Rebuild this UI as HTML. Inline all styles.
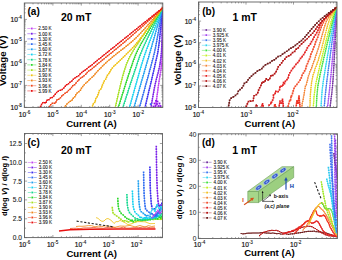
<!DOCTYPE html>
<html><head><meta charset="utf-8"><style>html,body{margin:0;padding:0;background:#fff;width:342px;height:260px;overflow:hidden}text{font-family:"Liberation Sans",sans-serif}</style></head>
<body><svg width="342" height="260" viewBox="0 0 342 260" style="display:block;font-family:'Liberation Sans',sans-serif">
<rect width="342" height="260" fill="#fff"/>
<clipPath id="ca"><rect x="24.3" y="3.0" width="138.5" height="104.4"/></clipPath>
<path d="M24.5,107.4v-2.6M24.5,3.0v2.6M52.9,107.4v-2.6M52.9,3.0v2.6M81.3,107.4v-2.6M81.3,3.0v2.6M109.7,107.4v-2.6M109.7,3.0v2.6M138.1,107.4v-2.6M138.1,3.0v2.6M33,107.4v-1.4M33,3.0v1.4M38.1,107.4v-1.4M38.1,3.0v1.4M41.6,107.4v-1.4M41.6,3.0v1.4M44.4,107.4v-1.4M44.4,3.0v1.4M46.6,107.4v-1.4M46.6,3.0v1.4M48.5,107.4v-1.4M48.5,3.0v1.4M50.1,107.4v-1.4M50.1,3.0v1.4M51.6,107.4v-1.4M51.6,3.0v1.4M61.4,107.4v-1.4M61.4,3.0v1.4M66.5,107.4v-1.4M66.5,3.0v1.4M70,107.4v-1.4M70,3.0v1.4M72.8,107.4v-1.4M72.8,3.0v1.4M75,107.4v-1.4M75,3.0v1.4M76.9,107.4v-1.4M76.9,3.0v1.4M78.5,107.4v-1.4M78.5,3.0v1.4M80,107.4v-1.4M80,3.0v1.4M89.8,107.4v-1.4M89.8,3.0v1.4M94.9,107.4v-1.4M94.9,3.0v1.4M98.4,107.4v-1.4M98.4,3.0v1.4M101.2,107.4v-1.4M101.2,3.0v1.4M103.4,107.4v-1.4M103.4,3.0v1.4M105.3,107.4v-1.4M105.3,3.0v1.4M106.9,107.4v-1.4M106.9,3.0v1.4M108.4,107.4v-1.4M108.4,3.0v1.4M118.2,107.4v-1.4M118.2,3.0v1.4M123.3,107.4v-1.4M123.3,3.0v1.4M126.8,107.4v-1.4M126.8,3.0v1.4M129.6,107.4v-1.4M129.6,3.0v1.4M131.8,107.4v-1.4M131.8,3.0v1.4M133.7,107.4v-1.4M133.7,3.0v1.4M135.3,107.4v-1.4M135.3,3.0v1.4M136.8,107.4v-1.4M136.8,3.0v1.4M146.6,107.4v-1.4M146.6,3.0v1.4M151.7,107.4v-1.4M151.7,3.0v1.4M155.2,107.4v-1.4M155.2,3.0v1.4M158,107.4v-1.4M158,3.0v1.4M160.2,107.4v-1.4M160.2,3.0v1.4M162.1,107.4v-1.4M162.1,3.0v1.4M24.3,107.4h2.6M162.8,107.4h-2.6M24.3,85.4h2.6M162.8,85.4h-2.6M24.3,63.4h2.6M162.8,63.4h-2.6M24.3,41.4h2.6M162.8,41.4h-2.6M24.3,19.4h2.6M162.8,19.4h-2.6M24.3,100.8h1.4M162.8,100.8h-1.4M24.3,96.9h1.4M162.8,96.9h-1.4M24.3,94.2h1.4M162.8,94.2h-1.4M24.3,92h1.4M162.8,92h-1.4M24.3,90.3h1.4M162.8,90.3h-1.4M24.3,88.8h1.4M162.8,88.8h-1.4M24.3,87.5h1.4M162.8,87.5h-1.4M24.3,86.4h1.4M162.8,86.4h-1.4M24.3,78.8h1.4M162.8,78.8h-1.4M24.3,74.9h1.4M162.8,74.9h-1.4M24.3,72.2h1.4M162.8,72.2h-1.4M24.3,70h1.4M162.8,70h-1.4M24.3,68.3h1.4M162.8,68.3h-1.4M24.3,66.8h1.4M162.8,66.8h-1.4M24.3,65.5h1.4M162.8,65.5h-1.4M24.3,64.4h1.4M162.8,64.4h-1.4M24.3,56.8h1.4M162.8,56.8h-1.4M24.3,52.9h1.4M162.8,52.9h-1.4M24.3,50.2h1.4M162.8,50.2h-1.4M24.3,48h1.4M162.8,48h-1.4M24.3,46.3h1.4M162.8,46.3h-1.4M24.3,44.8h1.4M162.8,44.8h-1.4M24.3,43.5h1.4M162.8,43.5h-1.4M24.3,42.4h1.4M162.8,42.4h-1.4M24.3,34.8h1.4M162.8,34.8h-1.4M24.3,30.9h1.4M162.8,30.9h-1.4M24.3,28.2h1.4M162.8,28.2h-1.4M24.3,26h1.4M162.8,26h-1.4M24.3,24.3h1.4M162.8,24.3h-1.4M24.3,22.8h1.4M162.8,22.8h-1.4M24.3,21.5h1.4M162.8,21.5h-1.4M24.3,20.4h1.4M162.8,20.4h-1.4M24.3,12.8h1.4M162.8,12.8h-1.4M24.3,8.9h1.4M162.8,8.9h-1.4M24.3,6.2h1.4M162.8,6.2h-1.4M24.3,4h1.4M162.8,4h-1.4" stroke="#606060" stroke-width="0.6" fill="none"/>
<path d="M155.5,107.4 L155.6,106.6 L155.7,105.7 L155.9,104.6 L156,103.3 L156.2,102 L156.4,100.5 L156.6,99 L156.8,97.5 L157,95.8 L157.2,94.2 L157.5,92.6 L157.7,91 L157.9,89.4 L158.1,87.8 L158.3,86.4 L158.5,85 L158.7,83.7 L158.9,82.4 L159.1,81.1 L159.3,79.8 L159.5,78.6 L159.7,77.3 L159.9,76.1 L160.1,74.8 L160.3,73.6 L160.5,72.4 L160.7,71.2 L160.9,69.9 L161,68.7 L161.2,67.5 L161.4,66.2 L161.5,65 L161.6,63.8 L161.8,62.5 L161.9,61.3 L162,60.1 L162.1,58.9 L162.2,57.7 L162.2,56.5 L162.3,55.3 L162.4,54.1 L162.5,52.9 L162.5,51.6 L162.6,50.4 L162.6,49.1 L162.7,47.7 L162.8,46.4 L162.8,45 L162.8,43.5 L162.9,41.9 L162.9,40.3 L162.9,38.5 L163,36.7 L163,34.9 L163,33.1 L163,31.2 L163,29.5 L163,27.8 L163,26.1 L163,24.6 L163,23.2 L163,22 L163,20.9 L163,20" fill="none" stroke="#c040f0" stroke-width="0.75" stroke-opacity="1.0" clip-path="url(#ca)"/>
<path d="M154.8,106.7h1.5v1.5h-1.5zM155,104.5h1.5v1.5h-1.5zM155.3,102.3h1.5v1.5h-1.5zM155.6,100.1h1.5v1.5h-1.5zM155.9,97.9h1.5v1.5h-1.5zM156.2,95.7h1.5v1.5h-1.5zM156.5,93.6h1.5v1.5h-1.5zM156.8,91.4h1.5v1.5h-1.5zM157.1,89.2h1.5v1.5h-1.5zM157.4,87h1.5v1.5h-1.5zM157.7,84.8h1.5v1.5h-1.5zM158,82.7h1.5v1.5h-1.5zM158.3,80.5h1.5v1.5h-1.5zM158.7,78.3h1.5v1.5h-1.5zM159,76.1h1.5v1.5h-1.5zM159.4,74h1.5v1.5h-1.5zM159.7,71.8h1.5v1.5h-1.5zM160.1,69.6h1.5v1.5h-1.5zM160.4,67.5h1.5v1.5h-1.5zM160.6,65.3h1.5v1.5h-1.5zM160.9,63.1h1.5v1.5h-1.5zM161.1,60.9h1.5v1.5h-1.5zM161.3,58.7h1.5v1.5h-1.5zM161.4,56.5h1.5v1.5h-1.5zM161.6,54.3h1.5v1.5h-1.5zM161.7,52.1h1.5v1.5h-1.5zM161.8,49.9h1.5v1.5h-1.5zM161.9,47.7h1.5v1.5h-1.5zM162,45.5h1.5v1.5h-1.5zM162.1,43.3h1.5v1.5h-1.5zM162.1,41.1h1.5v1.5h-1.5zM162.2,38.9h1.5v1.5h-1.5zM162.2,36.7h1.5v1.5h-1.5zM162.2,34.5h1.5v1.5h-1.5zM162.2,32.3h1.5v1.5h-1.5zM162.2,30.1h1.5v1.5h-1.5zM162.2,27.9h1.5v1.5h-1.5zM162.2,25.7h1.5v1.5h-1.5zM162.2,23.5h1.5v1.5h-1.5zM162.2,21.3h1.5v1.5h-1.5z" fill="#c040f0" clip-path="url(#ca)"/>
<path d="M151,107.4 L151.1,106.6 L151.3,105.7 L151.5,104.6 L151.7,103.3 L151.9,102 L152.2,100.5 L152.4,99 L152.7,97.5 L153,95.8 L153.3,94.2 L153.6,92.6 L153.8,91 L154.1,89.4 L154.4,87.8 L154.7,86.4 L155,85 L155.3,83.7 L155.6,82.4 L155.9,81.1 L156.2,79.8 L156.5,78.6 L156.9,77.3 L157.2,76.1 L157.5,74.8 L157.9,73.6 L158.2,72.4 L158.5,71.2 L158.8,69.9 L159.1,68.7 L159.3,67.5 L159.6,66.2 L159.8,65 L160,63.8 L160.2,62.6 L160.4,61.5 L160.5,60.4 L160.7,59.3 L160.8,58.2 L160.9,57.2 L161.1,56.1 L161.2,54.9 L161.3,53.7 L161.4,52.5 L161.5,51.2 L161.5,49.8 L161.6,48.3 L161.7,46.7 L161.8,45 L161.9,43.1 L162,40.9 L162,38.6 L162.1,36.1 L162.1,33.5 L162.2,30.7 L162.2,28 L162.3,25.2 L162.3,22.5 L162.3,19.9 L162.4,17.4 L162.4,15 L162.4,12.9 L162.5,11 L162.5,9.3 L162.5,8" fill="none" stroke="#7a20e8" stroke-width="0.75" stroke-opacity="1.0" clip-path="url(#ca)"/>
<path d="M150.2,106.7h1.5v1.5h-1.5zM150.6,104.5h1.5v1.5h-1.5zM151,102.3h1.5v1.5h-1.5zM151.4,100.1h1.5v1.5h-1.5zM151.7,98h1.5v1.5h-1.5zM152.1,95.8h1.5v1.5h-1.5zM152.5,93.6h1.5v1.5h-1.5zM152.9,91.5h1.5v1.5h-1.5zM153.3,89.3h1.5v1.5h-1.5zM153.7,87.1h1.5v1.5h-1.5zM154.1,85h1.5v1.5h-1.5zM154.6,82.8h1.5v1.5h-1.5zM155.1,80.7h1.5v1.5h-1.5zM155.6,78.6h1.5v1.5h-1.5zM156.2,76.4h1.5v1.5h-1.5zM156.7,74.3h1.5v1.5h-1.5zM157.3,72.2h1.5v1.5h-1.5zM157.8,70h1.5v1.5h-1.5zM158.3,67.9h1.5v1.5h-1.5zM158.8,65.8h1.5v1.5h-1.5zM159.2,63.6h1.5v1.5h-1.5zM159.5,61.4h1.5v1.5h-1.5zM159.8,59.2h1.5v1.5h-1.5zM160.1,57.1h1.5v1.5h-1.5zM160.3,54.9h1.5v1.5h-1.5zM160.5,52.7h1.5v1.5h-1.5zM160.7,50.5h1.5v1.5h-1.5zM160.8,48.3h1.5v1.5h-1.5zM161,46.1h1.5v1.5h-1.5zM161.1,43.9h1.5v1.5h-1.5zM161.2,41.7h1.5v1.5h-1.5zM161.2,39.5h1.5v1.5h-1.5zM161.3,37.3h1.5v1.5h-1.5zM161.3,35.1h1.5v1.5h-1.5zM161.4,32.9h1.5v1.5h-1.5zM161.4,30.7h1.5v1.5h-1.5zM161.5,28.5h1.5v1.5h-1.5zM161.5,26.3h1.5v1.5h-1.5zM161.5,24.1h1.5v1.5h-1.5zM161.6,21.9h1.5v1.5h-1.5zM161.6,19.7h1.5v1.5h-1.5zM161.6,17.5h1.5v1.5h-1.5zM161.6,15.3h1.5v1.5h-1.5zM161.7,13.1h1.5v1.5h-1.5zM161.7,10.9h1.5v1.5h-1.5zM161.7,8.7h1.5v1.5h-1.5z" fill="#7a20e8" clip-path="url(#ca)"/>
<path d="M145,107.4 L145.4,105.9 L145.8,104 L146.3,101.8 L146.9,99.3 L147.6,96.5 L148.3,93.6 L149,90.6 L149.8,87.5 L150.5,84.3 L151.3,81.1 L152,78 L152.7,75 L153.4,72.2 L154,69.5 L154.5,67.1 L155,65 L155.4,63.2 L155.8,61.5 L156.1,60.1 L156.4,58.8 L156.7,57.7 L156.9,56.6 L157.1,55.6 L157.4,54.7 L157.5,53.7 L157.7,52.8 L157.9,51.8 L158.1,50.7 L158.3,49.5 L158.5,48.2 L158.7,46.7 L158.9,45 L159.1,43.1 L159.4,40.9 L159.6,38.6 L159.9,36.1 L160.2,33.5 L160.4,30.7 L160.7,28 L160.9,25.2 L161.2,22.5 L161.4,19.9 L161.7,17.4 L161.9,15 L162.1,12.9 L162.2,11 L162.4,9.3 L162.5,8" fill="none" stroke="#3a2cf0" stroke-width="0.75" stroke-opacity="1.0" clip-path="url(#ca)"/>
<path d="M144.2,106.7h1.5v1.5h-1.5zM144.8,104.5h1.5v1.5h-1.5zM145.3,102.4h1.5v1.5h-1.5zM145.8,100.2h1.5v1.5h-1.5zM146.3,98.1h1.5v1.5h-1.5zM146.8,95.9h1.5v1.5h-1.5zM147.3,93.8h1.5v1.5h-1.5zM147.8,91.7h1.5v1.5h-1.5zM148.3,89.5h1.5v1.5h-1.5zM148.8,87.4h1.5v1.5h-1.5zM149.4,85.2h1.5v1.5h-1.5zM149.9,83.1h1.5v1.5h-1.5zM150.4,81h1.5v1.5h-1.5zM150.9,78.8h1.5v1.5h-1.5zM151.4,76.7h1.5v1.5h-1.5zM151.9,74.5h1.5v1.5h-1.5zM152.4,72.4h1.5v1.5h-1.5zM152.9,70.3h1.5v1.5h-1.5zM153.4,68.1h1.5v1.5h-1.5zM153.9,66h1.5v1.5h-1.5zM154.3,63.8h1.5v1.5h-1.5zM154.8,61.7h1.5v1.5h-1.5zM155.3,59.5h1.5v1.5h-1.5zM155.8,57.4h1.5v1.5h-1.5zM156.3,55.2h1.5v1.5h-1.5zM156.8,53.1h1.5v1.5h-1.5zM157.2,50.9h1.5v1.5h-1.5zM157.5,48.8h1.5v1.5h-1.5zM157.8,46.6h1.5v1.5h-1.5zM158.1,44.4h1.5v1.5h-1.5zM158.4,42.2h1.5v1.5h-1.5zM158.7,40h1.5v1.5h-1.5zM158.9,37.8h1.5v1.5h-1.5zM159.1,35.7h1.5v1.5h-1.5zM159.3,33.5h1.5v1.5h-1.5zM159.6,31.3h1.5v1.5h-1.5zM159.8,29.1h1.5v1.5h-1.5zM160,26.9h1.5v1.5h-1.5zM160.2,24.7h1.5v1.5h-1.5zM160.4,22.5h1.5v1.5h-1.5zM160.6,20.3h1.5v1.5h-1.5zM160.8,18.1h1.5v1.5h-1.5zM161,15.9h1.5v1.5h-1.5zM161.2,13.8h1.5v1.5h-1.5zM161.4,11.6h1.5v1.5h-1.5zM161.6,9.4h1.5v1.5h-1.5z" fill="#3a2cf0" clip-path="url(#ca)"/>
<path d="M139.5,107.4 L139.9,105.9 L140.4,104 L141.1,101.8 L141.8,99.3 L142.5,96.5 L143.3,93.6 L144.2,90.6 L145.1,87.5 L145.9,84.3 L146.8,81.1 L147.7,78 L148.5,75 L149.3,72.2 L150,69.5 L150.6,67.1 L151.2,65 L151.7,63.2 L152.1,61.5 L152.5,60.1 L152.8,58.8 L153.2,57.7 L153.4,56.6 L153.7,55.6 L153.9,54.7 L154.2,53.7 L154.4,52.8 L154.6,51.8 L154.8,50.7 L155.1,49.5 L155.4,48.2 L155.7,46.7 L156,45 L156.4,43.1 L156.8,40.9 L157.2,38.6 L157.7,36.1 L158.1,33.5 L158.6,30.7 L159.1,28 L159.6,25.2 L160,22.5 L160.5,19.9 L160.9,17.4 L161.3,15 L161.7,12.9 L162,11 L162.3,9.3 L162.5,8" fill="none" stroke="#2f6cf0" stroke-width="0.75" stroke-opacity="1.0" clip-path="url(#ca)"/>
<path d="M138.8,106.7h1.5v1.5h-1.5zM139.3,104.5h1.5v1.5h-1.5zM139.9,102.4h1.5v1.5h-1.5zM140.5,100.3h1.5v1.5h-1.5zM141.1,98.2h1.5v1.5h-1.5zM141.7,96.1h1.5v1.5h-1.5zM142.3,93.9h1.5v1.5h-1.5zM142.9,91.8h1.5v1.5h-1.5zM143.5,89.7h1.5v1.5h-1.5zM144.1,87.6h1.5v1.5h-1.5zM144.6,85.5h1.5v1.5h-1.5zM145.2,83.3h1.5v1.5h-1.5zM145.8,81.2h1.5v1.5h-1.5zM146.4,79.1h1.5v1.5h-1.5zM147,77h1.5v1.5h-1.5zM147.6,74.9h1.5v1.5h-1.5zM148.2,72.7h1.5v1.5h-1.5zM148.7,70.6h1.5v1.5h-1.5zM149.3,68.5h1.5v1.5h-1.5zM149.9,66.4h1.5v1.5h-1.5zM150.5,64.2h1.5v1.5h-1.5zM151,62.1h1.5v1.5h-1.5zM151.6,60h1.5v1.5h-1.5zM152.2,57.9h1.5v1.5h-1.5zM152.7,55.7h1.5v1.5h-1.5zM153.3,53.6h1.5v1.5h-1.5zM153.8,51.5h1.5v1.5h-1.5zM154.2,49.3h1.5v1.5h-1.5zM154.7,47.2h1.5v1.5h-1.5zM155.1,45h1.5v1.5h-1.5zM155.5,42.8h1.5v1.5h-1.5zM155.9,40.7h1.5v1.5h-1.5zM156.3,38.5h1.5v1.5h-1.5zM156.7,36.3h1.5v1.5h-1.5zM157.1,34.2h1.5v1.5h-1.5zM157.5,32h1.5v1.5h-1.5zM157.9,29.8h1.5v1.5h-1.5zM158.3,27.7h1.5v1.5h-1.5zM158.6,25.5h1.5v1.5h-1.5zM159,23.3h1.5v1.5h-1.5zM159.4,21.2h1.5v1.5h-1.5zM159.7,19h1.5v1.5h-1.5zM160.1,16.8h1.5v1.5h-1.5zM160.5,14.7h1.5v1.5h-1.5zM160.8,12.5h1.5v1.5h-1.5zM161.2,10.3h1.5v1.5h-1.5zM161.6,8.2h1.5v1.5h-1.5z" fill="#2f6cf0" clip-path="url(#ca)"/>
<path d="M134,107.4 L134.4,105.9 L135,104 L135.6,101.8 L136.4,99.3 L137.2,96.5 L138,93.6 L138.9,90.6 L139.8,87.5 L140.7,84.3 L141.6,81.1 L142.5,78 L143.4,75 L144.2,72.2 L145,69.5 L145.7,67.1 L146.3,65 L146.8,63.2 L147.3,61.5 L147.7,60.1 L148.1,58.8 L148.4,57.7 L148.7,56.6 L149,55.6 L149.3,54.7 L149.6,53.7 L149.9,52.8 L150.2,51.8 L150.5,50.7 L150.8,49.5 L151.2,48.2 L151.6,46.7 L152.1,45 L152.6,43.1 L153.3,40.9 L153.9,38.6 L154.6,36.1 L155.4,33.5 L156.1,30.7 L156.9,28 L157.7,25.2 L158.4,22.5 L159.2,19.9 L159.9,17.4 L160.5,15 L161.1,12.9 L161.7,11 L162.1,9.3 L162.5,8" fill="none" stroke="#1ea0f0" stroke-width="0.75" stroke-opacity="1.0" clip-path="url(#ca)"/>
<path d="M133.2,106.7h1.5v1.5h-1.5zM133.9,104.5h1.5v1.5h-1.5zM134.5,102.4h1.5v1.5h-1.5zM135.1,100.3h1.5v1.5h-1.5zM135.7,98.2h1.5v1.5h-1.5zM136.3,96.1h1.5v1.5h-1.5zM136.9,94h1.5v1.5h-1.5zM137.5,91.9h1.5v1.5h-1.5zM138.2,89.7h1.5v1.5h-1.5zM138.8,87.6h1.5v1.5h-1.5zM139.4,85.5h1.5v1.5h-1.5zM140,83.4h1.5v1.5h-1.5zM140.6,81.3h1.5v1.5h-1.5zM141.2,79.2h1.5v1.5h-1.5zM141.8,77.1h1.5v1.5h-1.5zM142.4,75h1.5v1.5h-1.5zM143.1,72.8h1.5v1.5h-1.5zM143.7,70.7h1.5v1.5h-1.5zM144.3,68.6h1.5v1.5h-1.5zM144.9,66.5h1.5v1.5h-1.5zM145.5,64.4h1.5v1.5h-1.5zM146.1,62.3h1.5v1.5h-1.5zM146.7,60.2h1.5v1.5h-1.5zM147.4,58.1h1.5v1.5h-1.5zM148,55.9h1.5v1.5h-1.5zM148.6,53.8h1.5v1.5h-1.5zM149.2,51.7h1.5v1.5h-1.5zM149.8,49.6h1.5v1.5h-1.5zM150.4,47.5h1.5v1.5h-1.5zM151,45.4h1.5v1.5h-1.5zM151.6,43.3h1.5v1.5h-1.5zM152.2,41.1h1.5v1.5h-1.5zM152.8,39h1.5v1.5h-1.5zM153.4,36.9h1.5v1.5h-1.5zM154,34.8h1.5v1.5h-1.5zM154.6,32.7h1.5v1.5h-1.5zM155.2,30.6h1.5v1.5h-1.5zM155.8,28.4h1.5v1.5h-1.5zM156.4,26.3h1.5v1.5h-1.5zM157,24.2h1.5v1.5h-1.5zM157.6,22.1h1.5v1.5h-1.5zM158.2,20h1.5v1.5h-1.5zM158.8,17.8h1.5v1.5h-1.5zM159.4,15.7h1.5v1.5h-1.5zM160,13.6h1.5v1.5h-1.5zM160.6,11.5h1.5v1.5h-1.5zM161.2,9.4h1.5v1.5h-1.5zM161.7,7.3h1.5v1.5h-1.5z" fill="#1ea0f0" clip-path="url(#ca)"/>
<path d="M129.5,107.4 L129.9,105.9 L130.5,104 L131.1,101.8 L131.8,99.3 L132.5,96.5 L133.3,93.6 L134.2,90.6 L135.1,87.5 L136,84.3 L136.9,81.1 L137.7,78 L138.6,75 L139.4,72.2 L140.2,69.5 L140.9,67.1 L141.5,65 L142.1,63.2 L142.5,61.5 L143,60.1 L143.4,58.8 L143.8,57.7 L144.1,56.6 L144.4,55.6 L144.8,54.7 L145.1,53.7 L145.4,52.8 L145.8,51.8 L146.2,50.7 L146.6,49.5 L147.1,48.2 L147.7,46.7 L148.3,45 L149,43.1 L149.8,40.9 L150.7,38.6 L151.7,36.1 L152.7,33.5 L153.7,30.7 L154.8,28 L155.8,25.2 L156.9,22.5 L157.9,19.9 L158.9,17.4 L159.8,15 L160.6,12.9 L161.4,11 L162,9.3 L162.5,8" fill="none" stroke="#16d2f0" stroke-width="0.75" stroke-opacity="1.0" clip-path="url(#ca)"/>
<path d="M128.8,106.7h1.5v1.5h-1.5zM129.3,104.5h1.5v1.5h-1.5zM129.9,102.4h1.5v1.5h-1.5zM130.5,100.3h1.5v1.5h-1.5zM131.1,98.2h1.5v1.5h-1.5zM131.7,96.1h1.5v1.5h-1.5zM132.3,93.9h1.5v1.5h-1.5zM132.9,91.8h1.5v1.5h-1.5zM133.5,89.7h1.5v1.5h-1.5zM134.1,87.6h1.5v1.5h-1.5zM134.7,85.5h1.5v1.5h-1.5zM135.3,83.3h1.5v1.5h-1.5zM135.9,81.2h1.5v1.5h-1.5zM136.5,79.1h1.5v1.5h-1.5zM137.1,77h1.5v1.5h-1.5zM137.7,74.9h1.5v1.5h-1.5zM138.3,72.8h1.5v1.5h-1.5zM138.9,70.6h1.5v1.5h-1.5zM139.5,68.5h1.5v1.5h-1.5zM140.1,66.4h1.5v1.5h-1.5zM140.7,64.3h1.5v1.5h-1.5zM141.4,62.2h1.5v1.5h-1.5zM142,60.1h1.5v1.5h-1.5zM142.7,58h1.5v1.5h-1.5zM143.3,55.9h1.5v1.5h-1.5zM144,53.8h1.5v1.5h-1.5zM144.8,51.8h1.5v1.5h-1.5zM145.5,49.7h1.5v1.5h-1.5zM146.3,47.6h1.5v1.5h-1.5zM147.1,45.6h1.5v1.5h-1.5zM147.8,43.5h1.5v1.5h-1.5zM148.6,41.4h1.5v1.5h-1.5zM149.4,39.4h1.5v1.5h-1.5zM150.2,37.3h1.5v1.5h-1.5zM150.9,35.3h1.5v1.5h-1.5zM151.7,33.2h1.5v1.5h-1.5zM152.5,31.2h1.5v1.5h-1.5zM153.3,29.1h1.5v1.5h-1.5zM154.1,27h1.5v1.5h-1.5zM154.9,25h1.5v1.5h-1.5zM155.7,22.9h1.5v1.5h-1.5zM156.5,20.9h1.5v1.5h-1.5zM157.3,18.8h1.5v1.5h-1.5zM158.1,16.8h1.5v1.5h-1.5zM158.9,14.7h1.5v1.5h-1.5zM159.6,12.7h1.5v1.5h-1.5zM160.4,10.6h1.5v1.5h-1.5zM161.2,8.6h1.5v1.5h-1.5z" fill="#16d2f0" clip-path="url(#ca)"/>
<path d="M122.9,107.4 L123.4,105.9 L124,104 L124.7,101.8 L125.5,99.3 L126.4,96.5 L127.3,93.6 L128.3,90.6 L129.3,87.5 L130.3,84.3 L131.4,81.1 L132.4,78 L133.4,75 L134.3,72.2 L135.2,69.5 L136,67.1 L136.7,65 L137.3,63.2 L137.9,61.5 L138.4,60.1 L138.8,58.8 L139.2,57.7 L139.6,56.6 L139.9,55.6 L140.3,54.7 L140.6,53.7 L141,52.8 L141.4,51.8 L141.9,50.7 L142.4,49.5 L143,48.2 L143.6,46.7 L144.4,45 L145.3,43.1 L146.3,40.9 L147.4,38.6 L148.6,36.1 L149.9,33.5 L151.2,30.7 L152.6,28 L153.9,25.2 L155.3,22.5 L156.6,19.9 L157.8,17.4 L159,15 L160.1,12.9 L161,11 L161.8,9.3 L162.5,8" fill="none" stroke="#14d890" stroke-width="0.75" stroke-opacity="1.0" clip-path="url(#ca)"/>
<path d="M122.2,106.7h1.5v1.5h-1.5zM122.8,104.6h1.5v1.5h-1.5zM123.5,102.5h1.5v1.5h-1.5zM124.2,100.4h1.5v1.5h-1.5zM124.8,98.3h1.5v1.5h-1.5zM125.5,96.2h1.5v1.5h-1.5zM126.2,94.1h1.5v1.5h-1.5zM126.9,92h1.5v1.5h-1.5zM127.5,89.9h1.5v1.5h-1.5zM128.2,87.8h1.5v1.5h-1.5zM128.9,85.7h1.5v1.5h-1.5zM129.6,83.6h1.5v1.5h-1.5zM130.2,81.5h1.5v1.5h-1.5zM130.9,79.4h1.5v1.5h-1.5zM131.6,77.3h1.5v1.5h-1.5zM132.3,75.2h1.5v1.5h-1.5zM133,73.2h1.5v1.5h-1.5zM133.7,71.1h1.5v1.5h-1.5zM134.4,69h1.5v1.5h-1.5zM135.1,66.9h1.5v1.5h-1.5zM135.8,64.8h1.5v1.5h-1.5zM136.5,62.7h1.5v1.5h-1.5zM137.2,60.6h1.5v1.5h-1.5zM137.9,58.6h1.5v1.5h-1.5zM138.6,56.5h1.5v1.5h-1.5zM139.3,54.4h1.5v1.5h-1.5zM140.1,52.4h1.5v1.5h-1.5zM141,50.3h1.5v1.5h-1.5zM141.8,48.3h1.5v1.5h-1.5zM142.7,46.3h1.5v1.5h-1.5zM143.6,44.3h1.5v1.5h-1.5zM144.6,42.3h1.5v1.5h-1.5zM145.5,40.3h1.5v1.5h-1.5zM146.4,38.3h1.5v1.5h-1.5zM147.4,36.3h1.5v1.5h-1.5zM148.3,34.3h1.5v1.5h-1.5zM149.3,32.4h1.5v1.5h-1.5zM150.3,30.4h1.5v1.5h-1.5zM151.2,28.4h1.5v1.5h-1.5zM152.2,26.4h1.5v1.5h-1.5zM153.2,24.5h1.5v1.5h-1.5zM154.2,22.5h1.5v1.5h-1.5zM155.2,20.5h1.5v1.5h-1.5zM156.1,18.6h1.5v1.5h-1.5zM157.1,16.6h1.5v1.5h-1.5zM158.1,14.6h1.5v1.5h-1.5zM159.1,12.7h1.5v1.5h-1.5zM160.1,10.7h1.5v1.5h-1.5zM161,8.7h1.5v1.5h-1.5z" fill="#14d890" clip-path="url(#ca)"/>
<path d="M118.3,107.4 L118.8,105.9 L119.4,104 L120.1,101.8 L120.9,99.3 L121.7,96.5 L122.6,93.6 L123.6,90.6 L124.6,87.5 L125.6,84.3 L126.6,81.1 L127.6,78 L128.5,75 L129.5,72.2 L130.3,69.5 L131.2,67.1 L131.9,65 L132.6,63.2 L133.1,61.5 L133.6,60.1 L134.1,58.8 L134.5,57.7 L134.9,56.6 L135.3,55.6 L135.7,54.7 L136.1,53.7 L136.5,52.8 L137,51.8 L137.5,50.7 L138.1,49.5 L138.8,48.2 L139.6,46.7 L140.5,45 L141.5,43.1 L142.8,40.9 L144.1,38.6 L145.6,36.1 L147.1,33.5 L148.7,30.7 L150.4,28 L152,25.2 L153.7,22.5 L155.3,19.9 L156.8,17.4 L158.2,15 L159.5,12.9 L160.7,11 L161.7,9.3 L162.5,8" fill="none" stroke="#2ad82a" stroke-width="0.75" stroke-opacity="1.0" clip-path="url(#ca)"/>
<path d="M117.5,106.7h1.5v1.5h-1.5zM118.2,104.6h1.5v1.5h-1.5zM118.9,102.5h1.5v1.5h-1.5zM119.5,100.4h1.5v1.5h-1.5zM120.2,98.3h1.5v1.5h-1.5zM120.8,96.2h1.5v1.5h-1.5zM121.5,94.1h1.5v1.5h-1.5zM122.2,92h1.5v1.5h-1.5zM122.8,89.9h1.5v1.5h-1.5zM123.5,87.8h1.5v1.5h-1.5zM124.1,85.7h1.5v1.5h-1.5zM124.8,83.6h1.5v1.5h-1.5zM125.5,81.5h1.5v1.5h-1.5zM126.1,79.4h1.5v1.5h-1.5zM126.8,77.3h1.5v1.5h-1.5zM127.5,75.2h1.5v1.5h-1.5zM128.2,73.1h1.5v1.5h-1.5zM128.9,71h1.5v1.5h-1.5zM129.5,68.9h1.5v1.5h-1.5zM130.3,66.8h1.5v1.5h-1.5zM131,64.7h1.5v1.5h-1.5zM131.7,62.7h1.5v1.5h-1.5zM132.4,60.6h1.5v1.5h-1.5zM133.2,58.5h1.5v1.5h-1.5zM133.9,56.5h1.5v1.5h-1.5zM134.7,54.4h1.5v1.5h-1.5zM135.6,52.4h1.5v1.5h-1.5zM136.5,50.4h1.5v1.5h-1.5zM137.5,48.4h1.5v1.5h-1.5zM138.6,46.5h1.5v1.5h-1.5zM139.6,44.6h1.5v1.5h-1.5zM140.6,42.6h1.5v1.5h-1.5zM141.7,40.7h1.5v1.5h-1.5zM142.8,38.8h1.5v1.5h-1.5zM143.9,36.9h1.5v1.5h-1.5zM145,35h1.5v1.5h-1.5zM146.1,33.1h1.5v1.5h-1.5zM147.3,31.2h1.5v1.5h-1.5zM148.4,29.3h1.5v1.5h-1.5zM149.5,27.4h1.5v1.5h-1.5zM150.7,25.5h1.5v1.5h-1.5zM151.8,23.7h1.5v1.5h-1.5zM152.9,21.8h1.5v1.5h-1.5zM154.1,19.9h1.5v1.5h-1.5zM155.2,18h1.5v1.5h-1.5zM156.4,16.1h1.5v1.5h-1.5zM157.5,14.3h1.5v1.5h-1.5zM158.7,12.4h1.5v1.5h-1.5zM159.8,10.5h1.5v1.5h-1.5zM160.9,8.6h1.5v1.5h-1.5z" fill="#2ad82a" clip-path="url(#ca)"/>
<path d="M115.2,107.4 L115.6,106 L116,104.2 L116.5,102.1 L117,99.7 L117.6,97.2 L118.2,94.4 L118.9,91.6 L119.6,88.6 L120.3,85.6 L121.1,82.7 L121.8,79.7 L122.6,76.8 L123.3,74.1 L124.1,71.5 L124.8,69.1 L125.5,67 L126.2,65.1 L126.8,63.4 L127.5,61.8 L128.1,60.3 L128.7,59 L129.3,57.7 L129.9,56.4 L130.6,55.2 L131.3,54 L132,52.8 L132.7,51.6 L133.5,50.3 L134.4,48.9 L135.4,47.4 L136.4,45.8 L137.5,44 L138.8,42 L140.2,39.9 L141.7,37.5 L143.4,35.1 L145.2,32.5 L147,29.9 L148.9,27.2 L150.8,24.6 L152.6,22 L154.4,19.4 L156.1,17 L157.7,14.8 L159.2,12.7 L160.5,10.9 L161.6,9.3 L162.5,8" fill="none" stroke="#a6e020" stroke-width="0.75" stroke-opacity="1.0" clip-path="url(#ca)"/>
<path d="M114.5,106.7h1.5v1.5h-1.5zM115,104.5h1.5v1.5h-1.5zM115.5,102.4h1.5v1.5h-1.5zM116,100.2h1.5v1.5h-1.5zM116.5,98.1h1.5v1.5h-1.5zM117,95.9h1.5v1.5h-1.5zM117.5,93.8h1.5v1.5h-1.5zM118,91.7h1.5v1.5h-1.5zM118.5,89.5h1.5v1.5h-1.5zM119,87.4h1.5v1.5h-1.5zM119.5,85.2h1.5v1.5h-1.5zM120,83.1h1.5v1.5h-1.5zM120.5,81h1.5v1.5h-1.5zM121.1,78.8h1.5v1.5h-1.5zM121.6,76.7h1.5v1.5h-1.5zM122.2,74.6h1.5v1.5h-1.5zM122.8,72.5h1.5v1.5h-1.5zM123.4,70.4h1.5v1.5h-1.5zM124.1,68.2h1.5v1.5h-1.5zM124.8,66.2h1.5v1.5h-1.5zM125.5,64.1h1.5v1.5h-1.5zM126.3,62h1.5v1.5h-1.5zM127.1,60h1.5v1.5h-1.5zM128,58h1.5v1.5h-1.5zM129,56h1.5v1.5h-1.5zM130.1,54.1h1.5v1.5h-1.5zM131.2,52.2h1.5v1.5h-1.5zM132.3,50.3h1.5v1.5h-1.5zM133.5,48.4h1.5v1.5h-1.5zM134.6,46.6h1.5v1.5h-1.5zM135.8,44.7h1.5v1.5h-1.5zM137,42.9h1.5v1.5h-1.5zM138.2,41h1.5v1.5h-1.5zM139.4,39.2h1.5v1.5h-1.5zM140.6,37.3h1.5v1.5h-1.5zM141.9,35.5h1.5v1.5h-1.5zM143.1,33.7h1.5v1.5h-1.5zM144.3,31.9h1.5v1.5h-1.5zM145.6,30.1h1.5v1.5h-1.5zM146.9,28.3h1.5v1.5h-1.5zM148.1,26.5h1.5v1.5h-1.5zM149.4,24.7h1.5v1.5h-1.5zM150.7,22.9h1.5v1.5h-1.5zM151.9,21.1h1.5v1.5h-1.5zM153.2,19.3h1.5v1.5h-1.5zM154.5,17.5h1.5v1.5h-1.5zM155.8,15.7h1.5v1.5h-1.5zM157,13.9h1.5v1.5h-1.5zM158.3,12.1h1.5v1.5h-1.5zM159.6,10.3h1.5v1.5h-1.5zM160.9,8.5h1.5v1.5h-1.5z" fill="#a6e020" clip-path="url(#ca)"/>
<path d="M92.5,106 L93.3,103.8 L94.2,102.4 L95,102.4 L95.8,98.5 L96.7,97.8 L97.6,95.9 L98.5,93.2 L99.4,90.5 L100.4,89.8 L101.4,88.2 L102.3,85.1 L103.3,83.4 L104.3,80.8 L105.4,79.7 L106.4,77.6 L107.5,75.1 L108.6,73.9 L109.8,71.9 L111,69.7 L112.3,68 L113.7,66.3 L115.2,65.1 L116.8,63.5 L118.4,62 L120.1,60.4 L121.6,58.9 L123.2,57.3 L124.7,55.8 L126.3,54.2 L127.9,52.7 L129.5,51.2 L131,49.6 L132.5,48 L134,46.4 L135.4,44.7 L136.8,43 L138.2,41.3 L139.6,39.6 L140.9,37.8 L142.2,36.1 L143.5,34.3 L144.8,32.5 L146.1,30.7 L147.4,29 L148.7,27.2 L150,25.4 L151.3,23.6 L152.6,21.8 L153.9,20 L155.1,18.3 L156.4,16.5 L157.7,14.7 L159,12.9 L160.3,11.1 L161.5,9.3 L162.5,8" fill="none" stroke="#f0c010" stroke-width="0.75" stroke-opacity="1.0" clip-path="url(#ca)"/>
<path d="M91.8,105.2h1.5v1.5h-1.5zM92.5,103.2h1.5v1.5h-1.5zM93.9,101.7h1.5v1.5h-1.5zM94.6,99.9h1.5v1.5h-1.5zM95.1,97.7h1.5v1.5h-1.5zM96.4,96h1.5v1.5h-1.5zM97.2,94h1.5v1.5h-1.5zM97.9,91.9h1.5v1.5h-1.5zM98.6,89.8h1.5v1.5h-1.5zM100.1,88.3h1.5v1.5h-1.5zM101,86.3h1.5v1.5h-1.5zM101.7,84.2h1.5v1.5h-1.5zM102.7,82.2h1.5v1.5h-1.5zM103.5,80.2h1.5v1.5h-1.5zM104.9,78.5h1.5v1.5h-1.5zM105.8,76.5h1.5v1.5h-1.5zM106.7,74.5h1.5v1.5h-1.5zM108.1,72.8h1.5v1.5h-1.5zM109.2,70.9h1.5v1.5h-1.5zM110.3,69h1.5v1.5h-1.5zM111.6,67.2h1.5v1.5h-1.5zM113,65.5h1.5v1.5h-1.5zM114.7,64.1h1.5v1.5h-1.5zM116.3,62.6h1.5v1.5h-1.5zM117.9,61.1h1.5v1.5h-1.5zM119.5,59.5h1.5v1.5h-1.5zM121,58h1.5v1.5h-1.5zM122.6,56.4h1.5v1.5h-1.5zM124.1,54.9h1.5v1.5h-1.5zM125.7,53.3h1.5v1.5h-1.5zM127.3,51.8h1.5v1.5h-1.5zM128.9,50.3h1.5v1.5h-1.5zM130.4,48.7h1.5v1.5h-1.5zM131.9,47.1h1.5v1.5h-1.5zM133.4,45.5h1.5v1.5h-1.5zM134.8,43.8h1.5v1.5h-1.5zM136.2,42.1h1.5v1.5h-1.5zM137.6,40.4h1.5v1.5h-1.5zM138.9,38.6h1.5v1.5h-1.5zM140.3,36.9h1.5v1.5h-1.5zM141.6,35.1h1.5v1.5h-1.5zM142.9,33.4h1.5v1.5h-1.5zM144.2,31.6h1.5v1.5h-1.5zM145.5,29.8h1.5v1.5h-1.5zM146.8,28h1.5v1.5h-1.5zM148.1,26.3h1.5v1.5h-1.5zM149.4,24.5h1.5v1.5h-1.5zM150.7,22.7h1.5v1.5h-1.5zM151.9,20.9h1.5v1.5h-1.5zM153.2,19.1h1.5v1.5h-1.5zM154.5,17.3h1.5v1.5h-1.5zM155.8,15.5h1.5v1.5h-1.5zM157.1,13.8h1.5v1.5h-1.5zM158.4,12h1.5v1.5h-1.5zM159.6,10.2h1.5v1.5h-1.5zM160.9,8.4h1.5v1.5h-1.5z" fill="#f0c010" clip-path="url(#ca)"/>
<path d="M64.5,107.6 L66,104.8 L67.5,103.5 L69,102 L70.5,101.2 L72,100.3 L73.4,97.7 L74.9,96.7 L76.3,93.9 L77.7,92.5 L79.1,91.5 L80.6,90 L82.1,87.1 L83.5,85.7 L85,83.9 L86.5,82.4 L88,81.4 L89.5,79.2 L91.1,78.3 L92.6,76.8 L94.1,75.3 L95.6,73.4 L97.1,71.7 L98.7,70 L100.2,68.6 L101.8,66.9 L103.3,65.3 L104.9,63.9 L106.5,62.3 L108.1,60.9 L109.8,59.4 L111.4,58 L113.1,56.6 L114.8,55.2 L116.6,53.8 L118.3,52.5 L120,51.1 L121.8,49.8 L123.5,48.4 L125.2,47.1 L126.9,45.7 L128.6,44.3 L130.3,42.9 L132,41.4 L133.6,40 L135.3,38.5 L136.8,37 L138.4,35.4 L139.9,33.8 L141.4,32.2 L142.9,30.6 L144.4,29 L145.9,27.3 L147.3,25.7 L148.8,24 L150.2,22.4 L151.7,20.7 L153.1,19 L154.5,17.4 L155.9,15.7 L157.4,14 L158.8,12.3 L160.2,10.6 L161.6,9 L162.5,8" fill="none" stroke="#f08418" stroke-width="0.75" stroke-opacity="1.0" clip-path="url(#ca)"/>
<path d="M63.8,106.8h1.5v1.5h-1.5zM64.8,104.9h1.5v1.5h-1.5zM66.2,103.2h1.5v1.5h-1.5zM67.8,101.7h1.5v1.5h-1.5zM69.6,100.5h1.5v1.5h-1.5zM71.4,99.3h1.5v1.5h-1.5zM72.5,97.4h1.5v1.5h-1.5zM74.1,96h1.5v1.5h-1.5zM75.1,94h1.5v1.5h-1.5zM76.4,92.3h1.5v1.5h-1.5zM78.2,90.9h1.5v1.5h-1.5zM79.7,89.4h1.5v1.5h-1.5zM80.7,87.4h1.5v1.5h-1.5zM82,85.7h1.5v1.5h-1.5zM83.5,84.1h1.5v1.5h-1.5zM85,82.5h1.5v1.5h-1.5zM86.7,81.1h1.5v1.5h-1.5zM88.1,79.5h1.5v1.5h-1.5zM89.6,77.9h1.5v1.5h-1.5zM91.3,76.6h1.5v1.5h-1.5zM92.9,75h1.5v1.5h-1.5zM94.3,73.3h1.5v1.5h-1.5zM95.7,71.7h1.5v1.5h-1.5zM97.2,70h1.5v1.5h-1.5zM98.7,68.5h1.5v1.5h-1.5zM100.3,66.9h1.5v1.5h-1.5zM101.8,65.3h1.5v1.5h-1.5zM103.4,63.8h1.5v1.5h-1.5zM105,62.3h1.5v1.5h-1.5zM106.6,60.8h1.5v1.5h-1.5zM108.3,59.3h1.5v1.5h-1.5zM109.9,57.9h1.5v1.5h-1.5zM111.6,56.5h1.5v1.5h-1.5zM113.3,55.1h1.5v1.5h-1.5zM115,53.7h1.5v1.5h-1.5zM116.7,52.3h1.5v1.5h-1.5zM118.5,51h1.5v1.5h-1.5zM120.2,49.6h1.5v1.5h-1.5zM122,48.3h1.5v1.5h-1.5zM123.7,46.9h1.5v1.5h-1.5zM125.4,45.6h1.5v1.5h-1.5zM127.1,44.2h1.5v1.5h-1.5zM128.8,42.8h1.5v1.5h-1.5zM130.5,41.4h1.5v1.5h-1.5zM132.1,39.9h1.5v1.5h-1.5zM133.8,38.4h1.5v1.5h-1.5zM135.4,36.9h1.5v1.5h-1.5zM136.9,35.4h1.5v1.5h-1.5zM138.5,33.8h1.5v1.5h-1.5zM140,32.2h1.5v1.5h-1.5zM141.5,30.6h1.5v1.5h-1.5zM143,29h1.5v1.5h-1.5zM144.5,27.3h1.5v1.5h-1.5zM145.9,25.7h1.5v1.5h-1.5zM147.4,24h1.5v1.5h-1.5zM148.8,22.4h1.5v1.5h-1.5zM150.3,20.7h1.5v1.5h-1.5zM151.7,19.1h1.5v1.5h-1.5zM153.1,17.4h1.5v1.5h-1.5zM154.5,15.7h1.5v1.5h-1.5zM156,14h1.5v1.5h-1.5zM157.4,12.3h1.5v1.5h-1.5zM158.8,10.7h1.5v1.5h-1.5zM160.2,9h1.5v1.5h-1.5zM161.7,7.3h1.5v1.5h-1.5z" fill="#f08418" clip-path="url(#ca)"/>
<path d="M48.5,108.4 L50.2,105.3 L52,103.4 L53.7,103.1 L55.4,103.3 L57.1,99.6 L58.8,99.3 L60.5,97.8 L62.1,95.6 L63.8,94.4 L65.4,92.9 L66.9,92.3 L68.5,90.4 L70.1,89.1 L71.6,87.4 L73.2,85.2 L74.7,84.6 L76.3,82.6 L77.9,81.1 L79.5,79.1 L81.1,77.7 L82.8,76.9 L84.4,75.3 L86.1,74 L87.7,71.9 L89.4,70.5 L91.1,69.6 L92.8,68.2 L94.5,66.6 L96.2,65.1 L97.9,63.8 L99.6,62.3 L101.3,60.9 L103,59.6 L104.7,58.2 L106.5,56.8 L108.2,55.4 L109.9,54 L111.6,52.6 L113.3,51.3 L115,49.9 L116.7,48.5 L118.4,47.1 L120.1,45.7 L121.8,44.3 L123.5,42.9 L125.2,41.5 L126.8,40 L128.5,38.6 L130.2,37.2 L131.8,35.7 L133.5,34.3 L135.2,32.8 L136.8,31.4 L138.4,29.9 L140.1,28.4 L141.7,27 L143.4,25.5 L145,24 L146.6,22.5 L148.2,21 L149.9,19.6 L151.5,18.1 L153.1,16.6 L154.7,15.1 L156.3,13.6 L158,12.1 L159.6,10.6 L161.2,9.2 L162.5,8" fill="none" stroke="#f04418" stroke-width="0.75" stroke-opacity="1.0" clip-path="url(#ca)"/>
<path d="M47.8,107.7h1.5v1.5h-1.5zM48.8,105.8h1.5v1.5h-1.5zM50,103.9h1.5v1.5h-1.5zM51.6,102.6h1.5v1.5h-1.5zM53.8,102.5h1.5v1.5h-1.5zM55.2,101.3h1.5v1.5h-1.5zM56.1,99.3h1.5v1.5h-1.5zM58,98.5h1.5v1.5h-1.5zM59.7,97.1h1.5v1.5h-1.5zM61,95.3h1.5v1.5h-1.5zM62.6,93.9h1.5v1.5h-1.5zM64.3,92.4h1.5v1.5h-1.5zM66.2,91.5h1.5v1.5h-1.5zM67.7,89.8h1.5v1.5h-1.5zM69.3,88.4h1.5v1.5h-1.5zM70.8,86.8h1.5v1.5h-1.5zM72,84.9h1.5v1.5h-1.5zM73.9,83.9h1.5v1.5h-1.5zM75.3,82.2h1.5v1.5h-1.5zM76.8,80.6h1.5v1.5h-1.5zM78.3,79h1.5v1.5h-1.5zM79.8,77.4h1.5v1.5h-1.5zM81.7,76.3h1.5v1.5h-1.5zM83.3,74.9h1.5v1.5h-1.5zM85,73.5h1.5v1.5h-1.5zM86.5,71.8h1.5v1.5h-1.5zM88,70.3h1.5v1.5h-1.5zM89.9,69.1h1.5v1.5h-1.5zM91.6,67.8h1.5v1.5h-1.5zM93.3,66.3h1.5v1.5h-1.5zM94.9,64.9h1.5v1.5h-1.5zM96.6,63.5h1.5v1.5h-1.5zM98.3,62h1.5v1.5h-1.5zM100,60.7h1.5v1.5h-1.5zM101.7,59.3h1.5v1.5h-1.5zM103.4,57.9h1.5v1.5h-1.5zM105.1,56.5h1.5v1.5h-1.5zM106.8,55.1h1.5v1.5h-1.5zM108.6,53.7h1.5v1.5h-1.5zM110.3,52.4h1.5v1.5h-1.5zM112,51h1.5v1.5h-1.5zM113.7,49.6h1.5v1.5h-1.5zM115.4,48.2h1.5v1.5h-1.5zM117.1,46.8h1.5v1.5h-1.5zM118.8,45.4h1.5v1.5h-1.5zM120.5,44h1.5v1.5h-1.5zM122.2,42.6h1.5v1.5h-1.5zM123.9,41.2h1.5v1.5h-1.5zM125.5,39.8h1.5v1.5h-1.5zM127.2,38.3h1.5v1.5h-1.5zM128.9,36.9h1.5v1.5h-1.5zM130.5,35.5h1.5v1.5h-1.5zM132.2,34h1.5v1.5h-1.5zM133.9,32.6h1.5v1.5h-1.5zM135.5,31.1h1.5v1.5h-1.5zM137.1,29.6h1.5v1.5h-1.5zM138.8,28.2h1.5v1.5h-1.5zM140.4,26.7h1.5v1.5h-1.5zM142.1,25.2h1.5v1.5h-1.5zM143.7,23.8h1.5v1.5h-1.5zM145.3,22.3h1.5v1.5h-1.5zM146.9,20.8h1.5v1.5h-1.5zM148.6,19.3h1.5v1.5h-1.5zM150.2,17.8h1.5v1.5h-1.5zM151.8,16.3h1.5v1.5h-1.5zM153.4,14.9h1.5v1.5h-1.5zM155.1,13.4h1.5v1.5h-1.5zM156.7,11.9h1.5v1.5h-1.5zM158.3,10.4h1.5v1.5h-1.5zM159.9,8.9h1.5v1.5h-1.5zM161.6,7.4h1.5v1.5h-1.5z" fill="#f04418" clip-path="url(#ca)"/>
<path d="M38.8,107.9 L40.5,106.5 L42.2,103.2 L43.9,102.2 L45.7,103.2 L47.4,99.7 L49.1,99.6 L50.8,97.6 L52.5,97.5 L54.2,95.4 L55.9,93.2 L57.7,91.5 L59.4,90.5 L61.1,90.2 L62.8,89.1 L64.5,87.2 L66.2,84.8 L68,84.3 L69.7,82.2 L71.4,81.6 L73.1,79.5 L74.8,78.1 L76.5,76.7 L78.2,76.1 L80,74.1 L81.7,72.6 L83.4,71.3 L85.1,70.1 L86.8,68.8 L88.5,67.3 L90.2,66.1 L92,64.8 L93.7,63.4 L95.4,61.9 L97.1,60.5 L98.8,59.2 L100.5,57.8 L102.3,56.4 L104,55 L105.7,53.7 L107.4,52.3 L109.1,50.9 L110.8,49.5 L112.5,48.1 L114.3,46.8 L116,45.4 L117.7,44 L119.4,42.6 L121.1,41.3 L122.8,39.9 L124.5,38.5 L126.3,37.1 L128,35.7 L129.7,34.4 L131.4,33 L133.1,31.6 L134.8,30.2 L136.6,28.9 L138.3,27.5 L140,26.1 L141.7,24.7 L143.4,23.3 L145.1,22 L146.8,20.6 L148.6,19.2 L150.3,17.8 L152,16.4 L153.7,15.1 L155.4,13.7 L157.1,12.3 L158.8,10.9 L160.6,9.6 L162.3,8.2 L162.5,8" fill="none" stroke="#e81010" stroke-width="0.75" stroke-opacity="1.0" clip-path="url(#ca)"/>
<path d="M38,107.1h1.5v1.5h-1.5zM39.8,105.8h1.5v1.5h-1.5zM40.8,103.8h1.5v1.5h-1.5zM42.1,102.1h1.5v1.5h-1.5zM44,101.9h1.5v1.5h-1.5zM45.4,101.5h1.5v1.5h-1.5zM46.3,99.5h1.5v1.5h-1.5zM48.2,98.9h1.5v1.5h-1.5zM49.7,97.3h1.5v1.5h-1.5zM51.6,96.8h1.5v1.5h-1.5zM53.1,95.2h1.5v1.5h-1.5zM54.5,93.5h1.5v1.5h-1.5zM55.9,91.8h1.5v1.5h-1.5zM57.5,90.4h1.5v1.5h-1.5zM59.6,89.6h1.5v1.5h-1.5zM61.5,88.7h1.5v1.5h-1.5zM63.1,87.2h1.5v1.5h-1.5zM64.5,85.5h1.5v1.5h-1.5zM65.9,83.9h1.5v1.5h-1.5zM67.8,82.9h1.5v1.5h-1.5zM69.2,81.4h1.5v1.5h-1.5zM71.1,80.3h1.5v1.5h-1.5zM72.5,78.6h1.5v1.5h-1.5zM74.2,77.2h1.5v1.5h-1.5zM75.9,75.9h1.5v1.5h-1.5zM77.9,75h1.5v1.5h-1.5zM79.3,73.3h1.5v1.5h-1.5zM80.9,71.8h1.5v1.5h-1.5zM82.7,70.5h1.5v1.5h-1.5zM84.5,69.2h1.5v1.5h-1.5zM86.2,67.9h1.5v1.5h-1.5zM87.9,66.5h1.5v1.5h-1.5zM89.7,65.2h1.5v1.5h-1.5zM91.5,63.9h1.5v1.5h-1.5zM93.1,62.5h1.5v1.5h-1.5zM94.8,61h1.5v1.5h-1.5zM96.5,59.7h1.5v1.5h-1.5zM98.2,58.3h1.5v1.5h-1.5zM100,56.9h1.5v1.5h-1.5zM101.7,55.5h1.5v1.5h-1.5zM103.4,54.1h1.5v1.5h-1.5zM105.1,52.8h1.5v1.5h-1.5zM106.8,51.4h1.5v1.5h-1.5zM108.5,50h1.5v1.5h-1.5zM110.2,48.6h1.5v1.5h-1.5zM112,47.3h1.5v1.5h-1.5zM113.7,45.9h1.5v1.5h-1.5zM115.4,44.5h1.5v1.5h-1.5zM117.1,43.1h1.5v1.5h-1.5zM118.8,41.7h1.5v1.5h-1.5zM120.5,40.4h1.5v1.5h-1.5zM122.3,39h1.5v1.5h-1.5zM124,37.6h1.5v1.5h-1.5zM125.7,36.2h1.5v1.5h-1.5zM127.4,34.9h1.5v1.5h-1.5zM129.1,33.5h1.5v1.5h-1.5zM130.8,32.1h1.5v1.5h-1.5zM132.5,30.7h1.5v1.5h-1.5zM134.3,29.3h1.5v1.5h-1.5zM136,28h1.5v1.5h-1.5zM137.7,26.6h1.5v1.5h-1.5zM139.4,25.2h1.5v1.5h-1.5zM141.1,23.8h1.5v1.5h-1.5zM142.8,22.5h1.5v1.5h-1.5zM144.5,21.1h1.5v1.5h-1.5zM146.3,19.7h1.5v1.5h-1.5zM148,18.3h1.5v1.5h-1.5zM149.7,16.9h1.5v1.5h-1.5zM151.4,15.6h1.5v1.5h-1.5zM153.1,14.2h1.5v1.5h-1.5zM154.8,12.8h1.5v1.5h-1.5zM156.6,11.4h1.5v1.5h-1.5zM158.3,10h1.5v1.5h-1.5zM160,8.7h1.5v1.5h-1.5zM161.7,7.3h1.5v1.5h-1.5z" fill="#e81010" clip-path="url(#ca)"/>
<rect x="153.6" y="102.6" width="1.8" height="1.8" fill="#8a10e8"/>
<rect x="154.6" y="105.1" width="1.8" height="1.8" fill="#8a10e8"/>
<rect x="156.1" y="103.1" width="1.8" height="1.8" fill="#8a10e8"/>
<rect x="157.6" y="105.1" width="1.8" height="1.8" fill="#8a10e8"/>
<rect x="155.1" y="99.89999999999999" width="1.8" height="1.8" fill="#8a10e8"/>
<rect x="158.6" y="102.6" width="1.8" height="1.8" fill="#8a10e8"/>
<rect x="159.6" y="105.1" width="1.8" height="1.8" fill="#8a10e8"/>
<rect x="152.6" y="105.6" width="1.8" height="1.8" fill="#8a10e8"/>
<rect x="156.6" y="100.6" width="1.8" height="1.8" fill="#8a10e8"/>
<rect x="149.8" y="103.2" width="1.8" height="1.8" fill="#2f6cf0"/>
<rect x="24.3" y="3.0" width="138.5" height="104.4" fill="none" stroke="#606060" stroke-width="0.9"/>
<text x="18.8" y="116.8" font-size="6.6" text-anchor="start" fill="#111" stroke="#111" stroke-width="0.18">10<tspan font-size="4.6" dy="-2.4" stroke-width="0.1">-6</tspan></text>
<text x="47.2" y="116.8" font-size="6.6" text-anchor="start" fill="#111" stroke="#111" stroke-width="0.18">10<tspan font-size="4.6" dy="-2.4" stroke-width="0.1">-5</tspan></text>
<text x="75.7" y="116.8" font-size="6.6" text-anchor="start" fill="#111" stroke="#111" stroke-width="0.18">10<tspan font-size="4.6" dy="-2.4" stroke-width="0.1">-4</tspan></text>
<text x="104.1" y="116.8" font-size="6.6" text-anchor="start" fill="#111" stroke="#111" stroke-width="0.18">10<tspan font-size="4.6" dy="-2.4" stroke-width="0.1">-3</tspan></text>
<text x="132.6" y="116.8" font-size="6.6" text-anchor="start" fill="#111" stroke="#111" stroke-width="0.18">10<tspan font-size="4.6" dy="-2.4" stroke-width="0.1">-2</tspan></text>
<text x="10.5" y="109.8" font-size="6.6" text-anchor="start" fill="#111" stroke="#111" stroke-width="0.18">10<tspan font-size="4.6" dy="-2.4" stroke-width="0.1">-8</tspan></text>
<text x="10.5" y="87.8" font-size="6.6" text-anchor="start" fill="#111" stroke="#111" stroke-width="0.18">10<tspan font-size="4.6" dy="-2.4" stroke-width="0.1">-7</tspan></text>
<text x="10.5" y="65.8" font-size="6.6" text-anchor="start" fill="#111" stroke="#111" stroke-width="0.18">10<tspan font-size="4.6" dy="-2.4" stroke-width="0.1">-6</tspan></text>
<text x="10.5" y="43.8" font-size="6.6" text-anchor="start" fill="#111" stroke="#111" stroke-width="0.18">10<tspan font-size="4.6" dy="-2.4" stroke-width="0.1">-5</tspan></text>
<text x="10.5" y="21.8" font-size="6.6" text-anchor="start" fill="#111" stroke="#111" stroke-width="0.18">10<tspan font-size="4.6" dy="-2.4" stroke-width="0.1">-4</tspan></text>
<text x="91.5" y="126.7" font-size="9.6" text-anchor="middle" font-weight="bold" fill="#000"  >Current (A)</text>
<text transform="translate(5.8,60.8) rotate(-90)" font-size="9.8" font-weight="bold" text-anchor="middle">Voltage (V)</text>
<text x="27.5" y="15.3" font-size="10" text-anchor="start" font-weight="bold" fill="#000"  >(a)</text>
<text x="61" y="21" font-size="10.5" text-anchor="start" font-weight="bold" fill="#000"  >20 mT</text>
<path d="M27.3,28.5h3.2M33.1,28.5h3.2" stroke="#c040f0" stroke-width="0.9" stroke-opacity="0.5"/>
<rect x="30.9" y="27.6" width="1.8" height="1.8" fill="#c040f0"/>
<text x="38.3" y="30.4" font-size="4.6" fill="#111" stroke="#111" stroke-width="0.08">2.50 K</text>
<path d="M27.3,33.7h3.2M33.1,33.7h3.2" stroke="#7a20e8" stroke-width="0.9" stroke-opacity="0.5"/>
<rect x="30.9" y="32.8" width="1.8" height="1.8" fill="#7a20e8"/>
<text x="38.3" y="35.6" font-size="4.6" fill="#111" stroke="#111" stroke-width="0.08">3.00 K</text>
<path d="M27.3,38.9h3.2M33.1,38.9h3.2" stroke="#3a2cf0" stroke-width="0.9" stroke-opacity="0.5"/>
<rect x="30.9" y="38" width="1.8" height="1.8" fill="#3a2cf0"/>
<text x="38.3" y="40.8" font-size="4.6" fill="#111" stroke="#111" stroke-width="0.08">3.30 K</text>
<path d="M27.3,44.1h3.2M33.1,44.1h3.2" stroke="#2f6cf0" stroke-width="0.9" stroke-opacity="0.5"/>
<rect x="30.9" y="43.2" width="1.8" height="1.8" fill="#2f6cf0"/>
<text x="38.3" y="46" font-size="4.6" fill="#111" stroke="#111" stroke-width="0.08">3.45 K</text>
<path d="M27.3,49.3h3.2M33.1,49.3h3.2" stroke="#1ea0f0" stroke-width="0.9" stroke-opacity="0.5"/>
<rect x="30.9" y="48.4" width="1.8" height="1.8" fill="#1ea0f0"/>
<text x="38.3" y="51.2" font-size="4.6" fill="#111" stroke="#111" stroke-width="0.08">3.60 K</text>
<path d="M27.3,54.5h3.2M33.1,54.5h3.2" stroke="#16d2f0" stroke-width="0.9" stroke-opacity="0.5"/>
<rect x="30.9" y="53.6" width="1.8" height="1.8" fill="#16d2f0"/>
<text x="38.3" y="56.4" font-size="4.6" fill="#111" stroke="#111" stroke-width="0.08">3.72 K</text>
<path d="M27.3,59.7h3.2M33.1,59.7h3.2" stroke="#14d890" stroke-width="0.9" stroke-opacity="0.5"/>
<rect x="30.9" y="58.8" width="1.8" height="1.8" fill="#14d890"/>
<text x="38.3" y="61.6" font-size="4.6" fill="#111" stroke="#111" stroke-width="0.08">3.78 K</text>
<path d="M27.3,64.9h3.2M33.1,64.9h3.2" stroke="#2ad82a" stroke-width="0.9" stroke-opacity="0.5"/>
<rect x="30.9" y="64" width="1.8" height="1.8" fill="#2ad82a"/>
<text x="38.3" y="66.8" font-size="4.6" fill="#111" stroke="#111" stroke-width="0.08">3.84 K</text>
<path d="M27.3,70.1h3.2M33.1,70.1h3.2" stroke="#a6e020" stroke-width="0.9" stroke-opacity="0.5"/>
<rect x="30.9" y="69.2" width="1.8" height="1.8" fill="#a6e020"/>
<text x="38.3" y="72" font-size="4.6" fill="#111" stroke="#111" stroke-width="0.08">3.87 K</text>
<path d="M27.3,75.3h3.2M33.1,75.3h3.2" stroke="#f0c010" stroke-width="0.9" stroke-opacity="0.5"/>
<rect x="30.9" y="74.4" width="1.8" height="1.8" fill="#f0c010"/>
<text x="38.3" y="77.2" font-size="4.6" fill="#111" stroke="#111" stroke-width="0.08">3.90 K</text>
<path d="M27.3,80.5h3.2M33.1,80.5h3.2" stroke="#f08418" stroke-width="0.9" stroke-opacity="0.5"/>
<rect x="30.9" y="79.6" width="1.8" height="1.8" fill="#f08418"/>
<text x="38.3" y="82.4" font-size="4.6" fill="#111" stroke="#111" stroke-width="0.08">3.93 K</text>
<path d="M27.3,85.7h3.2M33.1,85.7h3.2" stroke="#f04418" stroke-width="0.9" stroke-opacity="0.5"/>
<rect x="30.9" y="84.8" width="1.8" height="1.8" fill="#f04418"/>
<text x="38.3" y="87.6" font-size="4.6" fill="#111" stroke="#111" stroke-width="0.08">3.96 K</text>
<path d="M27.3,90.9h3.2M33.1,90.9h3.2" stroke="#e81010" stroke-width="0.9" stroke-opacity="0.5"/>
<rect x="30.9" y="90" width="1.8" height="1.8" fill="#e81010"/>
<text x="38.3" y="92.8" font-size="4.6" fill="#111" stroke="#111" stroke-width="0.08">3.99 K</text>
<clipPath id="cb"><rect x="198.5" y="2.0" width="138.5" height="105.5"/></clipPath>
<path d="M198.5,107.5v-2.6M198.5,2.0v2.6M246,107.5v-2.6M246,2.0v2.6M293.5,107.5v-2.6M293.5,2.0v2.6M212.8,107.5v-1.4M212.8,2.0v1.4M221.2,107.5v-1.4M221.2,2.0v1.4M227.1,107.5v-1.4M227.1,2.0v1.4M231.7,107.5v-1.4M231.7,2.0v1.4M235.5,107.5v-1.4M235.5,2.0v1.4M238.6,107.5v-1.4M238.6,2.0v1.4M241.4,107.5v-1.4M241.4,2.0v1.4M243.8,107.5v-1.4M243.8,2.0v1.4M260.3,107.5v-1.4M260.3,2.0v1.4M268.7,107.5v-1.4M268.7,2.0v1.4M274.6,107.5v-1.4M274.6,2.0v1.4M279.2,107.5v-1.4M279.2,2.0v1.4M283,107.5v-1.4M283,2.0v1.4M286.1,107.5v-1.4M286.1,2.0v1.4M288.9,107.5v-1.4M288.9,2.0v1.4M291.3,107.5v-1.4M291.3,2.0v1.4M307.8,107.5v-1.4M307.8,2.0v1.4M316.2,107.5v-1.4M316.2,2.0v1.4M322.1,107.5v-1.4M322.1,2.0v1.4M326.7,107.5v-1.4M326.7,2.0v1.4M330.5,107.5v-1.4M330.5,2.0v1.4M333.6,107.5v-1.4M333.6,2.0v1.4M336.4,107.5v-1.4M336.4,2.0v1.4M198.5,107.5h2.6M337.0,107.5h-2.6M198.5,85.9h2.6M337.0,85.9h-2.6M198.5,64.3h2.6M337.0,64.3h-2.6M198.5,42.7h2.6M337.0,42.7h-2.6M198.5,21.1h2.6M337.0,21.1h-2.6M198.5,101h1.4M337.0,101h-1.4M198.5,97.2h1.4M337.0,97.2h-1.4M198.5,94.5h1.4M337.0,94.5h-1.4M198.5,92.4h1.4M337.0,92.4h-1.4M198.5,90.7h1.4M337.0,90.7h-1.4M198.5,89.2h1.4M337.0,89.2h-1.4M198.5,88h1.4M337.0,88h-1.4M198.5,86.9h1.4M337.0,86.9h-1.4M198.5,79.4h1.4M337.0,79.4h-1.4M198.5,75.6h1.4M337.0,75.6h-1.4M198.5,72.9h1.4M337.0,72.9h-1.4M198.5,70.8h1.4M337.0,70.8h-1.4M198.5,69.1h1.4M337.0,69.1h-1.4M198.5,67.6h1.4M337.0,67.6h-1.4M198.5,66.4h1.4M337.0,66.4h-1.4M198.5,65.3h1.4M337.0,65.3h-1.4M198.5,57.8h1.4M337.0,57.8h-1.4M198.5,54h1.4M337.0,54h-1.4M198.5,51.3h1.4M337.0,51.3h-1.4M198.5,49.2h1.4M337.0,49.2h-1.4M198.5,47.5h1.4M337.0,47.5h-1.4M198.5,46h1.4M337.0,46h-1.4M198.5,44.8h1.4M337.0,44.8h-1.4M198.5,43.7h1.4M337.0,43.7h-1.4M198.5,36.2h1.4M337.0,36.2h-1.4M198.5,32.4h1.4M337.0,32.4h-1.4M198.5,29.7h1.4M337.0,29.7h-1.4M198.5,27.6h1.4M337.0,27.6h-1.4M198.5,25.9h1.4M337.0,25.9h-1.4M198.5,24.4h1.4M337.0,24.4h-1.4M198.5,23.2h1.4M337.0,23.2h-1.4M198.5,22.1h1.4M337.0,22.1h-1.4M198.5,14.6h1.4M337.0,14.6h-1.4M198.5,10.8h1.4M337.0,10.8h-1.4M198.5,8.1h1.4M337.0,8.1h-1.4M198.5,6h1.4M337.0,6h-1.4M198.5,4.3h1.4M337.0,4.3h-1.4M198.5,2.8h1.4M337.0,2.8h-1.4" stroke="#606060" stroke-width="0.6" fill="none"/>
<path d="M329.9,107.4 L330.3,105.1 L330.6,102.8 L330.8,100.6 L331.1,98.2 L331.4,96.1 L331.7,94 L332,91.6 L332.2,89.1 L332.4,87 L332.6,84.7 L332.8,82.2 L333,80.1 L333.2,77.7 L333.3,75.3 L333.4,73.2 L333.6,71 L333.7,68.6 L333.8,66.4 L334,64 L334.1,61.8 L334.2,59.5 L334.3,57.2 L334.4,54.9 L334.6,52.5 L334.7,50.3 L334.8,48 L334.9,45.6 L335,43.3 L335.2,41 L335.3,38.7 L335.4,36.4 L335.5,34.2 L335.6,31.8 L335.7,29.5 L335.8,27.3 L336,24.9 L336.1,22.7 L336.2,20.4 L336.3,18.1 L336.4,15.8 L336.5,13.5 L336.6,11.2 L336.7,8.9 L336.7,7.2" fill="none" stroke="#70309c" stroke-width="0.6" stroke-opacity="1.0" clip-path="url(#cb)"/>
<path d="M329.2,106.7h1.4v1.4h-1.4zM329.6,104.5h1.4v1.4h-1.4zM329.9,102.3h1.4v1.4h-1.4zM330.1,100.1h1.4v1.4h-1.4zM330.4,98h1.4v1.4h-1.4zM330.7,95.8h1.4v1.4h-1.4zM331,93.6h1.4v1.4h-1.4zM331.2,91.4h1.4v1.4h-1.4zM331.4,89.2h1.4v1.4h-1.4zM331.7,87h1.4v1.4h-1.4zM331.9,84.8h1.4v1.4h-1.4zM332,82.6h1.4v1.4h-1.4zM332.2,80.5h1.4v1.4h-1.4zM332.4,78.3h1.4v1.4h-1.4zM332.5,76.1h1.4v1.4h-1.4zM332.7,73.9h1.4v1.4h-1.4zM332.8,71.7h1.4v1.4h-1.4zM332.9,69.5h1.4v1.4h-1.4zM333,67.3h1.4v1.4h-1.4zM333.2,65.1h1.4v1.4h-1.4zM333.3,62.9h1.4v1.4h-1.4zM333.4,60.7h1.4v1.4h-1.4zM333.5,58.5h1.4v1.4h-1.4zM333.6,56.3h1.4v1.4h-1.4zM333.7,54.1h1.4v1.4h-1.4zM333.9,51.9h1.4v1.4h-1.4zM334,49.7h1.4v1.4h-1.4zM334.1,47.5h1.4v1.4h-1.4zM334.2,45.3h1.4v1.4h-1.4zM334.3,43.1h1.4v1.4h-1.4zM334.4,40.9h1.4v1.4h-1.4zM334.5,38.7h1.4v1.4h-1.4zM334.6,36.5h1.4v1.4h-1.4zM334.8,34.3h1.4v1.4h-1.4zM334.9,32.1h1.4v1.4h-1.4zM335,29.9h1.4v1.4h-1.4zM335.1,27.7h1.4v1.4h-1.4zM335.2,25.5h1.4v1.4h-1.4zM335.3,23.3h1.4v1.4h-1.4zM335.4,21.1h1.4v1.4h-1.4zM335.5,19h1.4v1.4h-1.4zM335.6,16.8h1.4v1.4h-1.4zM335.7,14.6h1.4v1.4h-1.4zM335.8,12.4h1.4v1.4h-1.4zM335.9,10.2h1.4v1.4h-1.4zM336,8h1.4v1.4h-1.4z" fill="#70309c" clip-path="url(#cb)"/>
<path d="M327.4,107.4 L327.7,105.1 L328.1,103 L328.3,100.7 L328.6,98.5 L328.8,95.9 L329.1,93.8 L329.3,91.4 L329.6,89.1 L329.8,86.8 L330,84.5 L330.3,82.4 L330.4,80.1 L330.7,77.8 L330.9,75.5 L331.2,73.3 L331.4,70.8 L331.5,68.6 L331.8,66.4 L332,63.9 L332.2,61.8 L332.4,59.6 L332.5,57.1 L332.8,55 L333,52.5 L333.2,50.3 L333.4,48 L333.6,45.7 L333.8,43.4 L334,41.1 L334.2,38.8 L334.4,36.6 L334.6,34.3 L334.8,31.9 L335,29.7 L335.2,27.4 L335.4,25.1 L335.6,22.8 L335.8,20.5 L336,18.2 L336.1,15.9 L336.3,13.6 L336.5,11.3 L336.6,9 L336.7,7.2" fill="none" stroke="#a448f0" stroke-width="0.6" stroke-opacity="1.0" clip-path="url(#cb)"/>
<path d="M326.7,106.7h1.4v1.4h-1.4zM327,104.5h1.4v1.4h-1.4zM327.4,102.4h1.4v1.4h-1.4zM327.6,100.2h1.4v1.4h-1.4zM327.8,98h1.4v1.4h-1.4zM328.1,95.8h1.4v1.4h-1.4zM328.3,93.6h1.4v1.4h-1.4zM328.6,91.4h1.4v1.4h-1.4zM328.8,89.3h1.4v1.4h-1.4zM329,87.1h1.4v1.4h-1.4zM329.2,84.9h1.4v1.4h-1.4zM329.5,82.7h1.4v1.4h-1.4zM329.7,80.5h1.4v1.4h-1.4zM329.8,78.3h1.4v1.4h-1.4zM330.1,76.1h1.4v1.4h-1.4zM330.3,73.9h1.4v1.4h-1.4zM330.5,71.7h1.4v1.4h-1.4zM330.7,69.5h1.4v1.4h-1.4zM330.9,67.4h1.4v1.4h-1.4zM331.1,65.2h1.4v1.4h-1.4zM331.3,63h1.4v1.4h-1.4zM331.5,60.8h1.4v1.4h-1.4zM331.7,58.6h1.4v1.4h-1.4zM331.8,56.4h1.4v1.4h-1.4zM332.1,54.2h1.4v1.4h-1.4zM332.3,52h1.4v1.4h-1.4zM332.5,49.8h1.4v1.4h-1.4zM332.7,47.6h1.4v1.4h-1.4zM332.8,45.4h1.4v1.4h-1.4zM333,43.3h1.4v1.4h-1.4zM333.2,41.1h1.4v1.4h-1.4zM333.4,38.9h1.4v1.4h-1.4zM333.6,36.7h1.4v1.4h-1.4zM333.8,34.5h1.4v1.4h-1.4zM334,32.3h1.4v1.4h-1.4zM334.2,30.1h1.4v1.4h-1.4zM334.4,27.9h1.4v1.4h-1.4zM334.5,25.7h1.4v1.4h-1.4zM334.7,23.5h1.4v1.4h-1.4zM334.9,21.3h1.4v1.4h-1.4zM335.1,19.1h1.4v1.4h-1.4zM335.3,17h1.4v1.4h-1.4zM335.5,14.8h1.4v1.4h-1.4zM335.6,12.6h1.4v1.4h-1.4zM335.8,10.4h1.4v1.4h-1.4zM335.9,8.2h1.4v1.4h-1.4z" fill="#a448f0" clip-path="url(#cb)"/>
<path d="M324.1,107.6 L324.3,105.1 L324.6,103.1 L324.7,100.8 L324.9,98.4 L325.2,96 L325.4,93.9 L325.7,91.6 L325.9,89 L326.2,87 L326.5,84.4 L326.7,82.2 L327,80.2 L327.3,77.6 L327.6,75.6 L327.9,73.1 L328.1,70.8 L328.5,68.5 L328.7,66.3 L329.1,64 L329.4,61.8 L329.7,59.5 L330,57.3 L330.3,54.9 L330.6,52.6 L330.9,50.4 L331.2,48.1 L331.5,45.8 L331.8,43.6 L332.1,41.3 L332.4,39 L332.8,36.8 L333,34.5 L333.4,32.2 L333.7,29.9 L334,27.6 L334.3,25.3 L334.6,23.1 L334.9,20.8 L335.2,18.5 L335.5,16.2 L335.8,13.9 L336.1,11.7 L336.4,9.4 L336.7,7.2" fill="none" stroke="#3f78f0" stroke-width="0.6" stroke-opacity="1.0" clip-path="url(#cb)"/>
<path d="M323.4,106.9h1.4v1.4h-1.4zM323.6,104.7h1.4v1.4h-1.4zM323.9,102.5h1.4v1.4h-1.4zM324,100.3h1.4v1.4h-1.4zM324.2,98.1h1.4v1.4h-1.4zM324.4,95.9h1.4v1.4h-1.4zM324.7,93.7h1.4v1.4h-1.4zM324.9,91.5h1.4v1.4h-1.4zM325.1,89.3h1.4v1.4h-1.4zM325.4,87.2h1.4v1.4h-1.4zM325.6,85h1.4v1.4h-1.4zM325.9,82.8h1.4v1.4h-1.4zM326.1,80.6h1.4v1.4h-1.4zM326.4,78.4h1.4v1.4h-1.4zM326.7,76.2h1.4v1.4h-1.4zM327,74.1h1.4v1.4h-1.4zM327.2,71.9h1.4v1.4h-1.4zM327.5,69.7h1.4v1.4h-1.4zM327.8,67.5h1.4v1.4h-1.4zM328.1,65.3h1.4v1.4h-1.4zM328.4,63.2h1.4v1.4h-1.4zM328.7,61h1.4v1.4h-1.4zM329,58.8h1.4v1.4h-1.4zM329.3,56.6h1.4v1.4h-1.4zM329.6,54.4h1.4v1.4h-1.4zM329.8,52.3h1.4v1.4h-1.4zM330.1,50.1h1.4v1.4h-1.4zM330.4,47.9h1.4v1.4h-1.4zM330.7,45.7h1.4v1.4h-1.4zM331,43.5h1.4v1.4h-1.4zM331.3,41.4h1.4v1.4h-1.4zM331.6,39.2h1.4v1.4h-1.4zM331.9,37h1.4v1.4h-1.4zM332.2,34.8h1.4v1.4h-1.4zM332.5,32.6h1.4v1.4h-1.4zM332.8,30.5h1.4v1.4h-1.4zM333.1,28.3h1.4v1.4h-1.4zM333.4,26.1h1.4v1.4h-1.4zM333.7,23.9h1.4v1.4h-1.4zM334,21.7h1.4v1.4h-1.4zM334.3,19.6h1.4v1.4h-1.4zM334.6,17.4h1.4v1.4h-1.4zM334.8,15.2h1.4v1.4h-1.4zM335.1,13h1.4v1.4h-1.4zM335.4,10.8h1.4v1.4h-1.4zM335.7,8.6h1.4v1.4h-1.4z" fill="#3f78f0" clip-path="url(#cb)"/>
<path d="M321,107.6 L321.2,105.1 L321.3,102.9 L321.4,100.7 L321.6,98.4 L321.7,95.9 L321.9,93.6 L322.1,91.6 L322.3,89.1 L322.6,86.7 L322.9,84.5 L323.1,82.3 L323.5,79.9 L323.8,77.9 L324.2,75.5 L324.6,73.3 L324.9,71 L325.4,68.6 L325.7,66.4 L326.1,64.3 L326.5,61.9 L326.8,59.7 L327.3,57.4 L327.6,55 L328.1,52.8 L328.5,50.5 L328.9,48.2 L329.3,46 L329.7,43.7 L330.1,41.5 L330.5,39.3 L330.9,37 L331.3,34.7 L331.7,32.4 L332.2,30.2 L332.6,27.9 L333,25.6 L333.4,23.4 L333.8,21.1 L334.2,18.9 L334.6,16.6 L335.1,14.3 L335.5,12.1 L336,9.8 L336.6,7.6 L336.7,7.2" fill="none" stroke="#2ed4f0" stroke-width="0.6" stroke-opacity="1.0" clip-path="url(#cb)"/>
<path d="M320.3,106.9h1.4v1.4h-1.4zM320.4,104.7h1.4v1.4h-1.4zM320.6,102.6h1.4v1.4h-1.4zM320.7,100.4h1.4v1.4h-1.4zM320.8,98.2h1.4v1.4h-1.4zM320.9,96h1.4v1.4h-1.4zM321.1,93.8h1.4v1.4h-1.4zM321.3,91.6h1.4v1.4h-1.4zM321.5,89.4h1.4v1.4h-1.4zM321.7,87.2h1.4v1.4h-1.4zM322,85h1.4v1.4h-1.4zM322.3,82.8h1.4v1.4h-1.4zM322.6,80.7h1.4v1.4h-1.4zM322.9,78.5h1.4v1.4h-1.4zM323.2,76.3h1.4v1.4h-1.4zM323.6,74.1h1.4v1.4h-1.4zM324,72h1.4v1.4h-1.4zM324.3,69.8h1.4v1.4h-1.4zM324.7,67.6h1.4v1.4h-1.4zM325,65.5h1.4v1.4h-1.4zM325.4,63.3h1.4v1.4h-1.4zM325.8,61.1h1.4v1.4h-1.4zM326.2,58.9h1.4v1.4h-1.4zM326.5,56.8h1.4v1.4h-1.4zM326.9,54.6h1.4v1.4h-1.4zM327.3,52.4h1.4v1.4h-1.4zM327.7,50.3h1.4v1.4h-1.4zM328.1,48.1h1.4v1.4h-1.4zM328.5,46h1.4v1.4h-1.4zM328.9,43.8h1.4v1.4h-1.4zM329.3,41.6h1.4v1.4h-1.4zM329.7,39.5h1.4v1.4h-1.4zM330,37.3h1.4v1.4h-1.4zM330.4,35.1h1.4v1.4h-1.4zM330.8,33h1.4v1.4h-1.4zM331.2,30.8h1.4v1.4h-1.4zM331.6,28.6h1.4v1.4h-1.4zM332,26.5h1.4v1.4h-1.4zM332.4,24.3h1.4v1.4h-1.4zM332.8,22.1h1.4v1.4h-1.4zM333.2,20h1.4v1.4h-1.4zM333.6,17.8h1.4v1.4h-1.4zM334,15.6h1.4v1.4h-1.4zM334.4,13.5h1.4v1.4h-1.4zM334.8,11.3h1.4v1.4h-1.4zM335.3,9.2h1.4v1.4h-1.4zM335.9,7.1h1.4v1.4h-1.4z" fill="#2ed4f0" clip-path="url(#cb)"/>
<path d="M316.3,107.3 L316.5,105 L316.5,102.8 L316.7,100.4 L316.8,98.1 L316.8,96.1 L317.2,93.9 L317.3,91.2 L317.5,89 L317.8,86.7 L318.2,84.5 L318.6,82.5 L319,79.9 L319.4,77.9 L319.8,75.8 L320.4,73.3 L320.8,71.2 L321.4,68.8 L321.9,66.4 L322.4,64.5 L322.9,62.2 L323.4,59.7 L323.9,57.6 L324.5,55.5 L325,53.2 L325.5,50.9 L326.1,48.7 L326.6,46.3 L327.1,44.3 L327.7,42 L328.2,39.8 L328.7,37.5 L329.3,35.3 L329.8,33 L330.4,30.8 L330.9,28.5 L331.5,26.3 L332,24.1 L332.6,21.8 L333.1,19.6 L333.7,17.4 L334.2,15.1 L334.8,12.9 L335.5,10.7 L336.2,8.5 L336.7,7.2" fill="none" stroke="#3ee03e" stroke-width="0.6" stroke-opacity="1.0" clip-path="url(#cb)"/>
<path d="M315.6,106.6h1.4v1.4h-1.4zM315.8,104.4h1.4v1.4h-1.4zM315.8,102.2h1.4v1.4h-1.4zM315.9,100h1.4v1.4h-1.4zM316.1,97.8h1.4v1.4h-1.4zM316.1,95.6h1.4v1.4h-1.4zM316.4,93.4h1.4v1.4h-1.4zM316.6,91.2h1.4v1.4h-1.4zM316.8,89h1.4v1.4h-1.4zM317,86.8h1.4v1.4h-1.4zM317.3,84.6h1.4v1.4h-1.4zM317.7,82.5h1.4v1.4h-1.4zM318.1,80.3h1.4v1.4h-1.4zM318.6,78.2h1.4v1.4h-1.4zM319,76h1.4v1.4h-1.4zM319.4,73.8h1.4v1.4h-1.4zM319.9,71.7h1.4v1.4h-1.4zM320.4,69.6h1.4v1.4h-1.4zM320.8,67.4h1.4v1.4h-1.4zM321.3,65.3h1.4v1.4h-1.4zM321.8,63.1h1.4v1.4h-1.4zM322.3,61h1.4v1.4h-1.4zM322.8,58.8h1.4v1.4h-1.4zM323.3,56.7h1.4v1.4h-1.4zM323.8,54.6h1.4v1.4h-1.4zM324.3,52.4h1.4v1.4h-1.4zM324.8,50.3h1.4v1.4h-1.4zM325.3,48.1h1.4v1.4h-1.4zM325.8,46h1.4v1.4h-1.4zM326.3,43.8h1.4v1.4h-1.4zM326.8,41.7h1.4v1.4h-1.4zM327.4,39.6h1.4v1.4h-1.4zM327.9,37.4h1.4v1.4h-1.4zM328.4,35.3h1.4v1.4h-1.4zM328.9,33.1h1.4v1.4h-1.4zM329.4,31h1.4v1.4h-1.4zM330,28.9h1.4v1.4h-1.4zM330.5,26.7h1.4v1.4h-1.4zM331,24.6h1.4v1.4h-1.4zM331.5,22.5h1.4v1.4h-1.4zM332.1,20.3h1.4v1.4h-1.4zM332.6,18.2h1.4v1.4h-1.4zM333.1,16.1h1.4v1.4h-1.4zM333.7,13.9h1.4v1.4h-1.4zM334.2,11.8h1.4v1.4h-1.4zM334.9,9.7h1.4v1.4h-1.4zM335.6,7.6h1.4v1.4h-1.4z" fill="#3ee03e" clip-path="url(#cb)"/>
<path d="M313.2,107.6 L313.4,105.2 L313.6,102.8 L313.8,100.6 L313.8,98.5 L314.1,96.3 L314.4,93.6 L314.7,91.4 L315,88.9 L315.3,87 L315.7,84.6 L316.1,82.5 L316.6,80 L317.1,77.9 L317.6,75.9 L318.1,73.3 L318.6,71.3 L319.2,69.1 L319.6,66.5 L320.2,64.3 L320.8,62.1 L321.3,60.1 L321.9,57.7 L322.4,55.6 L322.9,53.2 L323.5,51 L324.1,48.9 L324.6,46.6 L325.2,44.4 L325.8,42.1 L326.3,40 L326.9,37.6 L327.5,35.4 L328.1,33.2 L328.7,31 L329.2,28.8 L329.8,26.5 L330.4,24.3 L331,22.1 L331.6,19.9 L332.3,17.7 L332.9,15.5 L333.7,13.3 L334.5,11.2 L335.5,9.1 L336.7,7.2" fill="none" stroke="#c4f020" stroke-width="0.6" stroke-opacity="1.0" clip-path="url(#cb)"/>
<path d="M312.5,106.9h1.4v1.4h-1.4zM312.7,104.7h1.4v1.4h-1.4zM312.9,102.6h1.4v1.4h-1.4zM313.1,100.4h1.4v1.4h-1.4zM313.1,98.2h1.4v1.4h-1.4zM313.3,96h1.4v1.4h-1.4zM313.6,93.8h1.4v1.4h-1.4zM313.9,91.6h1.4v1.4h-1.4zM314.2,89.4h1.4v1.4h-1.4zM314.4,87.2h1.4v1.4h-1.4zM314.8,85.1h1.4v1.4h-1.4zM315.1,82.9h1.4v1.4h-1.4zM315.6,80.7h1.4v1.4h-1.4zM316.1,78.6h1.4v1.4h-1.4zM316.6,76.5h1.4v1.4h-1.4zM317.1,74.3h1.4v1.4h-1.4zM317.5,72.2h1.4v1.4h-1.4zM318,70h1.4v1.4h-1.4zM318.6,67.9h1.4v1.4h-1.4zM318.9,65.7h1.4v1.4h-1.4zM319.5,63.6h1.4v1.4h-1.4zM320,61.5h1.4v1.4h-1.4zM320.6,59.3h1.4v1.4h-1.4zM321.1,57.2h1.4v1.4h-1.4zM321.6,55.1h1.4v1.4h-1.4zM322.1,52.9h1.4v1.4h-1.4zM322.7,50.8h1.4v1.4h-1.4zM323.2,48.7h1.4v1.4h-1.4zM323.8,46.5h1.4v1.4h-1.4zM324.3,44.4h1.4v1.4h-1.4zM324.9,42.3h1.4v1.4h-1.4zM325.4,40.1h1.4v1.4h-1.4zM325.9,38h1.4v1.4h-1.4zM326.5,35.9h1.4v1.4h-1.4zM327,33.7h1.4v1.4h-1.4zM327.6,31.6h1.4v1.4h-1.4zM328.2,29.5h1.4v1.4h-1.4zM328.7,27.4h1.4v1.4h-1.4zM329.3,25.2h1.4v1.4h-1.4zM329.9,23.1h1.4v1.4h-1.4zM330.4,21h1.4v1.4h-1.4zM331,18.9h1.4v1.4h-1.4zM331.6,16.8h1.4v1.4h-1.4zM332.3,14.6h1.4v1.4h-1.4zM333,12.6h1.4v1.4h-1.4zM333.8,10.5h1.4v1.4h-1.4zM334.8,8.5h1.4v1.4h-1.4zM335.9,6.7h1.4v1.4h-1.4z" fill="#c4f020" clip-path="url(#cb)"/>
<path d="M309.7,107.3 L310,105.5 L310.2,103.4 L310,100.4 L310.3,98.5 L310.3,96.3 L310.4,93.9 L310.7,91.2 L310.8,89.3 L311.1,86.6 L311.4,84.4 L311.6,81.9 L312.1,80.2 L312.5,77.8 L313,75.1 L313.7,73.6 L314.5,70.8 L315,68.6 L315.8,67 L316.7,64.8 L317.4,62.3 L318.3,60.6 L318.9,57.9 L319.5,55.8 L320.3,53.8 L320.8,51.3 L321.5,49.4 L322.1,46.9 L322.6,44.6 L323.2,42.6 L323.7,40.3 L324.3,38.2 L324.8,36 L325.4,33.6 L326,31.4 L326.6,29.2 L327.2,27 L327.8,24.8 L328.5,22.6 L329.2,20.4 L330,18.2 L330.9,16.1 L331.9,14.1 L333.1,12.1 L334.5,10.2 L335.9,8.4 L336.7,7.2" fill="none" stroke="#f2c020" stroke-width="0.6" stroke-opacity="1.0" clip-path="url(#cb)"/>
<path d="M309,106.6h1.4v1.4h-1.4zM309.3,104.4h1.4v1.4h-1.4zM309.4,102.2h1.4v1.4h-1.4zM309.4,100h1.4v1.4h-1.4zM309.5,97.9h1.4v1.4h-1.4zM309.6,95.7h1.4v1.4h-1.4zM309.7,93.5h1.4v1.4h-1.4zM309.9,91.3h1.4v1.4h-1.4zM310.1,89.1h1.4v1.4h-1.4zM310.3,86.9h1.4v1.4h-1.4zM310.6,84.7h1.4v1.4h-1.4zM310.8,82.5h1.4v1.4h-1.4zM311.1,80.4h1.4v1.4h-1.4zM311.6,78.2h1.4v1.4h-1.4zM312,76.1h1.4v1.4h-1.4zM312.5,73.9h1.4v1.4h-1.4zM313.3,71.9h1.4v1.4h-1.4zM313.9,69.8h1.4v1.4h-1.4zM314.5,67.7h1.4v1.4h-1.4zM315.4,65.7h1.4v1.4h-1.4zM316.2,63.6h1.4v1.4h-1.4zM316.8,61.5h1.4v1.4h-1.4zM317.7,59.5h1.4v1.4h-1.4zM318.1,57.3h1.4v1.4h-1.4zM318.8,55.2h1.4v1.4h-1.4zM319.5,53.2h1.4v1.4h-1.4zM320,51h1.4v1.4h-1.4zM320.7,48.9h1.4v1.4h-1.4zM321.2,46.8h1.4v1.4h-1.4zM321.7,44.7h1.4v1.4h-1.4zM322.3,42.5h1.4v1.4h-1.4zM322.8,40.4h1.4v1.4h-1.4zM323.4,38.3h1.4v1.4h-1.4zM323.9,36.1h1.4v1.4h-1.4zM324.4,34h1.4v1.4h-1.4zM325,31.9h1.4v1.4h-1.4zM325.6,29.7h1.4v1.4h-1.4zM326.1,27.6h1.4v1.4h-1.4zM326.7,25.5h1.4v1.4h-1.4zM327.3,23.4h1.4v1.4h-1.4zM328,21.3h1.4v1.4h-1.4zM328.7,19.2h1.4v1.4h-1.4zM329.4,17.1h1.4v1.4h-1.4zM330.3,15.1h1.4v1.4h-1.4zM331.4,13.2h1.4v1.4h-1.4zM332.5,11.3h1.4v1.4h-1.4zM333.8,9.5h1.4v1.4h-1.4zM335.1,7.8h1.4v1.4h-1.4z" fill="#f2c020" clip-path="url(#cb)"/>
<path d="M301.5,107.8 L302.2,104.7 L302.2,103.3 L302.8,101.1 L303.5,97.6 L303.7,95.6 L304.1,94.8 L304.5,91.5 L305,88.8 L305.4,86.3 L306.3,85.4 L306.6,83.2 L307.5,80.1 L308,77.6 L308.5,75.9 L309.3,74.1 L310,71.5 L311,69.4 L311.7,67.8 L312.6,64.9 L313.2,63.5 L314,61 L314.8,59.3 L315.6,56.3 L316.4,54 L317,52.4 L317.7,50.3 L318.5,47.9 L319,46 L319.7,43.6 L320.4,41.4 L321.1,38.9 L321.7,36.7 L322.3,34.6 L322.9,32.4 L323.5,30.2 L324.1,27.9 L324.8,25.8 L325.5,23.6 L326.3,21.5 L327.3,19.4 L328.5,17.4 L329.8,15.5 L331.2,13.7 L332.7,11.9 L334.2,10.2 L335.7,8.4 L336.7,7.2" fill="none" stroke="#f48434" stroke-width="0.6" stroke-opacity="1.0" clip-path="url(#cb)"/>
<path d="M300.8,107.1h1.4v1.4h-1.4zM301.3,105h1.4v1.4h-1.4zM301.5,102.8h1.4v1.4h-1.4zM302,100.7h1.4v1.4h-1.4zM302.5,98.5h1.4v1.4h-1.4zM302.8,96.4h1.4v1.4h-1.4zM303.3,94.3h1.4v1.4h-1.4zM303.6,92.1h1.4v1.4h-1.4zM303.9,89.9h1.4v1.4h-1.4zM304.3,87.7h1.4v1.4h-1.4zM304.7,85.6h1.4v1.4h-1.4zM305.7,83.8h1.4v1.4h-1.4zM306.2,81.6h1.4v1.4h-1.4zM306.8,79.5h1.4v1.4h-1.4zM307.2,77.3h1.4v1.4h-1.4zM307.8,75.2h1.4v1.4h-1.4zM308.6,73.2h1.4v1.4h-1.4zM309.2,71.1h1.4v1.4h-1.4zM310.1,69.1h1.4v1.4h-1.4zM311,67.1h1.4v1.4h-1.4zM311.7,65h1.4v1.4h-1.4zM312.4,62.9h1.4v1.4h-1.4zM313.1,60.8h1.4v1.4h-1.4zM314,58.8h1.4v1.4h-1.4zM314.6,56.7h1.4v1.4h-1.4zM315.3,54.6h1.4v1.4h-1.4zM316,52.5h1.4v1.4h-1.4zM316.7,50.4h1.4v1.4h-1.4zM317.4,48.3h1.4v1.4h-1.4zM318.1,46.2h1.4v1.4h-1.4zM318.7,44.1h1.4v1.4h-1.4zM319.3,42h1.4v1.4h-1.4zM319.9,39.9h1.4v1.4h-1.4zM320.5,37.8h1.4v1.4h-1.4zM321,35.7h1.4v1.4h-1.4zM321.7,33.6h1.4v1.4h-1.4zM322.3,31.4h1.4v1.4h-1.4zM322.9,29.3h1.4v1.4h-1.4zM323.4,27.2h1.4v1.4h-1.4zM324.1,25.1h1.4v1.4h-1.4zM324.8,23h1.4v1.4h-1.4zM325.6,20.9h1.4v1.4h-1.4zM326.5,19h1.4v1.4h-1.4zM327.6,17h1.4v1.4h-1.4zM328.8,15.2h1.4v1.4h-1.4zM330.1,13.5h1.4v1.4h-1.4zM331.5,11.8h1.4v1.4h-1.4zM332.9,10.1h1.4v1.4h-1.4zM334.4,8.4h1.4v1.4h-1.4zM335.8,6.7h1.4v1.4h-1.4z" fill="#f48434" clip-path="url(#cb)"/>
<path d="M287.7,108.6 L288,106.5 L288.8,103.3 L290,99.8 L290.5,100.5 L291.1,95.8 L291.4,96.2 L292.5,93.6 L293.8,88.7 L294.7,87.6 L296.1,84.9 L297.1,84.2 L297.9,83.3 L299.3,81.2 L300.8,78.8 L301.7,76.6 L302.2,74.7 L304,72.4 L304.7,70.7 L305.6,69 L306.8,64.4 L307.7,63.6 L308.5,61.1 L309.6,58.7 L310.2,57.5 L310.9,54.1 L311.5,52.9 L312.7,50.1 L313.5,48 L314.2,46.2 L314.9,44.8 L315.8,41.6 L316.6,39.6 L317.5,38 L318.2,35.5 L318.9,33.7 L319.7,31.3 L320.6,29 L321.4,27 L322.2,24.9 L323.2,22.8 L324.3,20.7 L325.5,18.8 L326.9,17 L328.4,15.2 L330,13.6 L331.6,12 L333.3,10.4 L335,8.8 L336.7,7.2 L336.7,7.2" fill="none" stroke="#f25030" stroke-width="0.6" stroke-opacity="1.0" clip-path="url(#cb)"/>
<path d="M286.9,107.8h1.7v1.7h-1.7zM287.3,105.2h1.7v1.7h-1.7zM287.9,102.7h1.7v1.7h-1.7zM288.7,100.2h1.7v1.7h-1.7zM289.7,99.1h1.7v1.7h-1.7zM290.1,96.5h1.7v1.7h-1.7zM290.7,95h1.7v1.7h-1.7zM291.7,92.6h1.7v1.7h-1.7zM292.4,90.1h1.7v1.7h-1.7zM293.2,87.6h1.7v1.7h-1.7zM294.5,85.4h1.7v1.7h-1.7zM296.1,83.5h1.7v1.7h-1.7zM297.7,81.4h1.7v1.7h-1.7zM299.2,79.2h1.7v1.7h-1.7zM300.4,77h1.7v1.7h-1.7zM301.2,74.5h1.7v1.7h-1.7zM302.5,72.3h1.7v1.7h-1.7zM303.8,70.1h1.7v1.7h-1.7zM304.9,67.7h1.7v1.7h-1.7zM305.6,65.2h1.7v1.7h-1.7zM306.6,62.9h1.7v1.7h-1.7zM307.5,60.5h1.7v1.7h-1.7zM308.6,58.2h1.7v1.7h-1.7zM309.5,55.8h1.7v1.7h-1.7zM310.1,53.2h1.7v1.7h-1.7zM311.2,50.9h1.7v1.7h-1.7zM312.2,48.5h1.7v1.7h-1.7zM313.1,46h1.7v1.7h-1.7zM314.1,43.6h1.7v1.7h-1.7zM314.8,41.1h1.7v1.7h-1.7zM315.8,38.7h1.7v1.7h-1.7zM316.9,36.4h1.7v1.7h-1.7zM317.7,33.9h1.7v1.7h-1.7zM318.5,31.5h1.7v1.7h-1.7zM319.4,29h1.7v1.7h-1.7zM320.3,26.6h1.7v1.7h-1.7zM321.3,24.2h1.7v1.7h-1.7zM322.4,21.8h1.7v1.7h-1.7zM323.6,19.5h1.7v1.7h-1.7zM325.1,17.4h1.7v1.7h-1.7zM326.7,15.3h1.7v1.7h-1.7zM328.5,13.4h1.7v1.7h-1.7zM330.3,11.6h1.7v1.7h-1.7zM332.2,9.8h1.7v1.7h-1.7zM334.1,8h1.7v1.7h-1.7z" fill="#f25030" clip-path="url(#cb)"/>
<path d="M269.1,105 L270.7,104.3 L271.1,101.7 L271.6,102.3 L273.5,98.2 L273.4,94.8 L275,94.2 L275.5,91.2 L277.7,92.1 L279.3,90.8 L280.2,85.8 L282.4,86.6 L283.7,81.9 L284.4,83.8 L285.9,80.2 L287.9,79.1 L288.9,74.4 L289.6,73.6 L290.7,71.4 L292,69.8 L292.5,68.7 L293.8,67.8 L295.2,65.2 L297.5,62.6 L298.5,62.2 L300.2,58.7 L301.8,57.5 L302.7,55.4 L304.3,53.9 L305.4,51.3 L306.2,50.9 L307.5,47.4 L308.7,45.7 L310,44.8 L311.3,41.7 L312.3,40.8 L313.4,38.2 L314.7,35.9 L315.9,34.2 L317.1,32.1 L318,30.1 L318.9,28.1 L319.7,25.9 L320.6,23.8 L321.8,21.8 L323.2,20 L324.8,18.3 L326.4,16.7 L328.1,15.1 L329.7,13.5 L331.4,12 L333.1,10.4 L334.9,8.9 L336.6,7.3 L336.7,7.2" fill="none" stroke="#e42222" stroke-width="0.6" stroke-opacity="1.0" clip-path="url(#cb)"/>
<path d="M268.2,104.2h1.7v1.7h-1.7zM270,102.6h1.7v1.7h-1.7zM270.7,101.4h1.7v1.7h-1.7zM271.8,99.2h1.7v1.7h-1.7zM272.6,96.8h1.7v1.7h-1.7zM272.6,94.2h1.7v1.7h-1.7zM274.3,92.6h1.7v1.7h-1.7zM275,90.5h1.7v1.7h-1.7zM277.3,90.8h1.7v1.7h-1.7zM278.7,88.8h1.7v1.7h-1.7zM279.1,86.2h1.7v1.7h-1.7zM280.6,85.4h1.7v1.7h-1.7zM282,84.2h1.7v1.7h-1.7zM282.7,81.7h1.7v1.7h-1.7zM283.6,82.9h1.7v1.7h-1.7zM284.5,80.6h1.7v1.7h-1.7zM286.1,78.7h1.7v1.7h-1.7zM287.4,76.7h1.7v1.7h-1.7zM288,74.2h1.7v1.7h-1.7zM289.1,71.9h1.7v1.7h-1.7zM290.5,69.7h1.7v1.7h-1.7zM291.9,67.6h1.7v1.7h-1.7zM293.6,65.7h1.7v1.7h-1.7zM295.1,63.6h1.7v1.7h-1.7zM296.8,61.7h1.7v1.7h-1.7zM298.4,59.8h1.7v1.7h-1.7zM299.7,57.6h1.7v1.7h-1.7zM301.3,55.8h1.7v1.7h-1.7zM302.8,53.7h1.7v1.7h-1.7zM304.1,51.5h1.7v1.7h-1.7zM305.5,49.4h1.7v1.7h-1.7zM306.5,47h1.7v1.7h-1.7zM307.9,44.9h1.7v1.7h-1.7zM309.6,43h1.7v1.7h-1.7zM310.7,40.7h1.7v1.7h-1.7zM312.1,38.5h1.7v1.7h-1.7zM313.2,36.2h1.7v1.7h-1.7zM314.6,34h1.7v1.7h-1.7zM315.9,31.8h1.7v1.7h-1.7zM317.1,29.4h1.7v1.7h-1.7zM318.2,27.1h1.7v1.7h-1.7zM319,24.6h1.7v1.7h-1.7zM320.1,22.3h1.7v1.7h-1.7zM321.6,20.1h1.7v1.7h-1.7zM323.3,18.2h1.7v1.7h-1.7zM325.1,16.3h1.7v1.7h-1.7zM327,14.5h1.7v1.7h-1.7zM328.9,12.7h1.7v1.7h-1.7zM330.8,10.9h1.7v1.7h-1.7zM332.7,9.2h1.7v1.7h-1.7zM334.6,7.5h1.7v1.7h-1.7z" fill="#e42222" clip-path="url(#cb)"/>
<path d="M244.7,108.3 L246.9,105.5 L247.8,102.2 L249.6,100.7 L251,101.3 L253.1,101 L254,95.7 L255.2,95.3 L256.2,94.8 L257.6,93.6 L258.2,91.3 L259.3,88.5 L261.4,84.6 L262.3,81.7 L264.5,82.3 L266.2,78.8 L267.1,80.2 L269.3,79.7 L271.4,75 L273,75.5 L274.2,74.3 L275.9,71.8 L277.2,69.7 L278.3,66.7 L279.7,65.1 L281,64.2 L282.9,60.9 L283.8,60.4 L285.8,57.6 L287.7,56.1 L289.5,55.9 L291.2,54.1 L292.8,52.4 L294.7,51.4 L295.9,49.3 L297.9,48.5 L299.5,45.9 L301.3,44.1 L302.6,43.5 L304.3,41 L306,40 L307.7,38.3 L309.4,36.1 L310.8,35 L312.5,33.4 L313.9,31.5 L315.4,29.8 L316.7,27.6 L318,25.9 L319.4,24 L320.9,22.3 L322.5,20.6 L324.1,19 L325.8,17.4 L327.5,15.8 L329.1,14.2 L330.8,12.7 L332.5,11.1 L334.2,9.5 L335.9,8 L336.7,7.2" fill="none" stroke="#b41414" stroke-width="0.6" stroke-opacity="1.0" clip-path="url(#cb)"/>
<path d="M243.9,107.4h1.7v1.7h-1.7zM245.5,105.4h1.7v1.7h-1.7zM246.5,103h1.7v1.7h-1.7zM247.6,100.8h1.7v1.7h-1.7zM249.8,100.3h1.7v1.7h-1.7zM252.2,99.9h1.7v1.7h-1.7zM252.7,97.4h1.7v1.7h-1.7zM253.2,94.9h1.7v1.7h-1.7zM255.5,93.7h1.7v1.7h-1.7zM257,91.8h1.7v1.7h-1.7zM257.8,89.3h1.7v1.7h-1.7zM258.9,86.9h1.7v1.7h-1.7zM260.1,84.6h1.7v1.7h-1.7zM261,82.2h1.7v1.7h-1.7zM262.6,81.2h1.7v1.7h-1.7zM264.3,80.1h1.7v1.7h-1.7zM265.4,78.1h1.7v1.7h-1.7zM267.4,79.1h1.7v1.7h-1.7zM269,77.5h1.7v1.7h-1.7zM270.1,75.1h1.7v1.7h-1.7zM272,74.6h1.7v1.7h-1.7zM273.8,72.8h1.7v1.7h-1.7zM275.3,70.7h1.7v1.7h-1.7zM276.5,68.4h1.7v1.7h-1.7zM277.4,66h1.7v1.7h-1.7zM279.1,64h1.7v1.7h-1.7zM280.8,62.1h1.7v1.7h-1.7zM282.2,59.9h1.7v1.7h-1.7zM284,58.2h1.7v1.7h-1.7zM285.6,56.2h1.7v1.7h-1.7zM287.9,55.1h1.7v1.7h-1.7zM289.9,53.7h1.7v1.7h-1.7zM291.7,51.8h1.7v1.7h-1.7zM293.9,50.5h1.7v1.7h-1.7zM295.3,48.3h1.7v1.7h-1.7zM297.4,47.1h1.7v1.7h-1.7zM298.8,44.9h1.7v1.7h-1.7zM300.7,43.1h1.7v1.7h-1.7zM302.6,41.4h1.7v1.7h-1.7zM304.4,39.6h1.7v1.7h-1.7zM306.3,37.9h1.7v1.7h-1.7zM308,35.9h1.7v1.7h-1.7zM309.9,34.2h1.7v1.7h-1.7zM311.8,32.4h1.7v1.7h-1.7zM313.4,30.3h1.7v1.7h-1.7zM314.9,28.3h1.7v1.7h-1.7zM316.4,26.1h1.7v1.7h-1.7zM317.9,24h1.7v1.7h-1.7zM319.6,22h1.7v1.7h-1.7zM321.4,20.1h1.7v1.7h-1.7zM323.2,18.3h1.7v1.7h-1.7zM325.1,16.5h1.7v1.7h-1.7zM326.9,14.7h1.7v1.7h-1.7zM328.8,12.9h1.7v1.7h-1.7zM330.7,11.1h1.7v1.7h-1.7zM332.6,9.3h1.7v1.7h-1.7zM334.5,7.6h1.7v1.7h-1.7z" fill="#b41414" clip-path="url(#cb)"/>
<path d="M228.7,108 L228.6,106 L229.1,103.2 L229.6,100.3 L230.5,98.9 L231.9,97.5 L234.2,96.7 L236.1,94.9 L237.5,93.7 L238.6,90.4 L240.3,89.6 L242,87.9 L243.1,86.4 L244.3,83.3 L246.3,82.5 L247.7,80.5 L249,78.6 L250.8,76.8 L252.6,75 L254.5,73.5 L255.8,72.6 L257.7,70.7 L259.7,69.9 L261.5,68.9 L263.1,66.9 L265,65.1 L266.9,64 L268.9,63.2 L271,62.2 L272.7,60.2 L274.9,59.8 L276.7,57.7 L278.5,56.3 L280.6,55.7 L282.4,54.3 L284.3,52.9 L286.1,51.8 L288.1,50.3 L289.9,48.6 L291.8,47.9 L293.9,46.5 L295.8,45 L297.6,43.6 L299.4,42.1 L301.2,41 L302.7,39.3 L304.3,37.7 L305.8,35.9 L307.4,34 L308.8,32.3 L310.3,30.6 L311.8,28.7 L313.3,27 L314.8,25.3 L316.3,23.6 L317.9,22 L319.6,20.4 L321.3,18.8 L323.1,17.4 L324.9,15.9 L326.7,14.5 L328.5,13.1 L330.4,11.8 L332.3,10.4 L334.1,9.1 L336,7.7 L336.7,7.2" fill="none" stroke="#6e1c1c" stroke-width="0.6" stroke-opacity="1.0" clip-path="url(#cb)"/>
<path d="M227.9,107.1h1.7v1.7h-1.7zM227.9,104.5h1.7v1.7h-1.7zM228.4,102h1.7v1.7h-1.7zM228.8,99.4h1.7v1.7h-1.7zM230.3,97.3h1.7v1.7h-1.7zM232.5,96.1h1.7v1.7h-1.7zM234.6,94.6h1.7v1.7h-1.7zM236.6,92.9h1.7v1.7h-1.7zM237.4,90.4h1.7v1.7h-1.7zM239.2,88.8h1.7v1.7h-1.7zM241.1,87h1.7v1.7h-1.7zM242.5,84.9h1.7v1.7h-1.7zM243.5,82.5h1.7v1.7h-1.7zM245.7,81.3h1.7v1.7h-1.7zM247.2,79.1h1.7v1.7h-1.7zM248.8,77.1h1.7v1.7h-1.7zM250.6,75.3h1.7v1.7h-1.7zM252.5,73.5h1.7v1.7h-1.7zM254.6,72h1.7v1.7h-1.7zM256.5,70.2h1.7v1.7h-1.7zM258.8,69.1h1.7v1.7h-1.7zM261,67.7h1.7v1.7h-1.7zM262.6,65.7h1.7v1.7h-1.7zM264.6,64h1.7v1.7h-1.7zM266.9,62.8h1.7v1.7h-1.7zM269.3,61.8h1.7v1.7h-1.7zM271.2,60.1h1.7v1.7h-1.7zM273.4,59.1h1.7v1.7h-1.7zM275.3,57.5h1.7v1.7h-1.7zM277.2,55.7h1.7v1.7h-1.7zM279.7,54.9h1.7v1.7h-1.7zM281.7,53.3h1.7v1.7h-1.7zM283.8,51.8h1.7v1.7h-1.7zM286,50.4h1.7v1.7h-1.7zM288,48.7h1.7v1.7h-1.7zM290.1,47.3h1.7v1.7h-1.7zM292.4,46.1h1.7v1.7h-1.7zM294.5,44.5h1.7v1.7h-1.7zM296.5,42.9h1.7v1.7h-1.7zM298.5,41.3h1.7v1.7h-1.7zM300.6,39.8h1.7v1.7h-1.7zM302.4,37.9h1.7v1.7h-1.7zM304.2,36h1.7v1.7h-1.7zM305.8,34h1.7v1.7h-1.7zM307.5,32h1.7v1.7h-1.7zM309.2,30h1.7v1.7h-1.7zM310.8,28h1.7v1.7h-1.7zM312.6,26.1h1.7v1.7h-1.7zM314.3,24.1h1.7v1.7h-1.7zM316,22.2h1.7v1.7h-1.7zM317.9,20.4h1.7v1.7h-1.7zM319.8,18.6h1.7v1.7h-1.7zM321.8,16.9h1.7v1.7h-1.7zM323.8,15.3h1.7v1.7h-1.7zM325.8,13.7h1.7v1.7h-1.7zM327.9,12.1h1.7v1.7h-1.7zM330,10.6h1.7v1.7h-1.7zM332.1,9.1h1.7v1.7h-1.7zM334.2,7.5h1.7v1.7h-1.7z" fill="#6e1c1c" clip-path="url(#cb)"/>
<path d="M261.5,107.5 L262.5,103.5 L263.5,107.5" fill="none" stroke="#e42222" stroke-width="0.6" stroke-opacity="1.0" clip-path="url(#cb)"/>
<path d="M260.7,106.7h1.6v1.6h-1.6zM261.2,104.6h1.6v1.6h-1.6zM261.8,103h1.6v1.6h-1.6zM262.3,105.1h1.6v1.6h-1.6z" fill="#e42222" clip-path="url(#cb)"/>
<path d="M255.5,107.5 L256.5,104.5 L257.5,107.5" fill="none" stroke="#b41414" stroke-width="0.6" stroke-opacity="1.0" clip-path="url(#cb)"/>
<path d="M254.7,106.7h1.6v1.6h-1.6zM255.4,104.6h1.6v1.6h-1.6zM256.1,104.9h1.6v1.6h-1.6z" fill="#b41414" clip-path="url(#cb)"/>
<path d="M279,107.5 L280,101 L281.5,104 L282.5,99 L283.5,107.5" fill="none" stroke="#e42222" stroke-width="0.6" stroke-opacity="1.0" clip-path="url(#cb)"/>
<path d="M278.2,106.7h1.6v1.6h-1.6zM278.5,104.5h1.6v1.6h-1.6zM278.9,102.4h1.6v1.6h-1.6zM279.2,100.2h1.6v1.6h-1.6zM280.2,102.2h1.6v1.6h-1.6zM280.9,102.2h1.6v1.6h-1.6zM281.3,100h1.6v1.6h-1.6zM281.7,98.6h1.6v1.6h-1.6zM282,100.8h1.6v1.6h-1.6zM282.3,102.9h1.6v1.6h-1.6zM282.5,105.1h1.6v1.6h-1.6z" fill="#e42222" clip-path="url(#cb)"/>
<path d="M296,107.5 L297,100 L298,104 L299,96 L300,107.5" fill="none" stroke="#f03020" stroke-width="0.6" stroke-opacity="1.0" clip-path="url(#cb)"/>
<path d="M295.2,106.7h1.6v1.6h-1.6zM295.5,104.5h1.6v1.6h-1.6zM295.8,102.3h1.6v1.6h-1.6zM296.1,100.2h1.6v1.6h-1.6zM296.5,100.4h1.6v1.6h-1.6zM297,102.5h1.6v1.6h-1.6zM297.4,101.7h1.6v1.6h-1.6zM297.7,99.5h1.6v1.6h-1.6zM297.9,97.3h1.6v1.6h-1.6zM298.2,95.2h1.6v1.6h-1.6zM298.4,97.4h1.6v1.6h-1.6zM298.6,99.6h1.6v1.6h-1.6zM298.8,101.8h1.6v1.6h-1.6zM299,104h1.6v1.6h-1.6zM299.2,106.2h1.6v1.6h-1.6z" fill="#f03020" clip-path="url(#cb)"/>
<path d="M274,107.5 L275,104 L276,107.5" fill="none" stroke="#f03020" stroke-width="0.6" stroke-opacity="1.0" clip-path="url(#cb)"/>
<path d="M273.2,106.7h1.6v1.6h-1.6zM273.8,104.6h1.6v1.6h-1.6zM274.4,103.9h1.6v1.6h-1.6zM275,106h1.6v1.6h-1.6z" fill="#f03020" clip-path="url(#cb)"/>
<rect x="198.5" y="2.0" width="138.5" height="105.5" fill="none" stroke="#606060" stroke-width="0.9"/>
<text x="192.7" y="116.8" font-size="6.6" text-anchor="start" fill="#111" stroke="#111" stroke-width="0.18">10<tspan font-size="4.6" dy="-2.4" stroke-width="0.1">-4</tspan></text>
<text x="240.6" y="116.8" font-size="6.6" text-anchor="start" fill="#111" stroke="#111" stroke-width="0.18">10<tspan font-size="4.6" dy="-2.4" stroke-width="0.1">-3</tspan></text>
<text x="287.2" y="116.8" font-size="6.6" text-anchor="start" fill="#111" stroke="#111" stroke-width="0.18">10<tspan font-size="4.6" dy="-2.4" stroke-width="0.1">-2</tspan></text>
<text x="184.7" y="109.9" font-size="6.6" text-anchor="start" fill="#111" stroke="#111" stroke-width="0.18">10<tspan font-size="4.6" dy="-2.4" stroke-width="0.1">-8</tspan></text>
<text x="184.7" y="88.3" font-size="6.6" text-anchor="start" fill="#111" stroke="#111" stroke-width="0.18">10<tspan font-size="4.6" dy="-2.4" stroke-width="0.1">-7</tspan></text>
<text x="184.7" y="66.7" font-size="6.6" text-anchor="start" fill="#111" stroke="#111" stroke-width="0.18">10<tspan font-size="4.6" dy="-2.4" stroke-width="0.1">-6</tspan></text>
<text x="184.7" y="45.1" font-size="6.6" text-anchor="start" fill="#111" stroke="#111" stroke-width="0.18">10<tspan font-size="4.6" dy="-2.4" stroke-width="0.1">-5</tspan></text>
<text x="184.7" y="23.5" font-size="6.6" text-anchor="start" fill="#111" stroke="#111" stroke-width="0.18">10<tspan font-size="4.6" dy="-2.4" stroke-width="0.1">-4</tspan></text>
<text x="269.8" y="126.7" font-size="9.6" text-anchor="middle" font-weight="bold" fill="#000"  >Current (A)</text>
<text transform="translate(180.6,60.0) rotate(-90)" font-size="9.8" font-weight="bold" text-anchor="middle">Voltage (V)</text>
<text x="202.2" y="15.3" font-size="10" text-anchor="start" font-weight="bold" fill="#000"  >(b)</text>
<text x="232.5" y="21" font-size="10.5" text-anchor="start" font-weight="bold" fill="#000"  >1 mT</text>
<path d="M201.8,30h3.2M207.6,30h3.2" stroke="#70309c" stroke-width="0.9" stroke-opacity="0.5"/>
<rect x="205.4" y="29.1" width="1.8" height="1.8" fill="#70309c"/>
<text x="212.8" y="31.9" font-size="4.6" fill="#111" stroke="#111" stroke-width="0.08">3.90 K</text>
<path d="M201.8,35.1h3.2M207.6,35.1h3.2" stroke="#a448f0" stroke-width="0.9" stroke-opacity="0.5"/>
<rect x="205.4" y="34.2" width="1.8" height="1.8" fill="#a448f0"/>
<text x="212.8" y="37" font-size="4.6" fill="#111" stroke="#111" stroke-width="0.08">3.925 K</text>
<path d="M201.8,40.2h3.2M207.6,40.2h3.2" stroke="#3f78f0" stroke-width="0.9" stroke-opacity="0.5"/>
<rect x="205.4" y="39.3" width="1.8" height="1.8" fill="#3f78f0"/>
<text x="212.8" y="42.1" font-size="4.6" fill="#111" stroke="#111" stroke-width="0.08">3.95 K</text>
<path d="M201.8,45.3h3.2M207.6,45.3h3.2" stroke="#2ed4f0" stroke-width="0.9" stroke-opacity="0.5"/>
<rect x="205.4" y="44.4" width="1.8" height="1.8" fill="#2ed4f0"/>
<text x="212.8" y="47.2" font-size="4.6" fill="#111" stroke="#111" stroke-width="0.08">3.975 K</text>
<path d="M201.8,50.4h3.2M207.6,50.4h3.2" stroke="#3ee03e" stroke-width="0.9" stroke-opacity="0.5"/>
<rect x="205.4" y="49.5" width="1.8" height="1.8" fill="#3ee03e"/>
<text x="212.8" y="52.3" font-size="4.6" fill="#111" stroke="#111" stroke-width="0.08">4.00 K</text>
<path d="M201.8,55.5h3.2M207.6,55.5h3.2" stroke="#c4f020" stroke-width="0.9" stroke-opacity="0.5"/>
<rect x="205.4" y="54.6" width="1.8" height="1.8" fill="#c4f020"/>
<text x="212.8" y="57.4" font-size="4.6" fill="#111" stroke="#111" stroke-width="0.08">4.01 K</text>
<path d="M201.8,60.6h3.2M207.6,60.6h3.2" stroke="#f2c020" stroke-width="0.9" stroke-opacity="0.5"/>
<rect x="205.4" y="59.7" width="1.8" height="1.8" fill="#f2c020"/>
<text x="212.8" y="62.5" font-size="4.6" fill="#111" stroke="#111" stroke-width="0.08">4.02 K</text>
<path d="M201.8,65.7h3.2M207.6,65.7h3.2" stroke="#f48434" stroke-width="0.9" stroke-opacity="0.5"/>
<rect x="205.4" y="64.8" width="1.8" height="1.8" fill="#f48434"/>
<text x="212.8" y="67.6" font-size="4.6" fill="#111" stroke="#111" stroke-width="0.08">4.03 K</text>
<path d="M201.8,70.8h3.2M207.6,70.8h3.2" stroke="#f25030" stroke-width="0.9" stroke-opacity="0.5"/>
<rect x="205.4" y="69.9" width="1.8" height="1.8" fill="#f25030"/>
<text x="212.8" y="72.7" font-size="4.6" fill="#111" stroke="#111" stroke-width="0.08">4.04 K</text>
<path d="M201.8,75.9h3.2M207.6,75.9h3.2" stroke="#e42222" stroke-width="0.9" stroke-opacity="0.5"/>
<rect x="205.4" y="75" width="1.8" height="1.8" fill="#e42222"/>
<text x="212.8" y="77.8" font-size="4.6" fill="#111" stroke="#111" stroke-width="0.08">4.05 K</text>
<path d="M201.8,81h3.2M207.6,81h3.2" stroke="#b41414" stroke-width="0.9" stroke-opacity="0.5"/>
<rect x="205.4" y="80.1" width="1.8" height="1.8" fill="#b41414"/>
<text x="212.8" y="82.9" font-size="4.6" fill="#111" stroke="#111" stroke-width="0.08">4.06 K</text>
<path d="M201.8,86.1h3.2M207.6,86.1h3.2" stroke="#6e1c1c" stroke-width="0.9" stroke-opacity="0.5"/>
<rect x="205.4" y="85.2" width="1.8" height="1.8" fill="#6e1c1c"/>
<text x="212.8" y="88" font-size="4.6" fill="#111" stroke="#111" stroke-width="0.08">4.07 K</text>
<clipPath id="cc"><rect x="24.5" y="133.5" width="138.0" height="104.1"/></clipPath>
<path d="M24.5,237.6v-2.6M24.5,133.5v2.6M52.9,237.6v-2.6M52.9,133.5v2.6M81.3,237.6v-2.6M81.3,133.5v2.6M109.7,237.6v-2.6M109.7,133.5v2.6M138.1,237.6v-2.6M138.1,133.5v2.6M33,237.6v-1.4M33,133.5v1.4M38.1,237.6v-1.4M38.1,133.5v1.4M41.6,237.6v-1.4M41.6,133.5v1.4M44.4,237.6v-1.4M44.4,133.5v1.4M46.6,237.6v-1.4M46.6,133.5v1.4M48.5,237.6v-1.4M48.5,133.5v1.4M50.1,237.6v-1.4M50.1,133.5v1.4M51.6,237.6v-1.4M51.6,133.5v1.4M61.4,237.6v-1.4M61.4,133.5v1.4M66.5,237.6v-1.4M66.5,133.5v1.4M70,237.6v-1.4M70,133.5v1.4M72.8,237.6v-1.4M72.8,133.5v1.4M75,237.6v-1.4M75,133.5v1.4M76.9,237.6v-1.4M76.9,133.5v1.4M78.5,237.6v-1.4M78.5,133.5v1.4M80,237.6v-1.4M80,133.5v1.4M89.8,237.6v-1.4M89.8,133.5v1.4M94.9,237.6v-1.4M94.9,133.5v1.4M98.4,237.6v-1.4M98.4,133.5v1.4M101.2,237.6v-1.4M101.2,133.5v1.4M103.4,237.6v-1.4M103.4,133.5v1.4M105.3,237.6v-1.4M105.3,133.5v1.4M106.9,237.6v-1.4M106.9,133.5v1.4M108.4,237.6v-1.4M108.4,133.5v1.4M118.2,237.6v-1.4M118.2,133.5v1.4M123.3,237.6v-1.4M123.3,133.5v1.4M126.8,237.6v-1.4M126.8,133.5v1.4M129.6,237.6v-1.4M129.6,133.5v1.4M131.8,237.6v-1.4M131.8,133.5v1.4M133.7,237.6v-1.4M133.7,133.5v1.4M135.3,237.6v-1.4M135.3,133.5v1.4M136.8,237.6v-1.4M136.8,133.5v1.4M146.6,237.6v-1.4M146.6,133.5v1.4M151.7,237.6v-1.4M151.7,133.5v1.4M155.2,237.6v-1.4M155.2,133.5v1.4M158,237.6v-1.4M158,133.5v1.4M160.2,237.6v-1.4M160.2,133.5v1.4M162.1,237.6v-1.4M162.1,133.5v1.4M24.5,237.6h2.6M162.5,237.6h-2.6M24.5,218.8h2.6M162.5,218.8h-2.6M24.5,199.9h2.6M162.5,199.9h-2.6M24.5,181.1h2.6M162.5,181.1h-2.6M24.5,162.3h2.6M162.5,162.3h-2.6M24.5,143.5h2.6M162.5,143.5h-2.6M24.5,228.2h1.4M162.5,228.2h-1.4M24.5,209.4h1.4M162.5,209.4h-1.4M24.5,190.5h1.4M162.5,190.5h-1.4M24.5,171.7h1.4M162.5,171.7h-1.4M24.5,152.9h1.4M162.5,152.9h-1.4M24.5,134.1h1.4M162.5,134.1h-1.4" stroke="#606060" stroke-width="0.6" fill="none"/>
<path d="M59,231 L70,229.8 L90,229.2 L120,229 L155.5,229" fill="none" stroke="#e81010" stroke-width="1.6" clip-path="url(#cc)"/>
<path d="M70,228.5 L73.3,228.3 L76.7,228.3 L80,228.7 L83.3,228 L86.7,227.9 L90,227.9 L93.3,227.5 L96.7,227.9 L100,228.1 L103.3,228.3 L106.7,227.5 L110,227.8 L113.3,227.4 L116.7,228.2 L120,228 L123.3,227.1 L126.7,228.2 L130,228.1 L134.2,227.7 L138.3,227.7 L142.5,227.2 L146.7,227.1 L150.8,227.8 L155,227.8" fill="none" stroke="#f04418" stroke-width="0.8" stroke-opacity="1.0" clip-path="url(#cc)"/>
<path d="M76,226.5 L79,226.2 L82,226.3 L85,226.1 L88.3,225.6 L91.7,225.7 L95,226.8 L98.3,226.1 L101.7,226.6 L105,225.8 L108.3,226.2 L111.7,226.6 L115,227.3 L120,226 L125,226.2 L130,225.4 L135,226.9 L140,225.5 L145,227.1 L148.3,225.6 L151.7,226.5 L155,226" fill="none" stroke="#f08418" stroke-width="0.8" stroke-opacity="1.0" clip-path="url(#cc)"/>
<path d="M96,217.6 L98,218.3 L100,220.2 L102,221.4 L104,221 L106,219 L108,218.5 L110,219.6 L112,221.1 L114,223.5 L116,221.6 L118,221.7 L120,220.4 L122.7,221.6 L125.3,222.9 L128,224.7 L132,223.6 L136,221.7 L140,221.6 L145,221.8 L150,223.7 L155,223.5" fill="none" stroke="#f0c010" stroke-width="0.8" stroke-opacity="1.0" clip-path="url(#cc)"/>
<path d="M76.6,221.1L113.4,226.8" stroke="#222" stroke-width="1.1" stroke-dasharray="2.2,1.6"/>
<path d="M112.3,207.6 L112.3,208 L112.4,208.4 L112.4,209 L112.5,209.7 L112.6,210.4 L112.7,211 L112.8,211.7 L112.9,212.3 L113,212.9 L113.1,213.3 L113.3,213.6 L113.5,213.9 L113.7,214.1 L113.9,214.2 L114.1,214.3 L114.3,214.4 L114.6,214.5 L114.9,214.6 L115.2,214.8 L115.5,215 L115.8,215.2 L116.1,215.5 L116.5,215.8 L116.8,216.1 L117.2,216.4 L117.6,216.7 L118,217.1 L118.4,217.4 L118.9,217.7 L119.3,218 L119.7,218.3 L120.2,218.6 L120.6,219 L121,219.3 L121.5,219.6 L122,220.3 L122.5,220.5 L123,221 L123.6,221.6 L124.3,221.5 L125,220.5 L125.6,220.7 L126.2,221.3 L126.9,221.3 L127.6,222.5 L128.4,222.1 L129.3,221.6 L130.4,221.3 L131.7,221 L133.3,221.7 L135.2,222.2 L137.6,220.5 L140.2,220.8 L143.1,220.3 L146,220.5 L148.9,219.4 L151.7,218.8 L154.2,219.7 L156.3,218.8 L158,219.3 L159.2,219.7 L160.1,219.1 L160.7,219.8 L161.1,219.6 L161.3,218.2 L161.4,218.7 L161.4,219.6 L161.4,219.3 L161.4,218.5 L161.5,220.1" fill="none" stroke="#a6e020" stroke-width="0.6" stroke-opacity="1.0" clip-path="url(#cc)"/>
<path d="M111.5,206.8h1.6v1.6h-1.6zM111.8,209.4h1.6v1.6h-1.6zM112.2,212h1.6v1.6h-1.6zM113.8,213.7h1.6v1.6h-1.6zM115.9,215.2h1.6v1.6h-1.6zM118,216.8h1.6v1.6h-1.6zM120.1,218.4h1.6v1.6h-1.6zM122,220h1.6v1.6h-1.6zM123.9,220h1.6v1.6h-1.6zM126.1,220.5h1.6v1.6h-1.6zM127.8,221.2h1.6v1.6h-1.6zM130.3,220.4h1.6v1.6h-1.6zM132.7,221h1.6v1.6h-1.6zM135.1,220.9h1.6v1.6h-1.6zM137.3,219.7h1.6v1.6h-1.6zM139.9,219.9h1.6v1.6h-1.6zM142.4,219.5h1.6v1.6h-1.6zM145,219.7h1.6v1.6h-1.6zM147.5,218.9h1.6v1.6h-1.6zM150,218.2h1.6v1.6h-1.6zM152.5,218.6h1.6v1.6h-1.6zM154.9,218.2h1.6v1.6h-1.6zM157.3,218.5h1.6v1.6h-1.6zM159.5,218.5h1.6v1.6h-1.6zM160.5,217.6h1.6v1.6h-1.6zM160.6,217.9h1.6v1.6h-1.6z" fill="#a6e020" clip-path="url(#cc)"/>
<path d="M117.8,198.5 L117.8,199.1 L117.9,199.8 L117.9,200.8 L118,201.8 L118,202.9 L118.1,204 L118.2,205.1 L118.3,206.1 L118.4,207.1 L118.5,207.8 L118.7,208.5 L118.8,209.1 L119,209.6 L119.2,210.1 L119.3,210.6 L119.6,211 L119.8,211.4 L120,211.8 L120.2,212.1 L120.5,212.5 L120.8,212.9 L121,213.2 L121.3,213.5 L121.6,213.7 L122,214 L122.3,214.3 L122.6,214.5 L123,214.8 L123.4,215.1 L123.8,215.5 L124.2,215.9 L124.6,216.4 L125,216.9 L125.5,217.4 L125.9,217.4 L126.4,217.7 L127,218.7 L127.5,218.6 L128.1,219.5 L128.8,219.2 L129.5,220.3 L130.2,220.5 L130.9,220.2 L131.6,221.3 L132.4,219.8 L133.2,221.7 L134.2,220.6 L135.2,220 L136.4,220.4 L137.8,220.3 L139.4,219.4 L141.4,220.6 L143.6,220.2 L145.9,219.8 L148.2,219.6 L150.6,219.8 L152.8,218.7 L154.8,218.6 L156.6,219.1 L158,218.8 L159,217.2 L159.8,216.9 L160.4,218.4 L160.8,217.7 L161,216.4 L161.2,216.7 L161.2,216.8 L161.3,216.9 L161.4,216.6 L161.5,216.6" fill="none" stroke="#2ad82a" stroke-width="0.6" stroke-opacity="1.0" clip-path="url(#cc)"/>
<path d="M117,197.7h1.6v1.6h-1.6zM117.1,200.3h1.6v1.6h-1.6zM117.3,202.9h1.6v1.6h-1.6zM117.5,205.5h1.6v1.6h-1.6zM117.9,208h1.6v1.6h-1.6zM118.9,210.5h1.6v1.6h-1.6zM120.4,212.6h1.6v1.6h-1.6zM122.4,214.2h1.6v1.6h-1.6zM124.2,216.1h1.6v1.6h-1.6zM126,217.7h1.6v1.6h-1.6zM128,218.4h1.6v1.6h-1.6zM129.9,219.5h1.6v1.6h-1.6zM131.3,219.4h1.6v1.6h-1.6zM132.4,220.8h1.6v1.6h-1.6zM134.4,219.2h1.6v1.6h-1.6zM137,219.5h1.6v1.6h-1.6zM139.2,218.9h1.6v1.6h-1.6zM141.5,219.6h1.6v1.6h-1.6zM144.1,219.2h1.6v1.6h-1.6zM146.7,218.9h1.6v1.6h-1.6zM149.3,219h1.6v1.6h-1.6zM151.6,218.1h1.6v1.6h-1.6zM154.2,217.8h1.6v1.6h-1.6zM156.7,218.1h1.6v1.6h-1.6zM158.4,216.3h1.6v1.6h-1.6zM159.8,217.2h1.6v1.6h-1.6zM160.5,215.9h1.6v1.6h-1.6z" fill="#2ad82a" clip-path="url(#cc)"/>
<path d="M126.9,194.8 L126.9,195.5 L127,196.4 L127,197.5 L127,198.7 L127.1,200 L127.2,201.3 L127.2,202.6 L127.3,203.8 L127.4,205 L127.5,205.9 L127.6,206.7 L127.7,207.5 L127.9,208.2 L128,208.9 L128.2,209.5 L128.4,210 L128.5,210.6 L128.7,211.1 L128.9,211.5 L129.2,212 L129.4,212.4 L129.6,212.8 L129.8,213.1 L130.1,213.4 L130.3,213.6 L130.6,213.9 L130.9,214.1 L131.2,214.4 L131.5,214.7 L131.9,215 L132.3,215.4 L132.7,215.8 L133.1,216.2 L133.5,216.7 L134,217.3 L134.5,217.8 L135,217.9 L135.6,218.7 L136.2,218.7 L136.9,218.9 L137.6,218.5 L138.4,218.6 L139.2,219.8 L140.1,218.8 L141,220 L141.9,219.8 L142.8,219.4 L143.8,220.2 L144.9,219.4 L145.9,219.3 L147,220 L148.3,219.2 L149.6,219 L150.9,217.7 L152.3,218.7 L153.6,217.8 L154.9,217.2 L156.1,217.8 L157.1,217.1 L158,216.5 L158.7,216.6 L159.3,215.9 L159.8,215.9 L160.2,216.2 L160.5,214.4 L160.8,215.8 L161,215 L161.2,214.7 L161.3,213.5 L161.5,214.3" fill="none" stroke="#14d890" stroke-width="0.6" stroke-opacity="1.0" clip-path="url(#cc)"/>
<path d="M126.1,194h1.6v1.6h-1.6zM126.2,196.6h1.6v1.6h-1.6zM126.3,199.2h1.6v1.6h-1.6zM126.4,201.8h1.6v1.6h-1.6zM126.6,204.4h1.6v1.6h-1.6zM127,207h1.6v1.6h-1.6zM127.6,209.5h1.6v1.6h-1.6zM128.7,211.8h1.6v1.6h-1.6zM130.5,213.7h1.6v1.6h-1.6zM132.4,215.5h1.6v1.6h-1.6zM134.3,217.2h1.6v1.6h-1.6zM136.4,218h1.6v1.6h-1.6zM138.4,218.9h1.6v1.6h-1.6zM140,219h1.6v1.6h-1.6zM142.3,218.8h1.6v1.6h-1.6zM144.4,218.6h1.6v1.6h-1.6zM146.8,218.8h1.6v1.6h-1.6zM149.1,217.9h1.6v1.6h-1.6zM151.1,217.6h1.6v1.6h-1.6zM153.3,216.8h1.6v1.6h-1.6zM155.6,216.8h1.6v1.6h-1.6zM157.8,215.7h1.6v1.6h-1.6zM159.5,214.8h1.6v1.6h-1.6zM160,214.9h1.6v1.6h-1.6zM160.6,212.9h1.6v1.6h-1.6z" fill="#14d890" clip-path="url(#cc)"/>
<path d="M132.4,191.2 L132.4,192 L132.5,193 L132.5,194.2 L132.5,195.6 L132.6,197 L132.6,198.5 L132.7,200 L132.8,201.4 L132.8,202.6 L132.9,203.7 L133,204.7 L133.2,205.6 L133.3,206.4 L133.4,207.2 L133.6,208 L133.7,208.7 L133.9,209.3 L134,209.9 L134.2,210.5 L134.4,211 L134.6,211.5 L134.8,211.9 L135,212.2 L135.2,212.5 L135.4,212.7 L135.7,213 L135.9,213.2 L136.2,213.4 L136.5,213.7 L136.9,214 L137.3,214.3 L137.7,214.7 L138.1,215.1 L138.5,215.5 L139,215.7 L139.5,216.1 L140,217.5 L140.6,217.8 L141.2,216.9 L141.9,218.2 L142.6,218.6 L143.5,218.5 L144.4,217 L145.3,219 L146.3,217.6 L147.2,218.8 L148.2,217.5 L149.2,218.3 L150.1,217.9 L150.9,218.4 L151.7,218.4 L152.5,218.4 L153.3,218.2 L154,218.1 L154.8,217.4 L155.5,216.9 L156.2,217.1 L156.8,216.5 L157.4,216.5 L158,215.3 L158.5,216 L159,215.3 L159.4,213.3 L159.8,213.8 L160.2,212.7 L160.5,212.2 L160.8,211.9 L161.1,211.1 L161.3,210.7 L161.5,210.8" fill="none" stroke="#16d2f0" stroke-width="0.6" stroke-opacity="1.0" clip-path="url(#cc)"/>
<path d="M131.6,190.4h1.6v1.6h-1.6zM131.7,193h1.6v1.6h-1.6zM131.8,195.6h1.6v1.6h-1.6zM131.9,198.2h1.6v1.6h-1.6zM132,200.8h1.6v1.6h-1.6zM132.2,203.4h1.6v1.6h-1.6zM132.5,206h1.6v1.6h-1.6zM133.1,208.5h1.6v1.6h-1.6zM134,210.9h1.6v1.6h-1.6zM135.7,212.9h1.6v1.6h-1.6zM137.6,214.6h1.6v1.6h-1.6zM139.2,216.5h1.6v1.6h-1.6zM140.7,216.7h1.6v1.6h-1.6zM142.7,217.6h1.6v1.6h-1.6zM144,217.1h1.6v1.6h-1.6zM145.3,217.1h1.6v1.6h-1.6zM146.9,217.3h1.6v1.6h-1.6zM148.9,217.2h1.6v1.6h-1.6zM151.3,217.6h1.6v1.6h-1.6zM153.7,216.8h1.6v1.6h-1.6zM155.9,215.9h1.6v1.6h-1.6zM157.4,214.8h1.6v1.6h-1.6zM158.5,213.2h1.6v1.6h-1.6zM159.4,211.9h1.6v1.6h-1.6z" fill="#16d2f0" clip-path="url(#cc)"/>
<path d="M138.3,181 L138.3,182.1 L138.4,183.5 L138.4,185.1 L138.4,187 L138.5,189 L138.5,191 L138.6,193 L138.6,195 L138.7,196.8 L138.8,198.3 L138.9,199.7 L139,201.1 L139.1,202.4 L139.2,203.6 L139.3,204.8 L139.5,205.9 L139.6,206.9 L139.8,207.9 L139.9,208.7 L140.1,209.5 L140.3,210.1 L140.4,210.6 L140.6,211 L140.8,211.3 L141,211.5 L141.2,211.7 L141.4,211.8 L141.7,212 L142,212.2 L142.3,212.5 L142.7,212.8 L143.1,213.2 L143.5,213.6 L143.9,214 L144.4,213.8 L144.9,214.7 L145.4,215.6 L146,214.9 L146.6,216.5 L147.3,215.5 L148.1,215.5 L148.9,216.2 L149.8,216.1 L150.8,217 L151.8,217.5 L152.8,217.6 L153.8,217.1 L154.6,216.6 L155.4,217.4 L156,216.6 L156.5,215.7 L156.8,215.7 L157,216.8 L157.2,214.9 L157.3,215.9 L157.4,215.1 L157.5,214.6 L157.6,214.1 L157.8,213.9 L158,213.8 L158.3,212.8 L158.7,213.9 L159,212.1 L159.5,211.6 L159.9,211.3 L160.3,210.2 L160.7,209.7 L161,209.5 L161.3,208.8 L161.5,208.8" fill="none" stroke="#1ea0f0" stroke-width="0.6" stroke-opacity="1.0" clip-path="url(#cc)"/>
<path d="M137.5,180.2h1.6v1.6h-1.6zM137.6,182.8h1.6v1.6h-1.6zM137.6,185.4h1.6v1.6h-1.6zM137.7,188h1.6v1.6h-1.6zM137.7,190.6h1.6v1.6h-1.6zM137.8,193.2h1.6v1.6h-1.6zM137.9,195.8h1.6v1.6h-1.6zM138,198.4h1.6v1.6h-1.6zM138.2,201h1.6v1.6h-1.6zM138.5,203.6h1.6v1.6h-1.6zM138.8,206.1h1.6v1.6h-1.6zM139.3,208.7h1.6v1.6h-1.6zM140.5,210.9h1.6v1.6h-1.6zM142.5,212.6h1.6v1.6h-1.6zM144.2,214h1.6v1.6h-1.6zM145.5,214.9h1.6v1.6h-1.6zM147.1,214.7h1.6v1.6h-1.6zM149.3,215.6h1.6v1.6h-1.6zM151.6,216.7h1.6v1.6h-1.6zM153.9,215.9h1.6v1.6h-1.6zM155.5,215.3h1.6v1.6h-1.6zM156.3,215.4h1.6v1.6h-1.6zM156.6,214.9h1.6v1.6h-1.6zM157.3,212.5h1.6v1.6h-1.6zM158,212.3h1.6v1.6h-1.6zM159.2,210.1h1.6v1.6h-1.6zM160.5,208h1.6v1.6h-1.6z" fill="#1ea0f0" clip-path="url(#cc)"/>
<path d="M143.6,172.3 L143.6,173.6 L143.7,175.3 L143.7,177.3 L143.7,179.6 L143.8,182 L143.8,184.5 L143.9,187 L143.9,189.4 L144,191.6 L144.1,193.6 L144.2,195.4 L144.3,197.1 L144.4,198.8 L144.5,200.4 L144.6,201.9 L144.8,203.4 L144.9,204.7 L145.1,206 L145.2,207.1 L145.4,208 L145.6,208.8 L145.7,209.3 L145.9,209.7 L146.1,210 L146.3,210.2 L146.5,210.3 L146.7,210.4 L147,210.6 L147.3,210.7 L147.6,211 L148,211.3 L148.4,211.7 L148.9,212.1 L149.5,212.5 L150,213.7 L150.6,214 L151.1,212.7 L151.7,213.4 L152.2,213.8 L152.6,215 L153,214.7 L153.4,215 L153.8,215.5 L154.1,215.2 L154.5,215.8 L154.8,214.4 L155.1,215.4 L155.4,216.1 L155.7,215.4 L156,214.2 L156.2,215.6 L156.5,215.7 L156.7,214.2 L156.8,214.3 L157,214 L157.2,213.1 L157.3,213.9 L157.5,212.9 L157.7,212.3 L158,212.8 L158.3,212.7 L158.7,211.5 L159,211.2 L159.5,210.3 L159.9,209.1 L160.3,209.2 L160.7,208.2 L161,207.1 L161.3,206.1 L161.5,205.5" fill="none" stroke="#2f6cf0" stroke-width="0.6" stroke-opacity="1.0" clip-path="url(#cc)"/>
<path d="M142.8,171.5h1.6v1.6h-1.6zM142.8,174.1h1.6v1.6h-1.6zM142.9,176.7h1.6v1.6h-1.6zM142.9,179.3h1.6v1.6h-1.6zM143,181.9h1.6v1.6h-1.6zM143,184.5h1.6v1.6h-1.6zM143.1,187.1h1.6v1.6h-1.6zM143.2,189.7h1.6v1.6h-1.6zM143.3,192.3h1.6v1.6h-1.6zM143.4,194.9h1.6v1.6h-1.6zM143.6,197.5h1.6v1.6h-1.6zM143.7,200.1h1.6v1.6h-1.6zM144,202.7h1.6v1.6h-1.6zM144.3,205.3h1.6v1.6h-1.6zM144.7,207.8h1.6v1.6h-1.6zM146.2,209.8h1.6v1.6h-1.6zM148.2,211.4h1.6v1.6h-1.6zM149.8,213.1h1.6v1.6h-1.6zM151.3,212.9h1.6v1.6h-1.6zM152.7,214.3h1.6v1.6h-1.6zM153.9,214h1.6v1.6h-1.6zM154.8,214.9h1.6v1.6h-1.6zM155.4,214.4h1.6v1.6h-1.6zM156.1,213.3h1.6v1.6h-1.6zM156.7,212.3h1.6v1.6h-1.6zM157.8,211h1.6v1.6h-1.6zM158.9,208.7h1.6v1.6h-1.6zM160.1,206.7h1.6v1.6h-1.6z" fill="#2f6cf0" clip-path="url(#cc)"/>
<path d="M149.9,167.2 L149.9,168.6 L150,170.4 L150,172.6 L150,175.1 L150.1,177.7 L150.1,180.4 L150.2,183.1 L150.2,185.7 L150.3,188.1 L150.4,190.2 L150.5,192.1 L150.6,194 L150.7,195.9 L150.8,197.6 L150.9,199.3 L151.1,200.9 L151.2,202.4 L151.4,203.8 L151.5,205 L151.7,206 L151.9,206.9 L152,207.5 L152.1,208.1 L152.2,208.5 L152.4,208.8 L152.6,209 L152.8,209.1 L153.1,209.1 L153.4,209.1 L153.9,209 L154.5,208.8 L155.2,208.4 L156.1,207.1 L157,206.8 L158,206 L158.9,205.1 L159.8,206 L160.6,205 L161.3,204.1 L161.8,203.1" fill="none" stroke="#3a2cf0" stroke-width="0.6" stroke-opacity="1.0" clip-path="url(#cc)"/>
<path d="M149.1,166.4h1.6v1.6h-1.6zM149.1,169h1.6v1.6h-1.6zM149.2,171.6h1.6v1.6h-1.6zM149.2,174.2h1.6v1.6h-1.6zM149.3,176.8h1.6v1.6h-1.6zM149.3,179.4h1.6v1.6h-1.6zM149.4,182h1.6v1.6h-1.6zM149.4,184.6h1.6v1.6h-1.6zM149.5,187.2h1.6v1.6h-1.6zM149.6,189.8h1.6v1.6h-1.6zM149.7,192.4h1.6v1.6h-1.6zM149.9,195h1.6v1.6h-1.6zM150.1,197.6h1.6v1.6h-1.6zM150.3,200.2h1.6v1.6h-1.6zM150.5,202.8h1.6v1.6h-1.6zM150.9,205.3h1.6v1.6h-1.6zM151.5,207.9h1.6v1.6h-1.6zM153.9,207.9h1.6v1.6h-1.6zM155.6,206.2h1.6v1.6h-1.6zM157.7,204.7h1.6v1.6h-1.6zM159.5,204.6h1.6v1.6h-1.6zM161,202.4h1.6v1.6h-1.6z" fill="#3a2cf0" clip-path="url(#cc)"/>
<path d="M156.3,146.5 L156.3,148.5 L156.4,151.1 L156.4,154.2 L156.4,157.7 L156.5,161.4 L156.5,165.2 L156.6,169 L156.7,172.7 L156.7,176.2 L156.8,179.2 L156.9,182.1 L157.1,184.9 L157.2,187.7 L157.3,190.4 L157.5,193 L157.6,195.4 L157.8,197.7 L157.9,199.7 L158.1,201.5 L158.3,203 L158.5,204.2 L158.8,205 L159,205.6 L159.3,205.9 L159.6,206.1 L159.9,206.2 L160.1,206.1 L160.4,206.1 L160.6,206 L160.8,206 L161,206 L161.1,205.9 L161.2,205.7 L161.4,205.5 L161.5,205.2 L161.5,204.9 L161.6,204.6 L161.7,204.4 L161.7,204.1 L161.8,204" fill="none" stroke="#7a20e8" stroke-width="0.6" stroke-opacity="1.0" clip-path="url(#cc)"/>
<path d="M155.5,145.7h1.6v1.6h-1.6zM155.5,148.3h1.6v1.6h-1.6zM155.6,150.9h1.6v1.6h-1.6zM155.6,153.5h1.6v1.6h-1.6zM155.6,156.1h1.6v1.6h-1.6zM155.7,158.7h1.6v1.6h-1.6zM155.7,161.3h1.6v1.6h-1.6zM155.7,163.9h1.6v1.6h-1.6zM155.8,166.5h1.6v1.6h-1.6zM155.8,169.1h1.6v1.6h-1.6zM155.9,171.7h1.6v1.6h-1.6zM155.9,174.3h1.6v1.6h-1.6zM156,176.9h1.6v1.6h-1.6zM156.1,179.5h1.6v1.6h-1.6zM156.2,182.1h1.6v1.6h-1.6zM156.3,184.7h1.6v1.6h-1.6zM156.4,187.3h1.6v1.6h-1.6zM156.5,189.9h1.6v1.6h-1.6zM156.7,192.5h1.6v1.6h-1.6zM156.8,195.1h1.6v1.6h-1.6zM157,197.7h1.6v1.6h-1.6zM157.3,200.3h1.6v1.6h-1.6zM157.6,202.8h1.6v1.6h-1.6zM158.6,205.2h1.6v1.6h-1.6zM160.7,204.4h1.6v1.6h-1.6z" fill="#7a20e8" clip-path="url(#cc)"/>
<path d="M150,214 L153,208 L155,212 L157,204 L159,209 L161,206 L162.5,212" fill="none" stroke="#2ed4f0" stroke-width="0.8" stroke-opacity="1.0" clip-path="url(#cc)"/>
<path d="M149.4,213.4h1.2v1.2h-1.2zM150.3,211.6h1.2v1.2h-1.2zM151.2,209.8h1.2v1.2h-1.2zM152.1,208h1.2v1.2h-1.2zM153,208.6h1.2v1.2h-1.2zM153.9,210.3h1.2v1.2h-1.2zM154.6,210.6h1.2v1.2h-1.2zM155.1,208.7h1.2v1.2h-1.2zM155.6,206.7h1.2v1.2h-1.2zM156.1,204.8h1.2v1.2h-1.2zM156.6,203.9h1.2v1.2h-1.2zM157.4,205.8h1.2v1.2h-1.2zM158.1,207.6h1.2v1.2h-1.2zM159.1,207.4h1.2v1.2h-1.2zM160.2,205.7h1.2v1.2h-1.2zM160.8,206.9h1.2v1.2h-1.2zM161.3,208.9h1.2v1.2h-1.2zM161.8,210.8h1.2v1.2h-1.2z" fill="#2ed4f0" clip-path="url(#cc)"/>
<path d="M152,218 L155,214 L158,210 L160,214 L162.5,210" fill="none" stroke="#c040f0" stroke-width="0.8" stroke-opacity="1.0" clip-path="url(#cc)"/>
<path d="M151.4,217.4h1.2v1.2h-1.2zM152.6,215.8h1.2v1.2h-1.2zM153.8,214.2h1.2v1.2h-1.2zM155,212.6h1.2v1.2h-1.2zM156.2,211h1.2v1.2h-1.2zM157.4,209.4h1.2v1.2h-1.2zM158.3,211.2h1.2v1.2h-1.2zM159.2,213h1.2v1.2h-1.2zM160.2,212.1h1.2v1.2h-1.2zM161.3,210.4h1.2v1.2h-1.2z" fill="#c040f0" clip-path="url(#cc)"/>
<rect x="24.5" y="133.5" width="138.0" height="104.1" fill="none" stroke="#606060" stroke-width="0.9"/>
<text x="18.9" y="246.8" font-size="6.6" text-anchor="start" fill="#111" stroke="#111" stroke-width="0.18">10<tspan font-size="4.6" dy="-2.4" stroke-width="0.1">-6</tspan></text>
<text x="46.9" y="246.8" font-size="6.6" text-anchor="start" fill="#111" stroke="#111" stroke-width="0.18">10<tspan font-size="4.6" dy="-2.4" stroke-width="0.1">-5</tspan></text>
<text x="74.8" y="246.8" font-size="6.6" text-anchor="start" fill="#111" stroke="#111" stroke-width="0.18">10<tspan font-size="4.6" dy="-2.4" stroke-width="0.1">-4</tspan></text>
<text x="102.8" y="246.8" font-size="6.6" text-anchor="start" fill="#111" stroke="#111" stroke-width="0.18">10<tspan font-size="4.6" dy="-2.4" stroke-width="0.1">-3</tspan></text>
<text x="130.8" y="246.8" font-size="6.6" text-anchor="start" fill="#111" stroke="#111" stroke-width="0.18">10<tspan font-size="4.6" dy="-2.4" stroke-width="0.1">-2</tspan></text>
<text x="22" y="240" font-size="6.6" text-anchor="end" font-weight="normal" fill="#1a1a1a"  stroke="#1a1a1a" stroke-width="0.1">0.0</text>
<text x="22" y="221.2" font-size="6.6" text-anchor="end" font-weight="normal" fill="#1a1a1a"  stroke="#1a1a1a" stroke-width="0.1">2.5</text>
<text x="22" y="202.3" font-size="6.6" text-anchor="end" font-weight="normal" fill="#1a1a1a"  stroke="#1a1a1a" stroke-width="0.1">5.0</text>
<text x="22" y="183.5" font-size="6.6" text-anchor="end" font-weight="normal" fill="#1a1a1a"  stroke="#1a1a1a" stroke-width="0.1">7.5</text>
<text x="22" y="164.7" font-size="6.6" text-anchor="end" font-weight="normal" fill="#1a1a1a"  stroke="#1a1a1a" stroke-width="0.1">10.0</text>
<text x="22" y="145.9" font-size="6.6" text-anchor="end" font-weight="normal" fill="#1a1a1a"  stroke="#1a1a1a" stroke-width="0.1">12.5</text>
<text x="91.7" y="257.2" font-size="9.6" text-anchor="middle" font-weight="bold" fill="#000"  >Current (A)</text>
<text transform="translate(6.5,186.0) rotate(-90)" font-size="7.6" font-weight="bold" text-anchor="middle">d(log <tspan font-style="italic">V</tspan>) / d(log <tspan font-style="italic">I</tspan>)</text>
<text x="27.5" y="146.1" font-size="10" text-anchor="start" font-weight="bold" fill="#000"  >(c)</text>
<text x="61" y="153.7" font-size="10.5" text-anchor="start" font-weight="bold" fill="#000"  >20 mT</text>
<path d="M27.8,162.5h3.2M33.6,162.5h3.2" stroke="#c040f0" stroke-width="0.9" stroke-opacity="0.5"/>
<rect x="31.4" y="161.6" width="1.8" height="1.8" fill="#c040f0"/>
<text x="38.8" y="164.4" font-size="4.6" fill="#111" stroke="#111" stroke-width="0.08">2.50 K</text>
<path d="M27.8,167.5h3.2M33.6,167.5h3.2" stroke="#7a20e8" stroke-width="0.9" stroke-opacity="0.5"/>
<rect x="31.4" y="166.6" width="1.8" height="1.8" fill="#7a20e8"/>
<text x="38.8" y="169.4" font-size="4.6" fill="#111" stroke="#111" stroke-width="0.08">3.00 K</text>
<path d="M27.8,172.5h3.2M33.6,172.5h3.2" stroke="#3a2cf0" stroke-width="0.9" stroke-opacity="0.5"/>
<rect x="31.4" y="171.6" width="1.8" height="1.8" fill="#3a2cf0"/>
<text x="38.8" y="174.4" font-size="4.6" fill="#111" stroke="#111" stroke-width="0.08">3.30 K</text>
<path d="M27.8,177.5h3.2M33.6,177.5h3.2" stroke="#2f6cf0" stroke-width="0.9" stroke-opacity="0.5"/>
<rect x="31.4" y="176.6" width="1.8" height="1.8" fill="#2f6cf0"/>
<text x="38.8" y="179.4" font-size="4.6" fill="#111" stroke="#111" stroke-width="0.08">3.45 K</text>
<path d="M27.8,182.5h3.2M33.6,182.5h3.2" stroke="#1ea0f0" stroke-width="0.9" stroke-opacity="0.5"/>
<rect x="31.4" y="181.6" width="1.8" height="1.8" fill="#1ea0f0"/>
<text x="38.8" y="184.4" font-size="4.6" fill="#111" stroke="#111" stroke-width="0.08">3.60 K</text>
<path d="M27.8,187.5h3.2M33.6,187.5h3.2" stroke="#16d2f0" stroke-width="0.9" stroke-opacity="0.5"/>
<rect x="31.4" y="186.6" width="1.8" height="1.8" fill="#16d2f0"/>
<text x="38.8" y="189.4" font-size="4.6" fill="#111" stroke="#111" stroke-width="0.08">3.72 K</text>
<path d="M27.8,192.5h3.2M33.6,192.5h3.2" stroke="#14d890" stroke-width="0.9" stroke-opacity="0.5"/>
<rect x="31.4" y="191.6" width="1.8" height="1.8" fill="#14d890"/>
<text x="38.8" y="194.4" font-size="4.6" fill="#111" stroke="#111" stroke-width="0.08">3.78 K</text>
<path d="M27.8,197.5h3.2M33.6,197.5h3.2" stroke="#2ad82a" stroke-width="0.9" stroke-opacity="0.5"/>
<rect x="31.4" y="196.6" width="1.8" height="1.8" fill="#2ad82a"/>
<text x="38.8" y="199.4" font-size="4.6" fill="#111" stroke="#111" stroke-width="0.08">3.84 K</text>
<path d="M27.8,202.5h3.2M33.6,202.5h3.2" stroke="#a6e020" stroke-width="0.9" stroke-opacity="0.5"/>
<rect x="31.4" y="201.6" width="1.8" height="1.8" fill="#a6e020"/>
<text x="38.8" y="204.4" font-size="4.6" fill="#111" stroke="#111" stroke-width="0.08">3.87 K</text>
<path d="M27.8,207.5h3.2M33.6,207.5h3.2" stroke="#f0c010" stroke-width="0.9" stroke-opacity="0.5"/>
<rect x="31.4" y="206.6" width="1.8" height="1.8" fill="#f0c010"/>
<text x="38.8" y="209.4" font-size="4.6" fill="#111" stroke="#111" stroke-width="0.08">3.90 K</text>
<path d="M27.8,212.5h3.2M33.6,212.5h3.2" stroke="#f08418" stroke-width="0.9" stroke-opacity="0.5"/>
<rect x="31.4" y="211.6" width="1.8" height="1.8" fill="#f08418"/>
<text x="38.8" y="214.4" font-size="4.6" fill="#111" stroke="#111" stroke-width="0.08">3.93 K</text>
<path d="M27.8,217.5h3.2M33.6,217.5h3.2" stroke="#f04418" stroke-width="0.9" stroke-opacity="0.5"/>
<rect x="31.4" y="216.6" width="1.8" height="1.8" fill="#f04418"/>
<text x="38.8" y="219.4" font-size="4.6" fill="#111" stroke="#111" stroke-width="0.08">3.96 K</text>
<path d="M27.8,222.5h3.2M33.6,222.5h3.2" stroke="#e81010" stroke-width="0.9" stroke-opacity="0.5"/>
<rect x="31.4" y="221.6" width="1.8" height="1.8" fill="#e81010"/>
<text x="38.8" y="224.4" font-size="4.6" fill="#111" stroke="#111" stroke-width="0.08">3.99 K</text>
<clipPath id="cd"><rect x="198.3" y="133.8" width="139.2" height="104.69999999999999"/></clipPath>
<path d="M198.5,238.5v-2.6M198.5,133.8v2.6M246,238.5v-2.6M246,133.8v2.6M293.5,238.5v-2.6M293.5,133.8v2.6M212.8,238.5v-1.4M212.8,133.8v1.4M221.2,238.5v-1.4M221.2,133.8v1.4M227.1,238.5v-1.4M227.1,133.8v1.4M231.7,238.5v-1.4M231.7,133.8v1.4M235.5,238.5v-1.4M235.5,133.8v1.4M238.6,238.5v-1.4M238.6,133.8v1.4M241.4,238.5v-1.4M241.4,133.8v1.4M243.8,238.5v-1.4M243.8,133.8v1.4M260.3,238.5v-1.4M260.3,133.8v1.4M268.7,238.5v-1.4M268.7,133.8v1.4M274.6,238.5v-1.4M274.6,133.8v1.4M279.2,238.5v-1.4M279.2,133.8v1.4M283,238.5v-1.4M283,133.8v1.4M286.1,238.5v-1.4M286.1,133.8v1.4M288.9,238.5v-1.4M288.9,133.8v1.4M291.3,238.5v-1.4M291.3,133.8v1.4M307.8,238.5v-1.4M307.8,133.8v1.4M316.2,238.5v-1.4M316.2,133.8v1.4M322.1,238.5v-1.4M322.1,133.8v1.4M326.7,238.5v-1.4M326.7,133.8v1.4M330.5,238.5v-1.4M330.5,133.8v1.4M333.6,238.5v-1.4M333.6,133.8v1.4M336.4,238.5v-1.4M336.4,133.8v1.4M198.3,238.3h2.6M337.5,238.3h-2.6M198.3,212.3h2.6M337.5,212.3h-2.6M198.3,186.3h2.6M337.5,186.3h-2.6M198.3,160.3h2.6M337.5,160.3h-2.6M198.3,134.3h2.6M337.5,134.3h-2.6M198.3,225.3h1.4M337.5,225.3h-1.4M198.3,199.3h1.4M337.5,199.3h-1.4M198.3,173.3h1.4M337.5,173.3h-1.4M198.3,147.3h1.4M337.5,147.3h-1.4" stroke="#606060" stroke-width="0.6" fill="none"/>
<path d="M241.1,233.5 L242.7,233.8 L244.8,233.7 L247.3,233.2 L250.1,233.2 L253,233 L256,233 L258.8,233 L261.3,232.6 L263.7,232.5 L266,233.1 L268.3,233 L270.5,233.3 L272.7,233 L274.9,233.4 L276.9,233.7 L278.9,233.5 L280.7,234.1 L282.4,234.1 L284,233.7 L285.5,233.8 L287,234.1 L288.6,234.4 L290.2,234 L292,233.8 L294,233.8 L296,233.2 L298.2,233 L300.4,232.7 L302.6,232.3 L304.8,231.8 L306.9,231.5 L308.9,231.3 L310.7,231.4 L312.5,231.3 L314.2,231.1 L315.8,231.7 L317.4,231.6 L319,231.9 L320.7,231.8 L322.4,232.6 L324.3,232.9 L326.3,233 L328.4,233.7 L330.5,234.6 L332.5,235.2 L334.4,235.9 L335.9,236.1 L337,236.7" fill="none" stroke="#6e1c1c" stroke-width="0.9" stroke-opacity="1.0" clip-path="url(#cd)"/>
<path d="M240.5,232.9h1.2v1.2h-1.2zM242.5,233.2h1.2v1.2h-1.2zM244.5,233h1.2v1.2h-1.2zM246.4,232.7h1.2v1.2h-1.2zM248.4,232.6h1.2v1.2h-1.2zM250.4,232.5h1.2v1.2h-1.2zM252.4,232.4h1.2v1.2h-1.2zM254.4,232.4h1.2v1.2h-1.2zM256.4,232.4h1.2v1.2h-1.2zM258.4,232.4h1.2v1.2h-1.2zM260.4,232h1.2v1.2h-1.2zM262.4,232h1.2v1.2h-1.2zM264.3,232.3h1.2v1.2h-1.2zM266.3,232.5h1.2v1.2h-1.2zM268.3,232.5h1.2v1.2h-1.2zM270.3,232.7h1.2v1.2h-1.2zM272.3,232.4h1.2v1.2h-1.2zM274.2,232.8h1.2v1.2h-1.2zM276.2,233.1h1.2v1.2h-1.2zM278.2,232.9h1.2v1.2h-1.2zM280.1,233.4h1.2v1.2h-1.2zM282.1,233.4h1.2v1.2h-1.2zM284.1,233.1h1.2v1.2h-1.2zM286,233.4h1.2v1.2h-1.2zM288,233.8h1.2v1.2h-1.2zM289.9,233.4h1.2v1.2h-1.2zM291.9,233.2h1.2v1.2h-1.2zM293.9,233h1.2v1.2h-1.2zM295.9,232.6h1.2v1.2h-1.2zM297.8,232.3h1.2v1.2h-1.2zM299.8,232.1h1.2v1.2h-1.2zM301.8,231.8h1.2v1.2h-1.2zM303.8,231.3h1.2v1.2h-1.2zM305.7,231h1.2v1.2h-1.2zM307.7,230.8h1.2v1.2h-1.2zM309.7,230.8h1.2v1.2h-1.2zM311.7,230.7h1.2v1.2h-1.2zM313.7,230.6h1.2v1.2h-1.2zM315.6,231.1h1.2v1.2h-1.2zM317.6,231.2h1.2v1.2h-1.2zM319.6,231.2h1.2v1.2h-1.2zM321.5,231.8h1.2v1.2h-1.2zM323.4,232.3h1.2v1.2h-1.2zM325.4,232.4h1.2v1.2h-1.2zM327.3,232.9h1.2v1.2h-1.2zM329.2,233.7h1.2v1.2h-1.2zM331.1,234.3h1.2v1.2h-1.2zM332.9,235h1.2v1.2h-1.2zM334.9,235.5h1.2v1.2h-1.2z" fill="#6e1c1c" clip-path="url(#cd)"/>
<path d="M259.6,235.7 L260,235.4 L260.4,234.5 L260.9,234 L261.5,234 L262.2,233.4 L263,232.8 L263.9,232.2 L264.8,232 L265.9,231.6 L267.2,231.3 L268.5,230.7 L270,230.6 L271.5,230.4 L272.9,230.4 L274.2,230.5 L275.4,230.5 L276.4,230.4 L277.3,230.6 L278.2,230.9 L279,231.2 L279.7,231.6 L280.6,232.3 L281.4,232.5 L282.4,232.7 L283.5,233.1 L284.6,232.8 L285.8,232.8 L287,232.4 L288.2,232.1 L289.5,232 L290.8,231.6 L292,231.5 L293.2,231.4 L294.5,230.7 L295.8,229.8 L297.1,229.6 L298.4,228.9 L299.7,228.3 L300.9,227.9 L302.1,227.4 L303.3,227.1 L304.4,226.6 L305.5,226.8 L306.6,226.6 L307.6,226.1 L308.6,226.4 L309.6,226.4 L310.6,226.4 L311.5,226.6 L312.4,226.9 L313.2,227.5 L314,227.7 L314.7,228.4 L315.5,228.6 L316.4,229.5 L317.3,230 L318.3,230.4 L319.2,231.1 L320.2,232 L321.3,232.6 L322.3,233.2 L323.4,233.7 L324.6,234.3 L325.8,235 L327.1,235.1 L328.7,235.8 L330.3,235.7 L331.9,236.3 L333.5,236.1 L334.9,236.6 L336.1,236.5 L337,236.5" fill="none" stroke="#b41414" stroke-width="0.9" stroke-opacity="1.0" clip-path="url(#cd)"/>
<path d="M259,235.1h1.2v1.2h-1.2zM260.2,233.5h1.2v1.2h-1.2zM261.9,232.6h1.2v1.2h-1.2zM263.5,231.5h1.2v1.2h-1.2zM265.5,231h1.2v1.2h-1.2zM267.4,230.4h1.2v1.2h-1.2zM269.3,230h1.2v1.2h-1.2zM271.3,229.8h1.2v1.2h-1.2zM273.3,229.9h1.2v1.2h-1.2zM275.3,229.8h1.2v1.2h-1.2zM277.2,230.2h1.2v1.2h-1.2zM279,231h1.2v1.2h-1.2zM280.8,231.9h1.2v1.2h-1.2zM282.7,232.4h1.2v1.2h-1.2zM284.7,232.2h1.2v1.2h-1.2zM286.6,231.8h1.2v1.2h-1.2zM288.6,231.4h1.2v1.2h-1.2zM290.5,231h1.2v1.2h-1.2zM292.5,230.8h1.2v1.2h-1.2zM294.2,229.9h1.2v1.2h-1.2zM296,229.1h1.2v1.2h-1.2zM297.8,228.3h1.2v1.2h-1.2zM299.7,227.5h1.2v1.2h-1.2zM301.5,226.8h1.2v1.2h-1.2zM303.4,226.2h1.2v1.2h-1.2zM305.4,226.1h1.2v1.2h-1.2zM307.2,225.5h1.2v1.2h-1.2zM309.2,225.8h1.2v1.2h-1.2zM311.1,226.1h1.2v1.2h-1.2zM312.9,227h1.2v1.2h-1.2zM314.6,227.9h1.2v1.2h-1.2zM316.2,229.1h1.2v1.2h-1.2zM317.9,230h1.2v1.2h-1.2zM319.5,231.2h1.2v1.2h-1.2zM321.2,232.3h1.2v1.2h-1.2zM323,233.1h1.2v1.2h-1.2zM324.7,234.1h1.2v1.2h-1.2zM326.6,234.5h1.2v1.2h-1.2zM328.5,235.2h1.2v1.2h-1.2zM330.4,235.3h1.2v1.2h-1.2zM332.4,235.5h1.2v1.2h-1.2zM334.3,235.9h1.2v1.2h-1.2zM336.3,235.9h1.2v1.2h-1.2z" fill="#b41414" clip-path="url(#cd)"/>
<path d="M283,233.8 L283.7,233.8 L284.6,233.4 L285.7,233.2 L287,232.9 L288.3,232 L289.6,231.5 L290.8,231.7 L292,230.8 L293.1,230.3 L294.2,230.4 L295.3,229.4 L296.3,229.1 L297.4,228.2 L298.4,227.7 L299.4,226.7 L300.4,226.5 L301.3,226 L302.3,225 L303.1,224.4 L304,223.6 L304.8,222.4 L305.7,222.3 L306.4,221.7 L307.2,221.1 L307.9,220.8 L308.6,221.6 L309.2,221.6 L309.9,222.1 L310.5,222.6 L311.1,222.8 L311.7,223.2 L312.3,222.9 L312.9,223.1 L313.6,222.6 L314.3,222.7 L314.9,222.2 L315.5,221.3 L316.2,221 L316.8,221 L317.3,221.7 L317.8,221.5 L318.2,222.2 L318.6,222.5 L319,223.3 L319.4,224 L319.8,224.7 L320.2,225.7 L320.7,226.5 L321.2,227.5 L321.7,228.2 L322.2,229.3 L322.8,230.2 L323.4,231.2 L324.1,231.8 L324.9,232.2 L325.8,233.5 L327,234.2 L328.4,234.7 L330,234.9 L331.7,235.4 L333.4,235.4 L334.8,236.3 L336.1,236.3 L337,236.3" fill="none" stroke="#e42222" stroke-width="1.1" stroke-opacity="1.0" clip-path="url(#cd)"/>
<path d="M282.4,233.2h1.2v1.2h-1.2zM284.3,232.8h1.2v1.2h-1.2zM286.3,232.3h1.2v1.2h-1.2zM288,231.3h1.2v1.2h-1.2zM289.9,231.1h1.2v1.2h-1.2zM291.5,230.1h1.2v1.2h-1.2zM293.4,229.8h1.2v1.2h-1.2zM295,228.7h1.2v1.2h-1.2zM296.7,227.7h1.2v1.2h-1.2zM298.4,226.6h1.2v1.2h-1.2zM300.1,225.7h1.2v1.2h-1.2zM301.6,224.5h1.2v1.2h-1.2zM303.2,223.2h1.2v1.2h-1.2zM304.4,221.8h1.2v1.2h-1.2zM306.1,220.9h1.2v1.2h-1.2zM307.8,220.7h1.2v1.2h-1.2zM309.4,221.6h1.2v1.2h-1.2zM311.1,222.6h1.2v1.2h-1.2zM312.8,222.2h1.2v1.2h-1.2zM314.5,221.4h1.2v1.2h-1.2zM316.1,220.4h1.2v1.2h-1.2zM317.5,221.4h1.2v1.2h-1.2zM318.6,223h1.2v1.2h-1.2zM319.5,224.8h1.2v1.2h-1.2zM320.4,226.6h1.2v1.2h-1.2zM321.4,228.3h1.2v1.2h-1.2zM322.4,230h1.2v1.2h-1.2zM323.8,231.4h1.2v1.2h-1.2zM325.1,232.8h1.2v1.2h-1.2zM326.9,233.8h1.2v1.2h-1.2zM328.8,234.2h1.2v1.2h-1.2zM330.8,234.7h1.2v1.2h-1.2zM332.7,234.8h1.2v1.2h-1.2zM334.5,235.7h1.2v1.2h-1.2z" fill="#e42222" clip-path="url(#cd)"/>
<path d="M295,232.8 L295.9,231.8 L297.1,230.8 L298.5,229.1 L300,227.4 L301.6,226 L303.1,224.8 L304.5,223.4 L305.5,222.4 L306.3,221.4 L306.8,221.3 L307.3,221 L307.6,220.9 L307.9,220.9 L308.2,221 L308.5,221.3 L308.9,220.8 L309.4,220 L309.9,218.9 L310.5,217.3 L311.1,216.1 L311.6,215.1 L312.2,214 L312.7,213.1 L313.1,212.3 L313.5,211.1 L313.9,211.1 L314.2,210.8 L314.5,210.4 L314.8,210 L315.1,210.2 L315.3,209.9 L315.6,210.7 L315.8,211 L316,211.1 L316.2,211.5 L316.4,212.6 L316.6,213 L316.8,213.9 L317,214.4 L317.3,214.6 L317.6,214.9 L318,215.3 L318.5,215.5 L318.9,215.5 L319.4,215.8 L319.8,216.4 L320.3,215.9 L320.7,215.9 L321.1,216.4 L321.6,215.9 L322,215.9 L322.4,215.6 L322.8,215.2 L323.3,215.6 L323.7,215 L324.1,215.3 L324.5,215.5 L324.9,216.4 L325.3,216.7 L325.7,217.5 L326.1,218.7 L326.5,219.2 L327,220.4 L327.5,221.6 L328.1,222.1 L328.6,223.3 L329.3,224.8 L329.9,226.7 L330.6,228 L331.2,229 L331.9,230.3 L332.5,231.2 L333.1,232.4 L333.8,232.9 L334.4,234.1 L335.1,235 L335.7,235.6 L336.2,235.9 L336.7,236.5 L337,236.1" fill="none" stroke="#f03020" stroke-width="1.1" stroke-opacity="1.0" clip-path="url(#cd)"/>
<path d="M294.4,232.2h1.2v1.2h-1.2zM295.8,230.7h1.2v1.2h-1.2zM297.2,229.3h1.2v1.2h-1.2zM298.5,227.8h1.2v1.2h-1.2zM299.9,226.4h1.2v1.2h-1.2zM301.4,225.1h1.2v1.2h-1.2zM302.9,223.8h1.2v1.2h-1.2zM304.3,222.4h1.2v1.2h-1.2zM305.6,220.8h1.2v1.2h-1.2zM307.5,220.3h1.2v1.2h-1.2zM308.7,219.6h1.2v1.2h-1.2zM309.5,217.7h1.2v1.2h-1.2zM310.3,215.9h1.2v1.2h-1.2zM311.2,214.1h1.2v1.2h-1.2zM312.1,212.3h1.2v1.2h-1.2zM312.9,210.5h1.2v1.2h-1.2zM314.4,209.5h1.2v1.2h-1.2zM315.5,210.6h1.2v1.2h-1.2zM316,212.5h1.2v1.2h-1.2zM316.9,214.2h1.2v1.2h-1.2zM318.6,215.1h1.2v1.2h-1.2zM320,215.3h1.2v1.2h-1.2zM321.6,215.1h1.2v1.2h-1.2zM323,214.5h1.2v1.2h-1.2zM324.3,215.7h1.2v1.2h-1.2zM325.3,217.4h1.2v1.2h-1.2zM326.2,219.2h1.2v1.2h-1.2zM326.9,221h1.2v1.2h-1.2zM328,222.6h1.2v1.2h-1.2zM328.8,224.5h1.2v1.2h-1.2zM329.5,226.4h1.2v1.2h-1.2zM330.5,228.1h1.2v1.2h-1.2zM331.4,229.9h1.2v1.2h-1.2zM332.4,231.6h1.2v1.2h-1.2zM333.6,233.1h1.2v1.2h-1.2zM334.8,234.7h1.2v1.2h-1.2zM336.2,235.7h1.2v1.2h-1.2z" fill="#f03020" clip-path="url(#cd)"/>
<path d="M303,230.1 L303.6,229.4 L304.3,228.4 L305.2,227.3 L306.2,225.8 L307.2,224.5 L308.2,222.5 L309.2,221.3 L310,220.3 L310.7,218.7 L311.4,217.5 L312,215.5 L312.6,214.3 L313.2,212.8 L313.8,211.6 L314.3,210.5 L314.8,209.2 L315.3,208.6 L315.7,208 L316.1,207.9 L316.5,207.4 L316.9,206.7 L317.3,206.9 L317.6,206.4 L318,206.6 L318.4,206.3 L318.7,206.3 L319.1,207 L319.4,206.9 L319.8,207.2 L320.2,208 L320.6,208.3 L321,208.4 L321.4,209.2 L321.9,209.3 L322.4,209.9 L322.9,210.1 L323.4,211.1 L323.9,211.5 L324.4,212.4 L325,213.2 L325.6,213.8 L326.1,215 L326.7,216 L327.3,217.3 L327.9,218.5 L328.6,220 L329.3,221.6 L330,222.7 L330.8,224.7 L331.8,226.2 L332.8,228.1 L333.8,230.3 L334.8,231.9 L335.7,233.5 L336.4,235 L337,236.1" fill="none" stroke="#f48434" stroke-width="1.0" stroke-opacity="1.0" clip-path="url(#cd)"/>
<path d="M302.4,229.5h1.2v1.2h-1.2zM303.6,227.9h1.2v1.2h-1.2zM304.8,226.3h1.2v1.2h-1.2zM306,224.7h1.2v1.2h-1.2zM307.1,223h1.2v1.2h-1.2zM308.1,221.3h1.2v1.2h-1.2zM309.3,219.7h1.2v1.2h-1.2zM310.2,217.9h1.2v1.2h-1.2zM311,216.1h1.2v1.2h-1.2zM311.8,214.3h1.2v1.2h-1.2zM312.5,212.4h1.2v1.2h-1.2zM313.4,210.6h1.2v1.2h-1.2zM314.1,208.8h1.2v1.2h-1.2zM315.4,207.3h1.2v1.2h-1.2zM316.7,206.2h1.2v1.2h-1.2zM318.2,205.9h1.2v1.2h-1.2zM319.4,207.1h1.2v1.2h-1.2zM320.7,208.4h1.2v1.2h-1.2zM322.3,209.5h1.2v1.2h-1.2zM323.4,211.1h1.2v1.2h-1.2zM324.5,212.8h1.2v1.2h-1.2zM325.6,214.5h1.2v1.2h-1.2zM326.5,216.2h1.2v1.2h-1.2zM327.4,218h1.2v1.2h-1.2zM328.2,219.9h1.2v1.2h-1.2zM329.1,221.6h1.2v1.2h-1.2zM330,223.4h1.2v1.2h-1.2zM330.9,225.2h1.2v1.2h-1.2zM331.9,226.9h1.2v1.2h-1.2zM332.8,228.7h1.2v1.2h-1.2zM333.7,230.5h1.2v1.2h-1.2zM334.7,232.2h1.2v1.2h-1.2zM335.7,234h1.2v1.2h-1.2z" fill="#f48434" clip-path="url(#cd)"/>
<path d="M309,224.2 L309.5,223 L310.3,221.2 L311.1,219.1 L312.1,216.8 L313.1,215 L314,212.8 L314.9,211.1 L315.6,209.4 L316.2,208.6 L316.7,207.3 L317.1,206.9 L317.5,206.3 L317.9,205.6 L318.2,205.2 L318.6,204.9 L319,204.2 L319.4,204 L319.9,203.8 L320.3,203.1 L320.7,203.1 L321.2,202.8 L321.6,202.8 L322,202.5 L322.4,202.6 L322.8,203.4 L323.1,204.1 L323.4,204.7 L323.7,205.4 L324,206.3 L324.3,207.5 L324.6,208 L325,209 L325.4,209 L325.8,208.9 L326.2,209.1 L326.6,208.9 L327.1,209.1 L327.5,209.1 L327.9,209.1 L328.3,209.6 L328.7,210.3 L329,211.2 L329.3,212.3 L329.7,212.8 L330,214.1 L330.3,215.5 L330.6,216.6 L331,218.1 L331.4,219.1 L331.8,221.1 L332.2,222.5 L332.6,223.9 L333,225.8 L333.4,227.1 L333.8,228.4 L334.2,229.8 L334.6,230.6 L335,231.5 L335.4,232.7 L335.8,233.3 L336.2,233.4 L336.5,234.4 L336.8,234.4 L337,234.9" fill="none" stroke="#f2c020" stroke-width="1.0" stroke-opacity="1.0" clip-path="url(#cd)"/>
<path d="M308.4,223.6h1.2v1.2h-1.2zM309.2,221.7h1.2v1.2h-1.2zM309.9,219.9h1.2v1.2h-1.2zM310.7,218h1.2v1.2h-1.2zM311.5,216.2h1.2v1.2h-1.2zM312.4,214.4h1.2v1.2h-1.2zM313.2,212.6h1.2v1.2h-1.2zM314.1,210.8h1.2v1.2h-1.2zM314.9,209h1.2v1.2h-1.2zM315.9,207.2h1.2v1.2h-1.2zM317,205.6h1.2v1.2h-1.2zM318.2,204h1.2v1.2h-1.2zM319.6,202.7h1.2v1.2h-1.2zM321.3,202h1.2v1.2h-1.2zM322.4,203.3h1.2v1.2h-1.2zM323.2,205.1h1.2v1.2h-1.2zM323.8,207h1.2v1.2h-1.2zM324.9,208.4h1.2v1.2h-1.2zM326.7,208.5h1.2v1.2h-1.2zM328,209.6h1.2v1.2h-1.2zM328.7,211.5h1.2v1.2h-1.2zM329.3,213.4h1.2v1.2h-1.2zM329.8,215.3h1.2v1.2h-1.2zM330.3,217.2h1.2v1.2h-1.2zM330.9,219.2h1.2v1.2h-1.2zM331.4,221.1h1.2v1.2h-1.2zM331.9,223h1.2v1.2h-1.2zM332.4,225h1.2v1.2h-1.2zM332.9,226.9h1.2v1.2h-1.2zM333.5,228.8h1.2v1.2h-1.2zM334.3,230.6h1.2v1.2h-1.2zM335.1,232.5h1.2v1.2h-1.2zM336.2,233.8h1.2v1.2h-1.2z" fill="#f2c020" clip-path="url(#cd)"/>
<path d="M321.6,202.8 L321.9,203.4 L322.3,204.1 L322.8,204.6 L323.4,205.4 L324,206.5 L324.6,207.3 L325.2,208.4 L325.8,208.8 L326.4,209 L327.1,209.1 L327.7,209 L328.4,208.6 L329.1,208.7 L329.7,208.5 L330.4,209.2 L330.9,209.2 L331.4,210.5 L331.8,211.1 L332.2,212.7 L332.6,213.9 L332.9,215.4 L333.3,217.2 L333.6,218.2 L334,219.7 L334.4,221.9 L334.8,223.4 L335.2,225.1 L335.6,227.5 L336,229.4 L336.3,230.5 L336.6,232.1 L336.8,233" fill="none" stroke="#4ee040" stroke-width="0.9" stroke-opacity="1.0" clip-path="url(#cd)"/>
<path d="M321,202.2h1.2v1.2h-1.2zM322.1,203.8h1.2v1.2h-1.2zM323.2,205.5h1.2v1.2h-1.2zM324.3,207.2h1.2v1.2h-1.2zM325.8,208.4h1.2v1.2h-1.2zM327.6,208.1h1.2v1.2h-1.2zM329.4,208.3h1.2v1.2h-1.2zM330.6,209.6h1.2v1.2h-1.2zM331.4,211.4h1.2v1.2h-1.2zM332,213.3h1.2v1.2h-1.2zM332.4,215.2h1.2v1.2h-1.2zM332.9,217.2h1.2v1.2h-1.2zM333.4,219.1h1.2v1.2h-1.2zM333.8,221.1h1.2v1.2h-1.2zM334.2,223h1.2v1.2h-1.2zM334.7,225h1.2v1.2h-1.2zM335,226.9h1.2v1.2h-1.2zM335.4,228.9h1.2v1.2h-1.2zM335.9,230.8h1.2v1.2h-1.2z" fill="#4ee040" clip-path="url(#cd)"/>
<path d="M321.4,182 L321.5,182.7 L321.7,183.9 L321.8,184.8 L322,186.3 L322.3,187.7 L322.5,189 L322.8,190.6 L323,191.8 L323.3,193.4 L323.5,194.7 L323.8,196.2 L324.1,197.8 L324.5,199.5 L324.8,200.7 L325.1,202.2 L325.4,203.8 L325.7,205.2 L326,206.4 L326.3,207.6 L326.6,209.1 L326.9,210 L327.2,211.6 L327.6,212.7 L328,213.9 L328.4,215.1 L328.9,216.5 L329.4,217.9 L330,219 L330.5,220.4 L331.1,221.6 L331.6,222.7 L332.2,224 L332.8,225.1 L333.5,226.4 L334.2,227.7 L334.9,229.2 L335.5,230.3 L336.1,231.3 L336.6,232.3 L337,233" fill="none" stroke="#9ee820" stroke-width="0.6" stroke-opacity="1.0" clip-path="url(#cd)"/>
<path d="M320.6,181.3h1.5v1.5h-1.5zM321,183.7h1.5v1.5h-1.5zM321.4,186h1.5v1.5h-1.5zM321.8,188.4h1.5v1.5h-1.5zM322.2,190.8h1.5v1.5h-1.5zM322.6,193.1h1.5v1.5h-1.5zM323.1,195.5h1.5v1.5h-1.5zM323.5,197.8h1.5v1.5h-1.5zM324.1,200.2h1.5v1.5h-1.5zM324.6,202.5h1.5v1.5h-1.5zM325,204.9h1.5v1.5h-1.5zM325.6,207.2h1.5v1.5h-1.5zM326.2,209.5h1.5v1.5h-1.5zM326.8,211.8h1.5v1.5h-1.5zM327.6,214.1h1.5v1.5h-1.5zM328.4,216.4h1.5v1.5h-1.5zM329.3,218.6h1.5v1.5h-1.5zM330.3,220.8h1.5v1.5h-1.5zM331.3,222.9h1.5v1.5h-1.5zM332.4,225.1h1.5v1.5h-1.5zM333.5,227.2h1.5v1.5h-1.5zM334.6,229.3h1.5v1.5h-1.5zM335.8,231.4h1.5v1.5h-1.5z" fill="#9ee820" clip-path="url(#cd)"/>
<path d="M326.8,179.2 L326.9,180.2 L327.1,180.3 L327.3,181.4 L327.5,181.9 L327.7,183 L328,184.4 L328.2,184.9 L328.5,186.1 L328.8,186.9 L329,187.9 L329.3,188.9 L329.6,189.7 L329.9,191.1 L330.2,191.8 L330.5,193 L330.8,194 L331.1,195.4 L331.4,196.7 L331.6,198.4 L331.9,199.4 L332.2,200.6 L332.5,202.1 L332.7,203.9 L333,204.7 L333.3,206.4 L333.5,207.7 L333.7,209.2 L334,210.4 L334.2,212 L334.4,213.2 L334.7,214.6 L334.9,216 L335.2,217.1 L335.5,218.2 L335.8,219.5 L336.1,221.3 L336.4,222.3 L336.6,223.2 L336.8,224.6 L337,225" fill="none" stroke="#2ed4f0" stroke-width="0.6" stroke-opacity="1.0" clip-path="url(#cd)"/>
<path d="M326,178.4h1.6v1.6h-1.6zM326.5,180.5h1.6v1.6h-1.6zM327,182.7h1.6v1.6h-1.6zM327.6,184.8h1.6v1.6h-1.6zM328.2,186.9h1.6v1.6h-1.6zM328.8,189h1.6v1.6h-1.6zM329.4,191.1h1.6v1.6h-1.6zM330,193.2h1.6v1.6h-1.6zM330.4,195.4h1.6v1.6h-1.6zM330.8,197.5h1.6v1.6h-1.6zM331.4,199.7h1.6v1.6h-1.6zM331.7,201.8h1.6v1.6h-1.6zM332.2,204h1.6v1.6h-1.6zM332.6,206.1h1.6v1.6h-1.6zM332.9,208.3h1.6v1.6h-1.6zM333.3,210.5h1.6v1.6h-1.6zM333.7,212.7h1.6v1.6h-1.6zM334,214.8h1.6v1.6h-1.6zM334.5,217h1.6v1.6h-1.6zM335,219.1h1.6v1.6h-1.6zM335.5,221.3h1.6v1.6h-1.6zM336,223.4h1.6v1.6h-1.6z" fill="#2ed4f0" clip-path="url(#cd)"/>
<path d="M331.5,136 L331.5,137 L331.6,138.2 L331.6,140.1 L331.6,141.6 L331.7,143.7 L331.7,145.9 L331.8,147.7 L331.8,150 L331.8,152.3 L331.9,154.4 L331.9,157 L332,159.7 L332,162.2 L332.1,164.9 L332.1,167.3 L332.2,169.9 L332.3,172.3 L332.4,175 L332.4,177.7 L332.5,180 L332.6,182.6 L332.7,185 L332.9,187.6 L333,189.8 L333.1,192.5 L333.3,195.3 L333.5,197.9 L333.6,200.5 L333.8,202.9 L334,205.5 L334.3,207.8 L334.5,209.9 L334.8,212.1 L335.1,213.7 L335.5,215.8 L335.8,217.4 L336.2,218.6 L336.5,220 L336.8,221.1 L337,221.8" fill="none" stroke="#3f78f0" stroke-width="0.6" stroke-opacity="1.0" clip-path="url(#cd)"/>
<path d="M330.8,135.2h1.5v1.5h-1.5zM330.8,137.6h1.5v1.5h-1.5zM330.9,140h1.5v1.5h-1.5zM330.9,142.4h1.5v1.5h-1.5zM331,144.8h1.5v1.5h-1.5zM331,147.2h1.5v1.5h-1.5zM331.1,149.6h1.5v1.5h-1.5zM331.1,152h1.5v1.5h-1.5zM331.1,154.4h1.5v1.5h-1.5zM331.2,156.8h1.5v1.5h-1.5zM331.2,159.2h1.5v1.5h-1.5zM331.3,161.6h1.5v1.5h-1.5zM331.3,164h1.5v1.5h-1.5zM331.4,166.4h1.5v1.5h-1.5zM331.4,168.8h1.5v1.5h-1.5zM331.5,171.2h1.5v1.5h-1.5zM331.6,173.6h1.5v1.5h-1.5zM331.7,176h1.5v1.5h-1.5zM331.7,178.4h1.5v1.5h-1.5zM331.8,180.8h1.5v1.5h-1.5zM331.9,183.2h1.5v1.5h-1.5zM332.1,185.6h1.5v1.5h-1.5zM332.2,188h1.5v1.5h-1.5zM332.3,190.4h1.5v1.5h-1.5zM332.5,192.8h1.5v1.5h-1.5zM332.6,195.2h1.5v1.5h-1.5zM332.7,197.6h1.5v1.5h-1.5zM332.9,200h1.5v1.5h-1.5zM333.1,202.4h1.5v1.5h-1.5zM333.3,204.8h1.5v1.5h-1.5zM333.5,207.2h1.5v1.5h-1.5zM333.8,209.5h1.5v1.5h-1.5zM334.1,211.9h1.5v1.5h-1.5zM334.6,214.3h1.5v1.5h-1.5zM335.1,216.6h1.5v1.5h-1.5zM335.7,218.9h1.5v1.5h-1.5z" fill="#3f78f0" clip-path="url(#cd)"/>
<path d="M334.6,134 L334.6,135.6 L334.6,137.7 L334.7,140 L334.7,143.1 L334.7,146 L334.7,149 L334.8,151.9 L334.8,155 L334.8,157.9 L334.8,160.9 L334.8,164.3 L334.9,167.4 L334.9,170.3 L334.9,173.8 L334.9,176.9 L335,180 L335.1,183.1 L335.1,186.6 L335.2,189.9 L335.3,193.3 L335.4,196.6 L335.6,199.4 L335.7,202.6 L335.8,205.2 L335.9,207.5 L336.1,209.4 L336.3,211.1 L336.5,212.9 L336.6,214.5 L336.8,216.1 L336.9,217 L337,217.9" fill="none" stroke="#a448f0" stroke-width="0.6" stroke-opacity="1.0" clip-path="url(#cd)"/>
<path d="M333.9,133.3h1.5v1.5h-1.5zM333.9,135.7h1.5v1.5h-1.5zM333.9,138.1h1.5v1.5h-1.5zM333.9,140.5h1.5v1.5h-1.5zM333.9,142.9h1.5v1.5h-1.5zM334,145.3h1.5v1.5h-1.5zM334,147.7h1.5v1.5h-1.5zM334,150.1h1.5v1.5h-1.5zM334,152.5h1.5v1.5h-1.5zM334.1,154.9h1.5v1.5h-1.5zM334.1,157.3h1.5v1.5h-1.5zM334.1,159.7h1.5v1.5h-1.5zM334.1,162.1h1.5v1.5h-1.5zM334.1,164.5h1.5v1.5h-1.5zM334.1,166.9h1.5v1.5h-1.5zM334.1,169.3h1.5v1.5h-1.5zM334.1,171.7h1.5v1.5h-1.5zM334.2,174.1h1.5v1.5h-1.5zM334.2,176.5h1.5v1.5h-1.5zM334.2,178.9h1.5v1.5h-1.5zM334.3,181.3h1.5v1.5h-1.5zM334.3,183.7h1.5v1.5h-1.5zM334.4,186.1h1.5v1.5h-1.5zM334.5,188.5h1.5v1.5h-1.5zM334.5,190.9h1.5v1.5h-1.5zM334.6,193.3h1.5v1.5h-1.5zM334.7,195.7h1.5v1.5h-1.5zM334.8,198.1h1.5v1.5h-1.5zM334.9,200.5h1.5v1.5h-1.5zM335,202.9h1.5v1.5h-1.5zM335.1,205.3h1.5v1.5h-1.5zM335.3,207.7h1.5v1.5h-1.5zM335.5,210h1.5v1.5h-1.5zM335.7,212.4h1.5v1.5h-1.5zM336,214.8h1.5v1.5h-1.5z" fill="#a448f0" clip-path="url(#cd)"/>
<path d="M333.9,153.9 L334,154.5 L334.1,155.5 L334.2,156.2 L334.4,157.3 L334.5,158.5 L334.7,159.5 L334.8,160.8 L335,162.1 L335.2,163.3 L335.4,164.3 L335.6,165.6 L335.8,166.8 L336,168.4 L336.2,169.7 L336.3,170.6 L336.5,172.2 L336.6,173.3 L336.8,174.4 L336.9,175.5 L337,176.5 L337.1,177.5 L337.2,178.6 L337.2,179.2 L337.3,179.9" fill="none" stroke="#70309c" stroke-width="0.8" stroke-opacity="1.0" clip-path="url(#cd)"/>
<path d="M333.1,153.1h1.5v1.5h-1.5zM333.4,155.3h1.5v1.5h-1.5zM333.7,157.5h1.5v1.5h-1.5zM334,159.7h1.5v1.5h-1.5zM334.3,161.9h1.5v1.5h-1.5zM334.7,164h1.5v1.5h-1.5zM335,166.2h1.5v1.5h-1.5zM335.3,168.4h1.5v1.5h-1.5zM335.7,170.5h1.5v1.5h-1.5zM335.9,172.7h1.5v1.5h-1.5zM336.2,174.9h1.5v1.5h-1.5zM336.4,177.1h1.5v1.5h-1.5z" fill="#70309c" clip-path="url(#cd)"/>
<path d="M328.5,167.6 L328.6,169.4 L328.8,170.8 L329,172.7 L329.2,173.6 L329.4,175.6 L329.6,177.5 L329.8,179.7 L330,182.4 L330.2,183.2 L330.4,185.7 L330.5,187.1 L330.7,189.1 L330.9,191.2 L331.1,193.8 L331.3,195.3 L331.5,196.2 L331.7,198.5 L332,200.2 L332.2,203.2 L332.5,204.9 L332.7,206.8 L333,208.7 L333.2,210.5 L333.5,212.7 L333.8,214.5 L334,215.8 L334.3,218.9 L334.5,220.5 L334.8,223.1 L335,224.8 L335.3,226.4 L335.5,227.8 L335.7,229.2 L335.9,230 L336.2,230.6 L336.4,232.5 L336.6,233.1 L336.7,233.9 L336.9,233.9 L337,234.1" fill="none" stroke="#30c8f0" stroke-width="0.5" stroke-opacity="1.0" clip-path="url(#cd)"/>
<path d="M327.6,166.8h1.7v1.7h-1.7zM327.9,169.4h1.7v1.7h-1.7zM328.1,171.9h1.7v1.7h-1.7zM328.5,174.5h1.7v1.7h-1.7zM328.8,177.1h1.7v1.7h-1.7zM329,179.7h1.7v1.7h-1.7zM329.3,182.3h1.7v1.7h-1.7zM329.5,184.9h1.7v1.7h-1.7zM329.8,187.4h1.7v1.7h-1.7zM330,190h1.7v1.7h-1.7zM330.2,192.6h1.7v1.7h-1.7zM330.6,195.2h1.7v1.7h-1.7zM330.9,197.8h1.7v1.7h-1.7zM331.2,200.3h1.7v1.7h-1.7zM331.5,202.9h1.7v1.7h-1.7zM331.8,205.5h1.7v1.7h-1.7zM332.2,208.1h1.7v1.7h-1.7zM332.5,210.7h1.7v1.7h-1.7zM332.8,213.2h1.7v1.7h-1.7zM333.2,215.8h1.7v1.7h-1.7zM333.5,218.4h1.7v1.7h-1.7zM333.8,221h1.7v1.7h-1.7zM334.1,223.6h1.7v1.7h-1.7zM334.5,226.1h1.7v1.7h-1.7zM335,228.7h1.7v1.7h-1.7zM335.5,231.2h1.7v1.7h-1.7z" fill="#30c8f0" clip-path="url(#cd)"/>
<path d="M330,144.5 L330.1,146.8 L330.2,148.8 L330.3,151.6 L330.4,153.5 L330.5,156.3 L330.7,159.8 L330.8,162.6 L331,164.8 L331.2,167.7 L331.3,169.9 L331.5,172.8 L331.7,174.5 L331.9,177.2 L332.1,180.5 L332.3,182.3 L332.5,184.7 L332.7,187.9 L332.9,190.2 L333.1,192.2 L333.2,195.2 L333.4,197.9 L333.6,199.8 L333.8,202.8 L334,204.5 L334.2,207.1 L334.4,209.1 L334.6,211.5 L334.8,214.6 L334.9,216.1 L335.1,218.8 L335.3,220.1 L335.5,222.1 L335.7,224.2 L335.9,225.7 L336.1,226.6 L336.3,228.7 L336.5,230.1 L336.7,230.8 L336.9,231.7 L337,233.4" fill="none" stroke="#4070f0" stroke-width="0.5" stroke-opacity="1.0" clip-path="url(#cd)"/>
<path d="M329.2,143.7h1.6v1.6h-1.6zM329.3,146.5h1.6v1.6h-1.6zM329.4,149.3h1.6v1.6h-1.6zM329.6,152.1h1.6v1.6h-1.6zM329.7,154.9h1.6v1.6h-1.6zM329.8,157.7h1.6v1.6h-1.6zM330,160.5h1.6v1.6h-1.6zM330.2,163.3h1.6v1.6h-1.6zM330.3,166.1h1.6v1.6h-1.6zM330.5,168.9h1.6v1.6h-1.6zM330.7,171.7h1.6v1.6h-1.6zM331,174.5h1.6v1.6h-1.6zM331.2,177.3h1.6v1.6h-1.6zM331.4,180.1h1.6v1.6h-1.6zM331.6,182.8h1.6v1.6h-1.6zM331.8,185.6h1.6v1.6h-1.6zM332,188.4h1.6v1.6h-1.6zM332.2,191.2h1.6v1.6h-1.6zM332.4,194h1.6v1.6h-1.6zM332.6,196.8h1.6v1.6h-1.6zM332.9,199.6h1.6v1.6h-1.6zM333.1,202.4h1.6v1.6h-1.6zM333.3,205.2h1.6v1.6h-1.6zM333.5,208h1.6v1.6h-1.6zM333.8,210.8h1.6v1.6h-1.6zM333.9,213.6h1.6v1.6h-1.6zM334.2,216.3h1.6v1.6h-1.6zM334.5,219.1h1.6v1.6h-1.6zM334.8,221.9h1.6v1.6h-1.6zM335.1,224.7h1.6v1.6h-1.6zM335.5,227.5h1.6v1.6h-1.6zM336,230.2h1.6v1.6h-1.6z" fill="#4070f0" clip-path="url(#cd)"/>
<path d="M335.5,140.4 L335.5,141.1 L335.6,143.7 L335.7,145.5 L335.7,148.8 L335.8,150.9 L335.9,154.5 L335.9,157.3 L336,160.3 L336,163.3 L336.1,165.7 L336.1,168.9 L336.1,172.4 L336.2,175.2 L336.2,178.4 L336.3,181.6 L336.3,185.3 L336.4,188.6 L336.4,192.1 L336.5,195.3 L336.6,199.4 L336.6,202.5 L336.7,205.3 L336.8,208 L336.8,209.9" fill="none" stroke="#8a40e0" stroke-width="0.5" stroke-opacity="1.0" clip-path="url(#cd)"/>
<path d="M334.7,139.6h1.6v1.6h-1.6zM334.8,142.4h1.6v1.6h-1.6zM334.9,145.2h1.6v1.6h-1.6zM334.9,148h1.6v1.6h-1.6zM335,150.8h1.6v1.6h-1.6zM335.1,153.6h1.6v1.6h-1.6zM335.1,156.4h1.6v1.6h-1.6zM335.2,159.2h1.6v1.6h-1.6zM335.2,162h1.6v1.6h-1.6zM335.3,164.8h1.6v1.6h-1.6zM335.3,167.6h1.6v1.6h-1.6zM335.3,170.4h1.6v1.6h-1.6zM335.4,173.2h1.6v1.6h-1.6zM335.4,176h1.6v1.6h-1.6zM335.4,178.8h1.6v1.6h-1.6zM335.5,181.6h1.6v1.6h-1.6zM335.5,184.4h1.6v1.6h-1.6zM335.5,187.2h1.6v1.6h-1.6zM335.6,190h1.6v1.6h-1.6zM335.7,192.8h1.6v1.6h-1.6zM335.7,195.6h1.6v1.6h-1.6zM335.8,198.4h1.6v1.6h-1.6zM335.8,201.2h1.6v1.6h-1.6zM335.9,204h1.6v1.6h-1.6zM336,206.8h1.6v1.6h-1.6z" fill="#8a40e0" clip-path="url(#cd)"/>
<path d="M314.6,182.1L321.4,199.6" stroke="#222" stroke-width="1.1" stroke-dasharray="2.2,1.6"/>
<rect x="198.3" y="133.8" width="139.2" height="104.69999999999999" fill="none" stroke="#606060" stroke-width="0.9"/>
<text x="193.8" y="246.8" font-size="6.6" text-anchor="start" fill="#111" stroke="#111" stroke-width="0.18">10<tspan font-size="4.6" dy="-2.4" stroke-width="0.1">-4</tspan></text>
<text x="241.5" y="246.8" font-size="6.6" text-anchor="start" fill="#111" stroke="#111" stroke-width="0.18">10<tspan font-size="4.6" dy="-2.4" stroke-width="0.1">-3</tspan></text>
<text x="290" y="246.8" font-size="6.6" text-anchor="start" fill="#111" stroke="#111" stroke-width="0.18">10<tspan font-size="4.6" dy="-2.4" stroke-width="0.1">-2</tspan></text>
<text x="196.4" y="240.6" font-size="6.6" text-anchor="end" font-weight="normal" fill="#222"  stroke="#222" stroke-width="0.05">0</text>
<text x="196.4" y="214.6" font-size="6.6" text-anchor="end" font-weight="normal" fill="#222"  stroke="#222" stroke-width="0.05">10</text>
<text x="196.4" y="188.6" font-size="6.6" text-anchor="end" font-weight="normal" fill="#222"  stroke="#222" stroke-width="0.05">20</text>
<text x="196.4" y="162.6" font-size="6.6" text-anchor="end" font-weight="normal" fill="#222"  stroke="#222" stroke-width="0.05">30</text>
<text x="196.4" y="136.6" font-size="6.6" text-anchor="end" font-weight="normal" fill="#222"  stroke="#222" stroke-width="0.05">40</text>
<text x="269.5" y="256.4" font-size="9.6" text-anchor="middle" font-weight="bold" fill="#000"  >Current (A)</text>
<text transform="translate(181.5,187.4) rotate(-90)" font-size="8.1" font-weight="bold" text-anchor="middle">d(log <tspan font-style="italic">V</tspan>) / d(log <tspan font-style="italic">I</tspan>)</text>
<text x="202" y="146.3" font-size="10" text-anchor="start" font-weight="bold" fill="#000"  >(d)</text>
<text x="232.3" y="153.7" font-size="10.5" text-anchor="start" font-weight="bold" fill="#000"  >1 mT</text>
<path d="M202.6,162.3h3.2M208.4,162.3h3.2" stroke="#70309c" stroke-width="0.9" stroke-opacity="0.5"/>
<rect x="206.2" y="161.4" width="1.8" height="1.8" fill="#70309c"/>
<text x="213.6" y="164.2" font-size="4.6" fill="#111" stroke="#111" stroke-width="0.08">3.90 K</text>
<path d="M202.6,167.4h3.2M208.4,167.4h3.2" stroke="#a448f0" stroke-width="0.9" stroke-opacity="0.5"/>
<rect x="206.2" y="166.5" width="1.8" height="1.8" fill="#a448f0"/>
<text x="213.6" y="169.3" font-size="4.6" fill="#111" stroke="#111" stroke-width="0.08">3.925 K</text>
<path d="M202.6,172.4h3.2M208.4,172.4h3.2" stroke="#3f78f0" stroke-width="0.9" stroke-opacity="0.5"/>
<rect x="206.2" y="171.5" width="1.8" height="1.8" fill="#3f78f0"/>
<text x="213.6" y="174.3" font-size="4.6" fill="#111" stroke="#111" stroke-width="0.08">3.95 K</text>
<path d="M202.6,177.5h3.2M208.4,177.5h3.2" stroke="#2ed4f0" stroke-width="0.9" stroke-opacity="0.5"/>
<rect x="206.2" y="176.6" width="1.8" height="1.8" fill="#2ed4f0"/>
<text x="213.6" y="179.4" font-size="4.6" fill="#111" stroke="#111" stroke-width="0.08">3.975 K</text>
<path d="M202.6,182.5h3.2M208.4,182.5h3.2" stroke="#3ee03e" stroke-width="0.9" stroke-opacity="0.5"/>
<rect x="206.2" y="181.6" width="1.8" height="1.8" fill="#3ee03e"/>
<text x="213.6" y="184.4" font-size="4.6" fill="#111" stroke="#111" stroke-width="0.08">4.00 K</text>
<path d="M202.6,187.6h3.2M208.4,187.6h3.2" stroke="#c4f020" stroke-width="0.9" stroke-opacity="0.5"/>
<rect x="206.2" y="186.7" width="1.8" height="1.8" fill="#c4f020"/>
<text x="213.6" y="189.5" font-size="4.6" fill="#111" stroke="#111" stroke-width="0.08">4.01 K</text>
<path d="M202.6,192.6h3.2M208.4,192.6h3.2" stroke="#f2c020" stroke-width="0.9" stroke-opacity="0.5"/>
<rect x="206.2" y="191.7" width="1.8" height="1.8" fill="#f2c020"/>
<text x="213.6" y="194.5" font-size="4.6" fill="#111" stroke="#111" stroke-width="0.08">4.02 K</text>
<path d="M202.6,197.7h3.2M208.4,197.7h3.2" stroke="#f48434" stroke-width="0.9" stroke-opacity="0.5"/>
<rect x="206.2" y="196.8" width="1.8" height="1.8" fill="#f48434"/>
<text x="213.6" y="199.6" font-size="4.6" fill="#111" stroke="#111" stroke-width="0.08">4.03 K</text>
<path d="M202.6,202.7h3.2M208.4,202.7h3.2" stroke="#f25030" stroke-width="0.9" stroke-opacity="0.5"/>
<rect x="206.2" y="201.8" width="1.8" height="1.8" fill="#f25030"/>
<text x="213.6" y="204.6" font-size="4.6" fill="#111" stroke="#111" stroke-width="0.08">4.04 K</text>
<path d="M202.6,207.8h3.2M208.4,207.8h3.2" stroke="#e42222" stroke-width="0.9" stroke-opacity="0.5"/>
<rect x="206.2" y="206.8" width="1.8" height="1.8" fill="#e42222"/>
<text x="213.6" y="209.7" font-size="4.6" fill="#111" stroke="#111" stroke-width="0.08">4.05 K</text>
<path d="M202.6,212.8h3.2M208.4,212.8h3.2" stroke="#b41414" stroke-width="0.9" stroke-opacity="0.5"/>
<rect x="206.2" y="211.9" width="1.8" height="1.8" fill="#b41414"/>
<text x="213.6" y="214.7" font-size="4.6" fill="#111" stroke="#111" stroke-width="0.08">4.06 K</text>
<path d="M202.6,217.9h3.2M208.4,217.9h3.2" stroke="#6e1c1c" stroke-width="0.9" stroke-opacity="0.5"/>
<rect x="206.2" y="217" width="1.8" height="1.8" fill="#6e1c1c"/>
<text x="213.6" y="219.8" font-size="4.6" fill="#111" stroke="#111" stroke-width="0.08">4.07 K</text>
<g>
<path d="M247.8,191.5 L258.5,191.5 L293.7,166.7 L282.0,166.7 Z" fill="#b4dc98" stroke="#6a9e58" stroke-width="0.6"/>
<path d="M258.5,191.5 L258.5,202.6 L293.7,177.6 L293.7,166.7 Z" fill="#9ccf80" stroke="#6a9e58" stroke-width="0.6"/>
<path d="M247.8,191.5 L258.5,191.5 L258.5,202.6 L247.8,202.6 Z" fill="#a6d68a" stroke="#6a9e58" stroke-width="0.6"/>
<ellipse cx="258.7" cy="187.6" rx="3.6" ry="1.9" transform="rotate(-35 258.7 187.6)" fill="#3458c8" stroke="#c8dcff" stroke-width="0.5"/>
<ellipse cx="258.7" cy="187.6" rx="1.5" ry="0.6" transform="rotate(-35 258.7 187.6)" fill="#8fb0f0"/>
<ellipse cx="266.8" cy="181.9" rx="3.6" ry="1.9" transform="rotate(-35 266.8 181.9)" fill="#3458c8" stroke="#c8dcff" stroke-width="0.5"/>
<ellipse cx="266.8" cy="181.9" rx="1.5" ry="0.6" transform="rotate(-35 266.8 181.9)" fill="#8fb0f0"/>
<ellipse cx="274.9" cy="176.1" rx="3.6" ry="1.9" transform="rotate(-35 274.9 176.1)" fill="#3458c8" stroke="#c8dcff" stroke-width="0.5"/>
<ellipse cx="274.9" cy="176.1" rx="1.5" ry="0.6" transform="rotate(-35 274.9 176.1)" fill="#8fb0f0"/>
<ellipse cx="283" cy="170.3" rx="3.6" ry="1.9" transform="rotate(-35 283 170.3)" fill="#3458c8" stroke="#c8dcff" stroke-width="0.5"/>
<ellipse cx="283" cy="170.3" rx="1.5" ry="0.6" transform="rotate(-35 283 170.3)" fill="#8fb0f0"/>
<path d="M286,189.8 V179.5" stroke="#1f4fb0" stroke-width="1.2"/><path d="M284.2,180.6 L286,176.9 L287.8,180.6Z" fill="#1f4fb0"/>
<text x="289.8" y="187.6" font-size="5.8" font-weight="bold" fill="#1f4fb0" stroke="#1f4fb0" stroke-width="0.15">H</text>
<path d="M244.1,204.8 L252,199.2" stroke="#d8501a" stroke-width="1.2"/><path d="M250.2,198.1 L254.1,197.7 L252.3,201.1Z" fill="#d8501a"/>
<text x="242.3" y="201.5" font-size="5.4" font-weight="bold" fill="#d8501a" stroke="#d8501a" stroke-width="0.15">I</text>
<path d="M262.6,201.4 V192.5 M262.6,201.4 L270,195.5 M262.6,201.4 H272.5" stroke="#111" stroke-width="0.6"/>
<path d="M261.7,193 L262.6,190.8 L263.5,193Z M272.3,200.5 L274.2,201.4 L272.3,202.3Z M269,194.8 L271.2,194.4 L270.3,196.4Z" fill="#111"/>
<text x="273.8" y="198.2" font-size="5" font-weight="bold" fill="#111">b-axis</text>
<text x="264.5" y="208.2" font-size="5" font-weight="bold" font-style="italic" fill="#111">(a,c) plane</text>
</g>
</svg></body></html>
